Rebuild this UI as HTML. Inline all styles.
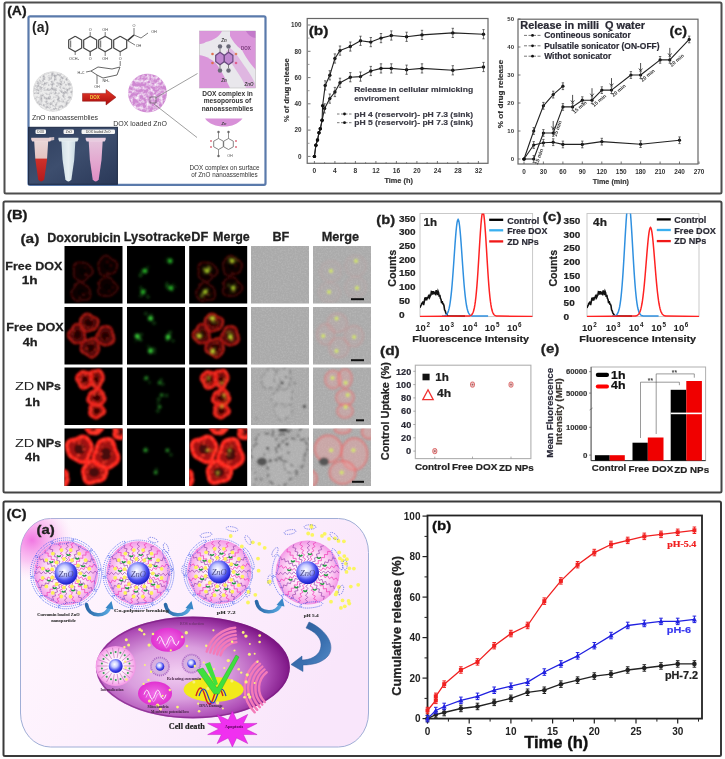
<!DOCTYPE html>
<html><head><meta charset="utf-8"><style>
html,body{margin:0;padding:0;background:#fff;}
svg{display:block;filter:blur(0.45px);}
</style></head><body>
<svg width="725" height="759" viewBox="0 0 725 759">
<rect width="725" height="759" fill="#fff"/>
<rect x="4.5" y="2.5" width="717.0" height="191.0" fill="none" stroke="#4d4d4d" stroke-width="2" rx="1.5" />
<rect x="3.5" y="201.5" width="718.0" height="291.0" fill="none" stroke="#444" stroke-width="2" rx="1.5" />
<rect x="3.5" y="501.5" width="717.5" height="254.5" fill="none" stroke="#3a3a3a" stroke-width="2" rx="1.5" />
<text x="7.16" y="14.90" font-size="13.5" font-weight="bold" fill="#1a1a1a" stroke="#1a1a1a" stroke-width="0.30" font-family="'Liberation Sans',Arial,sans-serif" textLength="19.38" lengthAdjust="spacingAndGlyphs">(A)</text>
<text x="6.96" y="218.80" font-size="13.5" font-weight="bold" fill="#1a1a1a" stroke="#1a1a1a" stroke-width="0.30" font-family="'Liberation Sans',Arial,sans-serif" textLength="20.58" lengthAdjust="spacingAndGlyphs">(B)</text>
<text x="6.46" y="517.60" font-size="13.5" font-weight="bold" fill="#1a1a1a" stroke="#1a1a1a" stroke-width="0.30" font-family="'Liberation Sans',Arial,sans-serif" textLength="20.08" lengthAdjust="spacingAndGlyphs">(C)</text>
<defs>
<filter id="fGrey" x="0" y="0" width="1" height="1"><feTurbulence type="fractalNoise" baseFrequency="0.35" numOctaves="2" seed="3"/>
<feColorMatrix type="matrix" values="0 0 0 0 0.42  0 0 0 0 0.42  0 0 0 0 0.45  -2.6 0 0 0 1.55"/></filter>
<filter id="fPink" x="0" y="0" width="1" height="1"><feTurbulence type="fractalNoise" baseFrequency="0.3" numOctaves="2" seed="5"/>
<feColorMatrix type="matrix" values="0 0 0 0 0.98  0 0 0 0 0.96  0 0 0 0 0.99  -2.2 0 0 0 1.35"/></filter>
<clipPath id="cGrey"><circle cx="53" cy="91.5" r="20"/></clipPath>
<clipPath id="cPink"><circle cx="147.5" cy="93.2" r="19.4"/></clipPath>
<clipPath id="cSq"><rect x="199.5" y="31" width="56" height="57"/></clipPath>
<linearGradient id="gTubeR" x1="0" y1="0" x2="0" y2="1"><stop offset="0" stop-color="#f0dcdc"/><stop offset="0.42" stop-color="#ecc8c4"/><stop offset="0.45" stop-color="#d43028"/><stop offset="1" stop-color="#b81818"/></linearGradient>
<linearGradient id="gTubeW" x1="0" y1="0" x2="1" y2="0"><stop offset="0" stop-color="#d8e6ec"/><stop offset="0.5" stop-color="#eef6f8"/><stop offset="1" stop-color="#d0e0e8"/></linearGradient>
<linearGradient id="gTubeP" x1="0" y1="0" x2="0" y2="1"><stop offset="0" stop-color="#ecc8e0"/><stop offset="1" stop-color="#e890c8"/></linearGradient>
<linearGradient id="gPhoto" x1="0" y1="0" x2="1" y2="1"><stop offset="0" stop-color="#2d3d5c"/><stop offset="0.5" stop-color="#3d4e6e"/><stop offset="1" stop-color="#2a3858"/></linearGradient>
</defs>
<rect x="28.5" y="16.3" width="237.0" height="168.5" fill="none" stroke="#5a7aab" stroke-width="2.2" rx="1.5" />
<text x="32.0" y="32.0" font-size="14" font-weight="bold" text-anchor="start" fill="#222" font-family="'Liberation Sans',Arial,sans-serif" >(a)</text>
<polyline points="75.2,36.3 68.7,40.1 68.7,47.9 75.2,51.7 81.7,47.9 81.7,40.1 75.2,36.3" fill="none" stroke="#444" stroke-width="1.2" stroke-linejoin="round" />
<polyline points="90.2,36.3 83.7,40.1 83.7,47.9 90.2,51.7 96.7,47.9 96.7,40.1 90.2,36.3" fill="none" stroke="#444" stroke-width="1.2" stroke-linejoin="round" />
<polyline points="105.2,36.3 98.7,40.1 98.7,47.9 105.2,51.7 111.7,47.9 111.7,40.1 105.2,36.3" fill="none" stroke="#444" stroke-width="1.2" stroke-linejoin="round" />
<polyline points="120.2,36.3 113.7,40.1 113.7,47.9 120.2,51.7 126.7,47.9 126.7,40.1 120.2,36.3" fill="none" stroke="#444" stroke-width="1.2" stroke-linejoin="round" />
<line x1="70.7" y1="40.5" x2="70.7" y2="47.5" stroke="#555" stroke-width="0.9" />
<line x1="100.7" y1="40.5" x2="100.7" y2="47.5" stroke="#555" stroke-width="0.9" />
<line x1="90.2" y1="37.2" x2="90.2" y2="32.0" stroke="#555" stroke-width="0.8" />
<text x="90.2" y="31.0" font-size="3.8" font-weight="normal" text-anchor="middle" fill="#444" font-family="'Liberation Sans',Arial,sans-serif" >O</text>
<line x1="90.2" y1="50.8" x2="90.2" y2="56.0" stroke="#555" stroke-width="1.2" />
<text x="90.2" y="60.0" font-size="3.8" font-weight="normal" text-anchor="middle" fill="#444" font-family="'Liberation Sans',Arial,sans-serif" >O</text>
<line x1="105.2" y1="37.2" x2="105.2" y2="32.0" stroke="#555" stroke-width="0.8" />
<text x="105.2" y="31.0" font-size="3.8" font-weight="normal" text-anchor="middle" fill="#444" font-family="'Liberation Sans',Arial,sans-serif" >OH</text>
<line x1="105.2" y1="50.8" x2="105.2" y2="56.0" stroke="#555" stroke-width="0.8" />
<text x="105.2" y="60.0" font-size="3.8" font-weight="normal" text-anchor="middle" fill="#444" font-family="'Liberation Sans',Arial,sans-serif" >OH</text>
<line x1="75.2" y1="50.8" x2="75.2" y2="55.0" stroke="#555" stroke-width="0.8" />
<text x="74.0" y="59.5" font-size="3.8" font-weight="normal" text-anchor="middle" fill="#444" font-family="'Liberation Sans',Arial,sans-serif" >OCH₃</text>
<line x1="127.5" y1="40.6" x2="134.0" y2="35.0" stroke="#333" stroke-width="1.6" />
<line x1="134.0" y1="35.0" x2="134.0" y2="28.0" stroke="#555" stroke-width="0.8" />
<text x="134.0" y="27.0" font-size="3.8" font-weight="normal" text-anchor="middle" fill="#444" font-family="'Liberation Sans',Arial,sans-serif" >O</text>
<line x1="134.0" y1="35.0" x2="141.0" y2="38.0" stroke="#555" stroke-width="0.8" />
<line x1="141.0" y1="38.0" x2="148.0" y2="33.0" stroke="#555" stroke-width="0.8" />
<text x="154.0" y="33.0" font-size="3.8" font-weight="normal" text-anchor="middle" fill="#444" font-family="'Liberation Sans',Arial,sans-serif" >OH</text>
<line x1="127.5" y1="40.6" x2="135.0" y2="45.0" stroke="#555" stroke-width="0.8" />
<text x="138.5" y="46.5" font-size="3.8" font-weight="normal" text-anchor="middle" fill="#444" font-family="'Liberation Sans',Arial,sans-serif" >OH</text>
<line x1="120.2" y1="50.8" x2="120.2" y2="56.0" stroke="#555" stroke-width="0.8" />
<text x="120.2" y="59.5" font-size="3.8" font-weight="normal" text-anchor="middle" fill="#444" font-family="'Liberation Sans',Arial,sans-serif" >O</text>
<line x1="120.2" y1="61.0" x2="120.2" y2="66.0" stroke="#555" stroke-width="0.8" />
<polyline points="91.0,71.0 98.0,67.0 112.0,69.0 120.0,67.0 117.0,75.0 103.0,78.0 97.0,75.0 91.0,71.0" fill="none" stroke="#555" stroke-width="0.9" stroke-linejoin="round" />
<line x1="97.0" y1="75.0" x2="97.0" y2="84.0" stroke="#555" stroke-width="0.8" />
<text x="97.0" y="87.5" font-size="3.8" font-weight="normal" text-anchor="middle" fill="#444" font-family="'Liberation Sans',Arial,sans-serif" >OH</text>
<line x1="91.0" y1="71.0" x2="86.0" y2="72.0" stroke="#555" stroke-width="0.8" />
<text x="81.0" y="74.0" font-size="3.8" font-weight="normal" text-anchor="middle" fill="#444" font-family="'Liberation Sans',Arial,sans-serif" >H₃C</text>
<text x="106.0" y="82.0" font-size="3.8" font-weight="normal" text-anchor="middle" fill="#444" font-family="'Liberation Sans',Arial,sans-serif" >NH₂</text>
<circle cx="53" cy="91.5" r="20" fill="#ececec"/>
<g clip-path="url(#cGrey)"><rect x="33" y="71.5" width="40" height="40" filter="url(#fGrey)"/></g>
<circle cx="53" cy="91.5" r="19.6" fill="none" stroke="#e0e0e0" stroke-width="0.8"/>
<text x="65.0" y="119.5" font-size="7" font-weight="normal" text-anchor="middle" fill="#333" font-family="'Liberation Sans',Arial,sans-serif" >ZnO nanoassemblies</text>
<defs><linearGradient id="gArr" x1="0" y1="0" x2="0" y2="1"><stop offset="0" stop-color="#e83a2a"/><stop offset="1" stop-color="#a80c0c"/></linearGradient></defs>
<path d="M82.5,93.4 L106,93.4 L106,89.5 L116,97.3 L106,105 L106,101.2 L82.5,101.2 Z" fill="url(#gArr)" stroke="#901010" stroke-width="0.5"/>
<text x="95.0" y="99.3" font-size="4.5" font-weight="bold" text-anchor="middle" fill="#f6d040" font-family="'Liberation Sans',Arial,sans-serif" >DOX</text>
<circle cx="147.5" cy="93.2" r="19.4" fill="#cf88d2"/>
<g clip-path="url(#cPink)"><rect x="128" y="73.8" width="39" height="39" filter="url(#fPink)"/></g>
<rect x="150" y="97" width="6" height="6" fill="none" stroke="#555" stroke-width="0.6"/>
<text x="140.0" y="125.5" font-size="7" font-weight="normal" text-anchor="middle" fill="#333" font-family="'Liberation Sans',Arial,sans-serif" >DOX loaded ZnO</text>
<line x1="155.5" y1="98.0" x2="197.5" y2="73.5" stroke="#777" stroke-width="0.7" />
<line x1="154.0" y1="104.0" x2="197.0" y2="137.5" stroke="#777" stroke-width="0.7" />
<rect x="199.5" y="31" width="56" height="57" fill="#e9e7ec" stroke="#bbb" stroke-width="0.6"/>
<g clip-path="url(#cSq)" fill="#d890d8" opacity="0.92">
<path d="M199,31 L222,31 C220,36 214,40 206,42 C203,44 200,44 199,44 Z"/>
<path d="M230,31 L256,31 L256,70 C252,66 246,58 242,50 C236,46 232,40 230,36 Z"/>
<path d="M199,55 C206,56 214,60 218,66 C222,72 226,80 230,88 L199,88 Z"/>
<path d="M230,48 C236,52 240,60 246,68 C250,74 254,80 256,86 L256,88 L246,88 C244,82 240,76 236,70 C232,64 228,58 226,52 Z" opacity="0.6"/>
<path d="M246,31 L256,31 L256,38 C252,38 248,35 246,31 Z" fill="#c070c8"/>
</g>
<circle cx="220" cy="46.5" r="2.2" fill="#6a6a78"/>
<circle cx="228.5" cy="46.5" r="2.2" fill="#6a6a78"/>
<circle cx="220" cy="70.5" r="2.2" fill="#6a6a78"/>
<circle cx="228.5" cy="70.5" r="2.2" fill="#6a6a78"/>
<polygon points="220.0,52.3 215.7,55.4 215.7,61.6 220.0,64.7 224.3,61.6 224.3,55.4 220.0,52.3" fill="#c088d0" stroke="#6a4a80" stroke-width="1.2"/>
<polygon points="228.6,52.3 224.3,55.4 224.3,61.6 228.6,64.7 232.9,61.6 232.9,55.4 228.6,52.3" fill="#c088d0" stroke="#6a4a80" stroke-width="1.2"/>
<line x1="220.0" y1="49.0" x2="220.0" y2="52.3" stroke="#666" stroke-width="0.8" />
<line x1="228.5" y1="49.0" x2="228.5" y2="52.3" stroke="#666" stroke-width="0.8" />
<line x1="220.0" y1="64.7" x2="220.0" y2="68.0" stroke="#666" stroke-width="0.8" />
<line x1="228.5" y1="64.7" x2="228.5" y2="68.0" stroke="#666" stroke-width="0.8" />
<circle cx="212.5" cy="54" r="1.3" fill="#e07050"/>
<circle cx="212.5" cy="63" r="1.3" fill="#e07050"/>
<circle cx="236" cy="54" r="1.3" fill="#e08060"/>
<circle cx="236" cy="63" r="1.3" fill="#e06090"/>
<text x="224.0" y="42.0" font-size="4.5" font-weight="bold" text-anchor="middle" fill="#444" font-family="'Liberation Sans',Arial,sans-serif"  style="font-style:italic">Zn</text>
<text x="224.0" y="81.5" font-size="4.5" font-weight="bold" text-anchor="middle" fill="#444" font-family="'Liberation Sans',Arial,sans-serif"  style="font-style:italic">Zn</text>
<text x="246.0" y="49.5" font-size="4.5" font-weight="bold" text-anchor="middle" fill="#7a3a7a" font-family="'Liberation Sans',Arial,sans-serif" >DOX</text>
<text x="249.0" y="86.0" font-size="4.5" font-weight="bold" text-anchor="middle" fill="#444" font-family="'Liberation Sans',Arial,sans-serif"  style="font-style:italic">ZnO</text>
<text x="227.5" y="96.0" font-size="6.6" font-weight="bold" text-anchor="middle" fill="#333" font-family="'Liberation Sans',Arial,sans-serif" >DOX complex in</text>
<text x="227.5" y="103.0" font-size="6.6" font-weight="bold" text-anchor="middle" fill="#333" font-family="'Liberation Sans',Arial,sans-serif" >mesoporous of</text>
<text x="227.5" y="110.5" font-size="6.6" font-weight="bold" text-anchor="middle" fill="#333" font-family="'Liberation Sans',Arial,sans-serif" >nanoassemblies</text>
<path d="M205,118.5 L242.5,118.5 C238,124 232,126.5 224,126.5 C216,126.5 209,124 205,118.5 Z" fill="#d890d8"/>
<text x="224.0" y="125.0" font-size="4" font-weight="bold" text-anchor="middle" fill="#444" font-family="'Liberation Sans',Arial,sans-serif"  style="font-style:italic">Zn</text>
<polyline points="218.5,138.5 213.7,141.2 213.7,146.8 218.5,149.5 223.3,146.8 223.3,141.2 218.5,138.5" fill="none" stroke="#666" stroke-width="0.8" stroke-linejoin="round" />
<polyline points="228.5,138.5 223.7,141.2 223.7,146.8 228.5,149.5 233.3,146.8 233.3,141.2 228.5,138.5" fill="none" stroke="#666" stroke-width="0.8" stroke-linejoin="round" />
<line x1="218.5" y1="138.5" x2="218.5" y2="133.0" stroke="#666" stroke-width="0.7" />
<circle cx="218.5" cy="132" r="1.2" fill="#666"/>
<line x1="228.5" y1="138.5" x2="228.5" y2="133.0" stroke="#666" stroke-width="0.7" />
<circle cx="228.5" cy="132" r="1.2" fill="#666"/>
<line x1="218.5" y1="149.5" x2="218.5" y2="155.0" stroke="#666" stroke-width="0.7" />
<circle cx="218.5" cy="156" r="1.2" fill="#666"/>
<text x="230.0" y="157.0" font-size="3.8" font-weight="normal" text-anchor="middle" fill="#555" font-family="'Liberation Sans',Arial,sans-serif" >OH</text>
<circle cx="211" cy="141" r="1" fill="#e07080"/>
<circle cx="211" cy="147" r="1" fill="#e07080"/>
<circle cx="236" cy="141" r="1" fill="#e07080"/>
<circle cx="236" cy="147" r="1" fill="#e07080"/>
<text x="224.5" y="169.5" font-size="6.3" font-weight="normal" text-anchor="middle" fill="#333" font-family="'Liberation Sans',Arial,sans-serif" >DOX complex on surface</text>
<text x="224.5" y="176.5" font-size="6.3" font-weight="normal" text-anchor="middle" fill="#333" font-family="'Liberation Sans',Arial,sans-serif" >of ZnO nanoassemblies</text>
<rect x="28.6" y="127.3" width="88.8" height="57.0" fill="url(#gPhoto)" stroke="none" stroke-width="1" rx="0" />
<rect x="28.6" y="127.3" width="88.8" height="57.0" fill="none" stroke="#1c2844" stroke-width="1" rx="0" />
<rect x="35.5" y="129.5" width="10.5" height="4.5" fill="#f4f4f4" stroke="none" stroke-width="1" rx="1.2" />
<text x="40.8" y="133.1" font-size="3.2" font-weight="normal" text-anchor="middle" fill="#333" font-family="'Liberation Sans',Arial,sans-serif" >DOX</text>
<rect x="63.5" y="129.5" width="10.5" height="4.5" fill="#f4f4f4" stroke="none" stroke-width="1" rx="1.2" />
<text x="68.8" y="133.1" font-size="3.2" font-weight="normal" text-anchor="middle" fill="#333" font-family="'Liberation Sans',Arial,sans-serif" >ZnO</text>
<rect x="81.5" y="129.5" width="33.5" height="4.5" fill="#f4f4f4" stroke="none" stroke-width="1" rx="1.2" />
<text x="98.2" y="133.1" font-size="3.2" font-weight="normal" text-anchor="middle" fill="#333" font-family="'Liberation Sans',Arial,sans-serif" >DOX loaded ZnO</text>
<path d="M34.2,141 L48.2,141 L47.0,160 L44.2,179.5 Q41.2,183.5 38.2,179.5 L35.400000000000006,160 Z" fill="url(#gTubeR)" opacity="0.96"/>
<path d="M31.200000000000003,137.8 L51.2,137.8 Q51.7,139.5 50.2,141.4 L32.2,141.4 Q30.700000000000003,139.5 31.200000000000003,137.8 Z" fill="#f0d8d8" opacity="0.95"/>
<path d="M49.2,137.5 L54.2,137 L54.2,140 L49.2,141 Z" fill="#f0d8d8" opacity="0.8"/>
<path d="M61.400000000000006,141 L75.4,141 L74.2,160 L71.4,179.5 Q68.4,183.5 65.4,179.5 L62.60000000000001,160 Z" fill="url(#gTubeW)" opacity="0.96"/>
<path d="M58.400000000000006,137.8 L78.4,137.8 Q78.9,139.5 77.4,141.4 L59.400000000000006,141.4 Q57.900000000000006,139.5 58.400000000000006,137.8 Z" fill="#e8f0f2" opacity="0.95"/>
<path d="M88.7,141 L102.7,141 L101.5,160 L98.7,179.5 Q95.7,183.5 92.7,179.5 L89.9,160 Z" fill="url(#gTubeP)" opacity="0.96"/>
<path d="M85.7,137.8 L105.7,137.8 Q106.2,139.5 104.7,141.4 L86.7,141.4 Q85.2,139.5 85.7,137.8 Z" fill="#f0d4e6" opacity="0.95"/>
<rect x="307.2" y="18.5" width="180.8" height="144.8" fill="none" stroke="#666" stroke-width="1.2" rx="0" />
<line x1="314.4" y1="163.5" x2="314.4" y2="161.0" stroke="#555" stroke-width="0.8" />
<text x="314.4" y="172.6" font-size="6.6" font-weight="bold" text-anchor="middle" fill="#333" font-family="'Liberation Sans',Arial,sans-serif" >0</text>
<line x1="334.9" y1="163.5" x2="334.9" y2="161.0" stroke="#555" stroke-width="0.8" />
<text x="334.9" y="172.6" font-size="6.6" font-weight="bold" text-anchor="middle" fill="#333" font-family="'Liberation Sans',Arial,sans-serif" >4</text>
<line x1="355.4" y1="163.5" x2="355.4" y2="161.0" stroke="#555" stroke-width="0.8" />
<text x="355.4" y="172.6" font-size="6.6" font-weight="bold" text-anchor="middle" fill="#333" font-family="'Liberation Sans',Arial,sans-serif" >8</text>
<line x1="375.9" y1="163.5" x2="375.9" y2="161.0" stroke="#555" stroke-width="0.8" />
<text x="375.9" y="172.6" font-size="6.6" font-weight="bold" text-anchor="middle" fill="#333" font-family="'Liberation Sans',Arial,sans-serif" >12</text>
<line x1="396.4" y1="163.5" x2="396.4" y2="161.0" stroke="#555" stroke-width="0.8" />
<text x="396.4" y="172.6" font-size="6.6" font-weight="bold" text-anchor="middle" fill="#333" font-family="'Liberation Sans',Arial,sans-serif" >16</text>
<line x1="416.9" y1="163.5" x2="416.9" y2="161.0" stroke="#555" stroke-width="0.8" />
<text x="416.9" y="172.6" font-size="6.6" font-weight="bold" text-anchor="middle" fill="#333" font-family="'Liberation Sans',Arial,sans-serif" >20</text>
<line x1="437.4" y1="163.5" x2="437.4" y2="161.0" stroke="#555" stroke-width="0.8" />
<text x="437.4" y="172.6" font-size="6.6" font-weight="bold" text-anchor="middle" fill="#333" font-family="'Liberation Sans',Arial,sans-serif" >24</text>
<line x1="457.9" y1="163.5" x2="457.9" y2="161.0" stroke="#555" stroke-width="0.8" />
<text x="457.9" y="172.6" font-size="6.6" font-weight="bold" text-anchor="middle" fill="#333" font-family="'Liberation Sans',Arial,sans-serif" >28</text>
<line x1="478.4" y1="163.5" x2="478.4" y2="161.0" stroke="#555" stroke-width="0.8" />
<text x="478.4" y="172.6" font-size="6.6" font-weight="bold" text-anchor="middle" fill="#333" font-family="'Liberation Sans',Arial,sans-serif" >32</text>
<line x1="324.6" y1="163.5" x2="324.6" y2="162.0" stroke="#555" stroke-width="0.6" />
<line x1="345.1" y1="163.5" x2="345.1" y2="162.0" stroke="#555" stroke-width="0.6" />
<line x1="365.6" y1="163.5" x2="365.6" y2="162.0" stroke="#555" stroke-width="0.6" />
<line x1="386.1" y1="163.5" x2="386.1" y2="162.0" stroke="#555" stroke-width="0.6" />
<line x1="406.6" y1="163.5" x2="406.6" y2="162.0" stroke="#555" stroke-width="0.6" />
<line x1="427.1" y1="163.5" x2="427.1" y2="162.0" stroke="#555" stroke-width="0.6" />
<line x1="447.6" y1="163.5" x2="447.6" y2="162.0" stroke="#555" stroke-width="0.6" />
<line x1="468.1" y1="163.5" x2="468.1" y2="162.0" stroke="#555" stroke-width="0.6" />
<line x1="308.0" y1="156.4" x2="310.5" y2="156.4" stroke="#555" stroke-width="0.8" />
<text x="301.5" y="158.6" font-size="6.3" font-weight="bold" text-anchor="end" fill="#333" font-family="'Liberation Sans',Arial,sans-serif" >0</text>
<line x1="308.0" y1="130.1" x2="310.5" y2="130.1" stroke="#555" stroke-width="0.8" />
<text x="301.5" y="132.3" font-size="6.3" font-weight="bold" text-anchor="end" fill="#333" font-family="'Liberation Sans',Arial,sans-serif" >20</text>
<line x1="308.0" y1="103.8" x2="310.5" y2="103.8" stroke="#555" stroke-width="0.8" />
<text x="301.5" y="106.0" font-size="6.3" font-weight="bold" text-anchor="end" fill="#333" font-family="'Liberation Sans',Arial,sans-serif" >40</text>
<line x1="308.0" y1="77.6" x2="310.5" y2="77.6" stroke="#555" stroke-width="0.8" />
<text x="301.5" y="79.8" font-size="6.3" font-weight="bold" text-anchor="end" fill="#333" font-family="'Liberation Sans',Arial,sans-serif" >60</text>
<line x1="308.0" y1="51.3" x2="310.5" y2="51.3" stroke="#555" stroke-width="0.8" />
<text x="301.5" y="53.5" font-size="6.3" font-weight="bold" text-anchor="end" fill="#333" font-family="'Liberation Sans',Arial,sans-serif" >80</text>
<line x1="308.0" y1="25.0" x2="310.5" y2="25.0" stroke="#555" stroke-width="0.8" />
<text x="301.5" y="27.2" font-size="6.3" font-weight="bold" text-anchor="end" fill="#333" font-family="'Liberation Sans',Arial,sans-serif" >100</text>
<line x1="308.0" y1="143.3" x2="309.5" y2="143.3" stroke="#555" stroke-width="0.6" />
<line x1="308.0" y1="117.0" x2="309.5" y2="117.0" stroke="#555" stroke-width="0.6" />
<line x1="308.0" y1="90.7" x2="309.5" y2="90.7" stroke="#555" stroke-width="0.6" />
<line x1="308.0" y1="64.4" x2="309.5" y2="64.4" stroke="#555" stroke-width="0.6" />
<line x1="308.0" y1="38.1" x2="309.5" y2="38.1" stroke="#555" stroke-width="0.6" />
<text x="384.41" y="183.30" font-size="7.2" font-weight="bold" fill="#333" stroke="#333" stroke-width="0.16" font-family="'Liberation Sans',Arial,sans-serif" textLength="28.48" lengthAdjust="spacingAndGlyphs">Time (h)</text>
<text x="0" y="0" transform="translate(288.60,122.06) rotate(-90)" font-size="6.6" font-weight="bold" fill="#333" stroke="#333" stroke-width="0.15" font-family="'Liberation Sans',Arial,sans-serif" textLength="63.83" lengthAdjust="spacingAndGlyphs">% of drug release</text>
<text x="308.68" y="34.50" font-size="13" font-weight="bold" fill="#1a1a1a" stroke="#1a1a1a" stroke-width="0.29" font-family="'Liberation Sans',Arial,sans-serif" textLength="19.84" lengthAdjust="spacingAndGlyphs">(b)</text>
<polyline points="314.4,156.4 315.9,145.2 317.5,140.0 319.0,132.7 320.3,128.8 322.1,120.3 322.6,105.8 325.2,85.4 329.8,75.3 334.9,58.5 340.0,50.6 350.3,46.5 360.5,40.8 370.8,42.1 381.0,38.1 391.3,35.5 406.6,36.8 422.0,34.9 452.8,32.9 483.5,34.2" fill="none" stroke="#222" stroke-width="1.1" stroke-linejoin="round" />
<circle cx="314.4" cy="156.4" r="1.7" fill="#111"/>
<circle cx="315.9" cy="145.2" r="1.7" fill="#111"/>
<circle cx="317.5" cy="140.0" r="1.7" fill="#111"/>
<circle cx="319.0" cy="132.7" r="1.7" fill="#111"/>
<circle cx="320.3" cy="128.8" r="1.7" fill="#111"/>
<circle cx="322.1" cy="120.3" r="1.7" fill="#111"/>
<circle cx="322.6" cy="105.8" r="1.7" fill="#111"/>
<circle cx="325.2" cy="85.4" r="1.7" fill="#111"/>
<line x1="325.2" y1="80.8" x2="325.2" y2="90.0" stroke="#333" stroke-width="0.7" />
<line x1="324.0" y1="80.8" x2="326.4" y2="80.8" stroke="#333" stroke-width="0.7" />
<line x1="324.0" y1="90.0" x2="326.4" y2="90.0" stroke="#333" stroke-width="0.7" />
<circle cx="329.8" cy="75.3" r="1.7" fill="#111"/>
<line x1="329.8" y1="70.7" x2="329.8" y2="79.9" stroke="#333" stroke-width="0.7" />
<line x1="328.6" y1="70.7" x2="331.0" y2="70.7" stroke="#333" stroke-width="0.7" />
<line x1="328.6" y1="79.9" x2="331.0" y2="79.9" stroke="#333" stroke-width="0.7" />
<circle cx="334.9" cy="58.5" r="1.7" fill="#111"/>
<line x1="334.9" y1="53.9" x2="334.9" y2="63.1" stroke="#333" stroke-width="0.7" />
<line x1="333.7" y1="53.9" x2="336.1" y2="53.9" stroke="#333" stroke-width="0.7" />
<line x1="333.7" y1="63.1" x2="336.1" y2="63.1" stroke="#333" stroke-width="0.7" />
<circle cx="340.0" cy="50.6" r="1.7" fill="#111"/>
<line x1="340.0" y1="46.0" x2="340.0" y2="55.2" stroke="#333" stroke-width="0.7" />
<line x1="338.8" y1="46.0" x2="341.2" y2="46.0" stroke="#333" stroke-width="0.7" />
<line x1="338.8" y1="55.2" x2="341.2" y2="55.2" stroke="#333" stroke-width="0.7" />
<circle cx="350.3" cy="46.5" r="1.7" fill="#111"/>
<line x1="350.3" y1="42.0" x2="350.3" y2="51.1" stroke="#333" stroke-width="0.7" />
<line x1="349.1" y1="42.0" x2="351.5" y2="42.0" stroke="#333" stroke-width="0.7" />
<line x1="349.1" y1="51.1" x2="351.5" y2="51.1" stroke="#333" stroke-width="0.7" />
<circle cx="360.5" cy="40.8" r="1.7" fill="#111"/>
<line x1="360.5" y1="36.2" x2="360.5" y2="45.4" stroke="#333" stroke-width="0.7" />
<line x1="359.3" y1="36.2" x2="361.7" y2="36.2" stroke="#333" stroke-width="0.7" />
<line x1="359.3" y1="45.4" x2="361.7" y2="45.4" stroke="#333" stroke-width="0.7" />
<circle cx="370.8" cy="42.1" r="1.7" fill="#111"/>
<line x1="370.8" y1="37.5" x2="370.8" y2="46.7" stroke="#333" stroke-width="0.7" />
<line x1="369.6" y1="37.5" x2="372.0" y2="37.5" stroke="#333" stroke-width="0.7" />
<line x1="369.6" y1="46.7" x2="372.0" y2="46.7" stroke="#333" stroke-width="0.7" />
<circle cx="381.0" cy="38.1" r="1.7" fill="#111"/>
<line x1="381.0" y1="33.5" x2="381.0" y2="42.7" stroke="#333" stroke-width="0.7" />
<line x1="379.8" y1="33.5" x2="382.2" y2="33.5" stroke="#333" stroke-width="0.7" />
<line x1="379.8" y1="42.7" x2="382.2" y2="42.7" stroke="#333" stroke-width="0.7" />
<circle cx="391.3" cy="35.5" r="1.7" fill="#111"/>
<line x1="391.3" y1="30.9" x2="391.3" y2="40.1" stroke="#333" stroke-width="0.7" />
<line x1="390.1" y1="30.9" x2="392.5" y2="30.9" stroke="#333" stroke-width="0.7" />
<line x1="390.1" y1="40.1" x2="392.5" y2="40.1" stroke="#333" stroke-width="0.7" />
<circle cx="406.6" cy="36.8" r="1.7" fill="#111"/>
<line x1="406.6" y1="32.2" x2="406.6" y2="41.4" stroke="#333" stroke-width="0.7" />
<line x1="405.4" y1="32.2" x2="407.8" y2="32.2" stroke="#333" stroke-width="0.7" />
<line x1="405.4" y1="41.4" x2="407.8" y2="41.4" stroke="#333" stroke-width="0.7" />
<circle cx="422.0" cy="34.9" r="1.7" fill="#111"/>
<line x1="422.0" y1="30.3" x2="422.0" y2="39.5" stroke="#333" stroke-width="0.7" />
<line x1="420.8" y1="30.3" x2="423.2" y2="30.3" stroke="#333" stroke-width="0.7" />
<line x1="420.8" y1="39.5" x2="423.2" y2="39.5" stroke="#333" stroke-width="0.7" />
<circle cx="452.8" cy="32.9" r="1.7" fill="#111"/>
<line x1="452.8" y1="28.3" x2="452.8" y2="37.5" stroke="#333" stroke-width="0.7" />
<line x1="451.6" y1="28.3" x2="454.0" y2="28.3" stroke="#333" stroke-width="0.7" />
<line x1="451.6" y1="37.5" x2="454.0" y2="37.5" stroke="#333" stroke-width="0.7" />
<circle cx="483.5" cy="34.2" r="1.7" fill="#111"/>
<line x1="483.5" y1="29.6" x2="483.5" y2="38.8" stroke="#333" stroke-width="0.7" />
<line x1="482.3" y1="29.6" x2="484.7" y2="29.6" stroke="#333" stroke-width="0.7" />
<line x1="482.3" y1="38.8" x2="484.7" y2="38.8" stroke="#333" stroke-width="0.7" />
<polyline points="314.4,156.4 315.9,145.2 317.5,140.0 319.0,132.7 320.3,128.8 322.1,120.3 324.6,108.4 329.8,98.6 334.9,92.0 340.0,82.8 350.3,77.2 360.5,76.6 370.8,71.0 381.0,68.4 391.3,68.4 406.6,69.7 422.0,68.4 452.8,70.3 483.5,67.0" fill="none" stroke="#222" stroke-width="1.1" stroke-linejoin="round" />
<circle cx="314.4" cy="156.4" r="1.7" fill="#111"/>
<circle cx="315.9" cy="145.2" r="1.7" fill="#111"/>
<circle cx="317.5" cy="140.0" r="1.7" fill="#111"/>
<circle cx="319.0" cy="132.7" r="1.7" fill="#111"/>
<circle cx="320.3" cy="128.8" r="1.7" fill="#111"/>
<circle cx="322.1" cy="120.3" r="1.7" fill="#111"/>
<circle cx="324.6" cy="108.4" r="1.7" fill="#111"/>
<line x1="324.6" y1="103.8" x2="324.6" y2="113.0" stroke="#333" stroke-width="0.7" />
<line x1="323.4" y1="103.8" x2="325.8" y2="103.8" stroke="#333" stroke-width="0.7" />
<line x1="323.4" y1="113.0" x2="325.8" y2="113.0" stroke="#333" stroke-width="0.7" />
<circle cx="329.8" cy="98.6" r="1.7" fill="#111"/>
<line x1="329.8" y1="94.0" x2="329.8" y2="103.2" stroke="#333" stroke-width="0.7" />
<line x1="328.6" y1="94.0" x2="331.0" y2="94.0" stroke="#333" stroke-width="0.7" />
<line x1="328.6" y1="103.2" x2="331.0" y2="103.2" stroke="#333" stroke-width="0.7" />
<circle cx="334.9" cy="92.0" r="1.7" fill="#111"/>
<line x1="334.9" y1="87.4" x2="334.9" y2="96.6" stroke="#333" stroke-width="0.7" />
<line x1="333.7" y1="87.4" x2="336.1" y2="87.4" stroke="#333" stroke-width="0.7" />
<line x1="333.7" y1="96.6" x2="336.1" y2="96.6" stroke="#333" stroke-width="0.7" />
<circle cx="340.0" cy="82.8" r="1.7" fill="#111"/>
<line x1="340.0" y1="78.2" x2="340.0" y2="87.4" stroke="#333" stroke-width="0.7" />
<line x1="338.8" y1="78.2" x2="341.2" y2="78.2" stroke="#333" stroke-width="0.7" />
<line x1="338.8" y1="87.4" x2="341.2" y2="87.4" stroke="#333" stroke-width="0.7" />
<circle cx="350.3" cy="77.2" r="1.7" fill="#111"/>
<line x1="350.3" y1="72.6" x2="350.3" y2="81.8" stroke="#333" stroke-width="0.7" />
<line x1="349.1" y1="72.6" x2="351.5" y2="72.6" stroke="#333" stroke-width="0.7" />
<line x1="349.1" y1="81.8" x2="351.5" y2="81.8" stroke="#333" stroke-width="0.7" />
<circle cx="360.5" cy="76.6" r="1.7" fill="#111"/>
<line x1="360.5" y1="72.0" x2="360.5" y2="81.2" stroke="#333" stroke-width="0.7" />
<line x1="359.3" y1="72.0" x2="361.7" y2="72.0" stroke="#333" stroke-width="0.7" />
<line x1="359.3" y1="81.2" x2="361.7" y2="81.2" stroke="#333" stroke-width="0.7" />
<circle cx="370.8" cy="71.0" r="1.7" fill="#111"/>
<line x1="370.8" y1="66.4" x2="370.8" y2="75.6" stroke="#333" stroke-width="0.7" />
<line x1="369.6" y1="66.4" x2="372.0" y2="66.4" stroke="#333" stroke-width="0.7" />
<line x1="369.6" y1="75.6" x2="372.0" y2="75.6" stroke="#333" stroke-width="0.7" />
<circle cx="381.0" cy="68.4" r="1.7" fill="#111"/>
<line x1="381.0" y1="63.8" x2="381.0" y2="73.0" stroke="#333" stroke-width="0.7" />
<line x1="379.8" y1="63.8" x2="382.2" y2="63.8" stroke="#333" stroke-width="0.7" />
<line x1="379.8" y1="73.0" x2="382.2" y2="73.0" stroke="#333" stroke-width="0.7" />
<circle cx="391.3" cy="68.4" r="1.7" fill="#111"/>
<line x1="391.3" y1="63.8" x2="391.3" y2="73.0" stroke="#333" stroke-width="0.7" />
<line x1="390.1" y1="63.8" x2="392.5" y2="63.8" stroke="#333" stroke-width="0.7" />
<line x1="390.1" y1="73.0" x2="392.5" y2="73.0" stroke="#333" stroke-width="0.7" />
<circle cx="406.6" cy="69.7" r="1.7" fill="#111"/>
<line x1="406.6" y1="65.1" x2="406.6" y2="74.3" stroke="#333" stroke-width="0.7" />
<line x1="405.4" y1="65.1" x2="407.8" y2="65.1" stroke="#333" stroke-width="0.7" />
<line x1="405.4" y1="74.3" x2="407.8" y2="74.3" stroke="#333" stroke-width="0.7" />
<circle cx="422.0" cy="68.4" r="1.7" fill="#111"/>
<line x1="422.0" y1="63.8" x2="422.0" y2="73.0" stroke="#333" stroke-width="0.7" />
<line x1="420.8" y1="63.8" x2="423.2" y2="63.8" stroke="#333" stroke-width="0.7" />
<line x1="420.8" y1="73.0" x2="423.2" y2="73.0" stroke="#333" stroke-width="0.7" />
<circle cx="452.8" cy="70.3" r="1.7" fill="#111"/>
<line x1="452.8" y1="65.7" x2="452.8" y2="74.9" stroke="#333" stroke-width="0.7" />
<line x1="451.6" y1="65.7" x2="454.0" y2="65.7" stroke="#333" stroke-width="0.7" />
<line x1="451.6" y1="74.9" x2="454.0" y2="74.9" stroke="#333" stroke-width="0.7" />
<circle cx="483.5" cy="67.0" r="1.7" fill="#111"/>
<line x1="483.5" y1="62.4" x2="483.5" y2="71.6" stroke="#333" stroke-width="0.7" />
<line x1="482.3" y1="62.4" x2="484.7" y2="62.4" stroke="#333" stroke-width="0.7" />
<line x1="482.3" y1="71.6" x2="484.7" y2="71.6" stroke="#333" stroke-width="0.7" />
<text x="354.18" y="92.00" font-size="8.0" font-weight="bold" fill="#3a3a44" stroke="#3a3a44" stroke-width="0.18" font-family="'Liberation Sans',Arial,sans-serif" textLength="118.94" lengthAdjust="spacingAndGlyphs">Release in cellular mimicking</text>
<text x="354.18" y="100.80" font-size="8.0" font-weight="bold" fill="#3a3a44" stroke="#3a3a44" stroke-width="0.18" font-family="'Liberation Sans',Arial,sans-serif" textLength="45.04" lengthAdjust="spacingAndGlyphs">enviroment</text>
<line x1="337.0" y1="114.0" x2="352.0" y2="114.0" stroke="#555" stroke-width="0.8" stroke-dasharray="2.5,1.5"/>
<circle cx="344.5" cy="114.0" r="1.4" fill="#111"/>
<text x="354.18" y="116.70" font-size="8.0" font-weight="bold" fill="#3a3a44" stroke="#3a3a44" stroke-width="0.18" font-family="'Liberation Sans',Arial,sans-serif" textLength="118.94" lengthAdjust="spacingAndGlyphs">pH 4 (reservoir)- pH 7.3 (sink)</text>
<line x1="337.0" y1="122.7" x2="352.0" y2="122.7" stroke="#555" stroke-width="0.8" stroke-dasharray="2.5,1.5"/>
<circle cx="344.5" cy="122.7" r="1.4" fill="#111"/>
<text x="354.18" y="125.40" font-size="8.0" font-weight="bold" fill="#3a3a44" stroke="#3a3a44" stroke-width="0.18" font-family="'Liberation Sans',Arial,sans-serif" textLength="118.94" lengthAdjust="spacingAndGlyphs">pH 5 (reservoir)- pH 7.3 (sink)</text>
<rect x="518.0" y="19.2" width="180.0" height="144.8" fill="none" stroke="#666" stroke-width="1.2" rx="0" />
<line x1="524.0" y1="164.0" x2="524.0" y2="161.5" stroke="#555" stroke-width="0.8" />
<text x="524.0" y="174.0" font-size="6.4" font-weight="bold" text-anchor="middle" fill="#333" font-family="'Liberation Sans',Arial,sans-serif" >0</text>
<line x1="543.4" y1="164.0" x2="543.4" y2="161.5" stroke="#555" stroke-width="0.8" />
<text x="543.4" y="174.0" font-size="6.4" font-weight="bold" text-anchor="middle" fill="#333" font-family="'Liberation Sans',Arial,sans-serif" >30</text>
<line x1="562.9" y1="164.0" x2="562.9" y2="161.5" stroke="#555" stroke-width="0.8" />
<text x="562.9" y="174.0" font-size="6.4" font-weight="bold" text-anchor="middle" fill="#333" font-family="'Liberation Sans',Arial,sans-serif" >60</text>
<line x1="582.3" y1="164.0" x2="582.3" y2="161.5" stroke="#555" stroke-width="0.8" />
<text x="582.3" y="174.0" font-size="6.4" font-weight="bold" text-anchor="middle" fill="#333" font-family="'Liberation Sans',Arial,sans-serif" >90</text>
<line x1="601.8" y1="164.0" x2="601.8" y2="161.5" stroke="#555" stroke-width="0.8" />
<text x="601.8" y="174.0" font-size="6.4" font-weight="bold" text-anchor="middle" fill="#333" font-family="'Liberation Sans',Arial,sans-serif" >120</text>
<line x1="621.2" y1="164.0" x2="621.2" y2="161.5" stroke="#555" stroke-width="0.8" />
<text x="621.2" y="174.0" font-size="6.4" font-weight="bold" text-anchor="middle" fill="#333" font-family="'Liberation Sans',Arial,sans-serif" >150</text>
<line x1="640.6" y1="164.0" x2="640.6" y2="161.5" stroke="#555" stroke-width="0.8" />
<text x="640.6" y="174.0" font-size="6.4" font-weight="bold" text-anchor="middle" fill="#333" font-family="'Liberation Sans',Arial,sans-serif" >180</text>
<line x1="660.1" y1="164.0" x2="660.1" y2="161.5" stroke="#555" stroke-width="0.8" />
<text x="660.1" y="174.0" font-size="6.4" font-weight="bold" text-anchor="middle" fill="#333" font-family="'Liberation Sans',Arial,sans-serif" >210</text>
<line x1="679.5" y1="164.0" x2="679.5" y2="161.5" stroke="#555" stroke-width="0.8" />
<text x="679.5" y="174.0" font-size="6.4" font-weight="bold" text-anchor="middle" fill="#333" font-family="'Liberation Sans',Arial,sans-serif" >240</text>
<line x1="699.0" y1="164.0" x2="699.0" y2="161.5" stroke="#555" stroke-width="0.8" />
<text x="699.0" y="174.0" font-size="6.4" font-weight="bold" text-anchor="middle" fill="#333" font-family="'Liberation Sans',Arial,sans-serif" >270</text>
<line x1="518.0" y1="159.0" x2="520.5" y2="159.0" stroke="#555" stroke-width="0.8" />
<text x="514.0" y="161.2" font-size="6" font-weight="bold" text-anchor="end" fill="#333" font-family="'Liberation Sans',Arial,sans-serif" >0</text>
<line x1="518.0" y1="131.0" x2="520.5" y2="131.0" stroke="#555" stroke-width="0.8" />
<text x="514.0" y="133.2" font-size="6" font-weight="bold" text-anchor="end" fill="#333" font-family="'Liberation Sans',Arial,sans-serif" >10</text>
<line x1="518.0" y1="103.0" x2="520.5" y2="103.0" stroke="#555" stroke-width="0.8" />
<text x="514.0" y="105.2" font-size="6" font-weight="bold" text-anchor="end" fill="#333" font-family="'Liberation Sans',Arial,sans-serif" >20</text>
<line x1="518.0" y1="75.0" x2="520.5" y2="75.0" stroke="#555" stroke-width="0.8" />
<text x="514.0" y="77.2" font-size="6" font-weight="bold" text-anchor="end" fill="#333" font-family="'Liberation Sans',Arial,sans-serif" >30</text>
<line x1="518.0" y1="47.0" x2="520.5" y2="47.0" stroke="#555" stroke-width="0.8" />
<text x="514.0" y="49.2" font-size="6" font-weight="bold" text-anchor="end" fill="#333" font-family="'Liberation Sans',Arial,sans-serif" >40</text>
<line x1="518.0" y1="19.0" x2="520.5" y2="19.0" stroke="#555" stroke-width="0.8" />
<text x="514.0" y="21.2" font-size="6" font-weight="bold" text-anchor="end" fill="#333" font-family="'Liberation Sans',Arial,sans-serif" >50</text>
<text x="592.71" y="184.30" font-size="7.2" font-weight="bold" fill="#333" stroke="#333" stroke-width="0.16" font-family="'Liberation Sans',Arial,sans-serif" textLength="36.28" lengthAdjust="spacingAndGlyphs">Time (min)</text>
<text x="0" y="0" transform="translate(503.00,128.26) rotate(-90)" font-size="6.6" font-weight="bold" fill="#333" stroke="#333" stroke-width="0.15" font-family="'Liberation Sans',Arial,sans-serif" textLength="68.53" lengthAdjust="spacingAndGlyphs">% of drug release</text>
<text x="520.36" y="28.50" font-size="11" font-weight="bold" fill="#2a2a35" stroke="#2a2a35" stroke-width="0.24" font-family="'Liberation Sans',Arial,sans-serif" textLength="124.68" lengthAdjust="spacingAndGlyphs">Release in milli&#160; Q water</text>
<text x="669.48" y="35.20" font-size="13" font-weight="bold" fill="#1a1a1a" stroke="#1a1a1a" stroke-width="0.29" font-family="'Liberation Sans',Arial,sans-serif" textLength="17.54" lengthAdjust="spacingAndGlyphs">(c)</text>
<line x1="524.0" y1="35.4" x2="541.5" y2="35.4" stroke="#555" stroke-width="0.8" stroke-dasharray="3,1.5"/>
<circle cx="532.5" cy="35.400000000000006" r="1.4" fill="#111"/>
<text x="544.17" y="38.20" font-size="8.2" font-weight="bold" fill="#2a2a35" stroke="#2a2a35" stroke-width="0.18" font-family="'Liberation Sans',Arial,sans-serif" textLength="86.56" lengthAdjust="spacingAndGlyphs">Contineous sonicator</text>
<line x1="524.0" y1="45.8" x2="541.5" y2="45.8" stroke="#555" stroke-width="0.8" stroke-dasharray="3,1.5"/>
<circle cx="532.5" cy="45.800000000000004" r="1.4" fill="#111"/>
<text x="544.17" y="48.60" font-size="8.2" font-weight="bold" fill="#2a2a35" stroke="#2a2a35" stroke-width="0.18" font-family="'Liberation Sans',Arial,sans-serif" textLength="115.36" lengthAdjust="spacingAndGlyphs">Pulsatile sonicator (ON-OFF)</text>
<line x1="524.0" y1="56.2" x2="541.5" y2="56.2" stroke="#555" stroke-width="0.8" stroke-dasharray="3,1.5"/>
<circle cx="532.5" cy="56.2" r="1.4" fill="#111"/>
<text x="544.17" y="59.00" font-size="8.2" font-weight="bold" fill="#2a2a35" stroke="#2a2a35" stroke-width="0.18" font-family="'Liberation Sans',Arial,sans-serif" textLength="67.06" lengthAdjust="spacingAndGlyphs">Withot sonicator</text>
<polyline points="524.0,159.0 533.7,131.0 543.4,105.8 553.2,94.6 562.9,86.2" fill="none" stroke="#222" stroke-width="1.1" stroke-linejoin="round" />
<circle cx="524.0" cy="159.0" r="1.6" fill="#111"/>
<circle cx="533.7" cy="131.0" r="1.6" fill="#111"/>
<line x1="533.7" y1="127.6" x2="533.7" y2="134.4" stroke="#333" stroke-width="0.7" />
<line x1="532.5" y1="127.6" x2="534.9" y2="127.6" stroke="#333" stroke-width="0.7" />
<line x1="532.5" y1="134.4" x2="534.9" y2="134.4" stroke="#333" stroke-width="0.7" />
<circle cx="543.4" cy="105.8" r="1.6" fill="#111"/>
<line x1="543.4" y1="102.4" x2="543.4" y2="109.2" stroke="#333" stroke-width="0.7" />
<line x1="542.2" y1="102.4" x2="544.6" y2="102.4" stroke="#333" stroke-width="0.7" />
<line x1="542.2" y1="109.2" x2="544.6" y2="109.2" stroke="#333" stroke-width="0.7" />
<circle cx="553.2" cy="94.6" r="1.6" fill="#111"/>
<line x1="553.2" y1="91.2" x2="553.2" y2="98.0" stroke="#333" stroke-width="0.7" />
<line x1="552.0" y1="91.2" x2="554.4" y2="91.2" stroke="#333" stroke-width="0.7" />
<line x1="552.0" y1="98.0" x2="554.4" y2="98.0" stroke="#333" stroke-width="0.7" />
<circle cx="562.9" cy="86.2" r="1.6" fill="#111"/>
<line x1="562.9" y1="82.8" x2="562.9" y2="89.6" stroke="#333" stroke-width="0.7" />
<line x1="561.7" y1="82.8" x2="564.1" y2="82.8" stroke="#333" stroke-width="0.7" />
<line x1="561.7" y1="89.6" x2="564.1" y2="89.6" stroke="#333" stroke-width="0.7" />
<polyline points="524.0,159.0 533.7,159.0 543.4,133.0 553.2,133.0 562.9,106.9 572.6,106.9 582.3,100.2 592.0,100.2 601.8,90.1 611.5,90.1 630.9,75.0 640.6,75.0 660.1,59.9 669.8,59.9 689.2,39.4" fill="none" stroke="#222" stroke-width="1.1" stroke-linejoin="round" />
<circle cx="524.0" cy="159.0" r="1.6" fill="#111"/>
<circle cx="533.7" cy="159.0" r="1.6" fill="#111"/>
<line x1="533.7" y1="155.6" x2="533.7" y2="162.4" stroke="#333" stroke-width="0.7" />
<line x1="532.5" y1="155.6" x2="534.9" y2="155.6" stroke="#333" stroke-width="0.7" />
<line x1="532.5" y1="162.4" x2="534.9" y2="162.4" stroke="#333" stroke-width="0.7" />
<circle cx="543.4" cy="133.0" r="1.6" fill="#111"/>
<line x1="543.4" y1="129.6" x2="543.4" y2="136.3" stroke="#333" stroke-width="0.7" />
<line x1="542.2" y1="129.6" x2="544.6" y2="129.6" stroke="#333" stroke-width="0.7" />
<line x1="542.2" y1="136.3" x2="544.6" y2="136.3" stroke="#333" stroke-width="0.7" />
<circle cx="553.2" cy="133.0" r="1.6" fill="#111"/>
<line x1="553.2" y1="129.6" x2="553.2" y2="136.3" stroke="#333" stroke-width="0.7" />
<line x1="552.0" y1="129.6" x2="554.4" y2="129.6" stroke="#333" stroke-width="0.7" />
<line x1="552.0" y1="136.3" x2="554.4" y2="136.3" stroke="#333" stroke-width="0.7" />
<circle cx="562.9" cy="106.9" r="1.6" fill="#111"/>
<line x1="562.9" y1="103.6" x2="562.9" y2="110.3" stroke="#333" stroke-width="0.7" />
<line x1="561.7" y1="103.6" x2="564.1" y2="103.6" stroke="#333" stroke-width="0.7" />
<line x1="561.7" y1="110.3" x2="564.1" y2="110.3" stroke="#333" stroke-width="0.7" />
<circle cx="572.6" cy="106.9" r="1.6" fill="#111"/>
<line x1="572.6" y1="103.6" x2="572.6" y2="110.3" stroke="#333" stroke-width="0.7" />
<line x1="571.4" y1="103.6" x2="573.8" y2="103.6" stroke="#333" stroke-width="0.7" />
<line x1="571.4" y1="110.3" x2="573.8" y2="110.3" stroke="#333" stroke-width="0.7" />
<circle cx="582.3" cy="100.2" r="1.6" fill="#111"/>
<line x1="582.3" y1="96.8" x2="582.3" y2="103.6" stroke="#333" stroke-width="0.7" />
<line x1="581.1" y1="96.8" x2="583.5" y2="96.8" stroke="#333" stroke-width="0.7" />
<line x1="581.1" y1="103.6" x2="583.5" y2="103.6" stroke="#333" stroke-width="0.7" />
<circle cx="592.0" cy="100.2" r="1.6" fill="#111"/>
<line x1="592.0" y1="96.8" x2="592.0" y2="103.6" stroke="#333" stroke-width="0.7" />
<line x1="590.8" y1="96.8" x2="593.2" y2="96.8" stroke="#333" stroke-width="0.7" />
<line x1="590.8" y1="103.6" x2="593.2" y2="103.6" stroke="#333" stroke-width="0.7" />
<circle cx="601.8" cy="90.1" r="1.6" fill="#111"/>
<line x1="601.8" y1="86.8" x2="601.8" y2="93.5" stroke="#333" stroke-width="0.7" />
<line x1="600.6" y1="86.8" x2="603.0" y2="86.8" stroke="#333" stroke-width="0.7" />
<line x1="600.6" y1="93.5" x2="603.0" y2="93.5" stroke="#333" stroke-width="0.7" />
<circle cx="611.5" cy="90.1" r="1.6" fill="#111"/>
<line x1="611.5" y1="86.8" x2="611.5" y2="93.5" stroke="#333" stroke-width="0.7" />
<line x1="610.3" y1="86.8" x2="612.7" y2="86.8" stroke="#333" stroke-width="0.7" />
<line x1="610.3" y1="93.5" x2="612.7" y2="93.5" stroke="#333" stroke-width="0.7" />
<circle cx="630.9" cy="75.0" r="1.6" fill="#111"/>
<line x1="630.9" y1="71.6" x2="630.9" y2="78.4" stroke="#333" stroke-width="0.7" />
<line x1="629.7" y1="71.6" x2="632.1" y2="71.6" stroke="#333" stroke-width="0.7" />
<line x1="629.7" y1="78.4" x2="632.1" y2="78.4" stroke="#333" stroke-width="0.7" />
<circle cx="640.6" cy="75.0" r="1.6" fill="#111"/>
<line x1="640.6" y1="71.6" x2="640.6" y2="78.4" stroke="#333" stroke-width="0.7" />
<line x1="639.4" y1="71.6" x2="641.8" y2="71.6" stroke="#333" stroke-width="0.7" />
<line x1="639.4" y1="78.4" x2="641.8" y2="78.4" stroke="#333" stroke-width="0.7" />
<circle cx="660.1" cy="59.9" r="1.6" fill="#111"/>
<line x1="660.1" y1="56.5" x2="660.1" y2="63.2" stroke="#333" stroke-width="0.7" />
<line x1="658.9" y1="56.5" x2="661.3" y2="56.5" stroke="#333" stroke-width="0.7" />
<line x1="658.9" y1="63.2" x2="661.3" y2="63.2" stroke="#333" stroke-width="0.7" />
<circle cx="669.8" cy="59.9" r="1.6" fill="#111"/>
<line x1="669.8" y1="56.5" x2="669.8" y2="63.2" stroke="#333" stroke-width="0.7" />
<line x1="668.6" y1="56.5" x2="671.0" y2="56.5" stroke="#333" stroke-width="0.7" />
<line x1="668.6" y1="63.2" x2="671.0" y2="63.2" stroke="#333" stroke-width="0.7" />
<circle cx="689.2" cy="39.4" r="1.6" fill="#111"/>
<line x1="689.2" y1="36.1" x2="689.2" y2="42.8" stroke="#333" stroke-width="0.7" />
<line x1="688.0" y1="36.1" x2="690.4" y2="36.1" stroke="#333" stroke-width="0.7" />
<line x1="688.0" y1="42.8" x2="690.4" y2="42.8" stroke="#333" stroke-width="0.7" />
<polyline points="524.0,159.0 533.7,145.0 543.4,142.8 553.2,142.2 562.9,144.4 582.3,144.4 601.8,141.6 640.6,144.2 679.5,140.2" fill="none" stroke="#222" stroke-width="1.1" stroke-linejoin="round" />
<circle cx="524.0" cy="159.0" r="1.6" fill="#111"/>
<circle cx="533.7" cy="145.0" r="1.6" fill="#111"/>
<line x1="533.7" y1="141.6" x2="533.7" y2="148.4" stroke="#333" stroke-width="0.7" />
<line x1="532.5" y1="141.6" x2="534.9" y2="141.6" stroke="#333" stroke-width="0.7" />
<line x1="532.5" y1="148.4" x2="534.9" y2="148.4" stroke="#333" stroke-width="0.7" />
<circle cx="543.4" cy="142.8" r="1.6" fill="#111"/>
<line x1="543.4" y1="139.4" x2="543.4" y2="146.1" stroke="#333" stroke-width="0.7" />
<line x1="542.2" y1="139.4" x2="544.6" y2="139.4" stroke="#333" stroke-width="0.7" />
<line x1="542.2" y1="146.1" x2="544.6" y2="146.1" stroke="#333" stroke-width="0.7" />
<circle cx="553.2" cy="142.2" r="1.6" fill="#111"/>
<line x1="553.2" y1="138.8" x2="553.2" y2="145.6" stroke="#333" stroke-width="0.7" />
<line x1="552.0" y1="138.8" x2="554.4" y2="138.8" stroke="#333" stroke-width="0.7" />
<line x1="552.0" y1="145.6" x2="554.4" y2="145.6" stroke="#333" stroke-width="0.7" />
<circle cx="562.9" cy="144.4" r="1.6" fill="#111"/>
<line x1="562.9" y1="141.1" x2="562.9" y2="147.8" stroke="#333" stroke-width="0.7" />
<line x1="561.7" y1="141.1" x2="564.1" y2="141.1" stroke="#333" stroke-width="0.7" />
<line x1="561.7" y1="147.8" x2="564.1" y2="147.8" stroke="#333" stroke-width="0.7" />
<circle cx="582.3" cy="144.4" r="1.6" fill="#111"/>
<line x1="582.3" y1="141.1" x2="582.3" y2="147.8" stroke="#333" stroke-width="0.7" />
<line x1="581.1" y1="141.1" x2="583.5" y2="141.1" stroke="#333" stroke-width="0.7" />
<line x1="581.1" y1="147.8" x2="583.5" y2="147.8" stroke="#333" stroke-width="0.7" />
<circle cx="601.8" cy="141.6" r="1.6" fill="#111"/>
<line x1="601.8" y1="138.3" x2="601.8" y2="145.0" stroke="#333" stroke-width="0.7" />
<line x1="600.6" y1="138.3" x2="603.0" y2="138.3" stroke="#333" stroke-width="0.7" />
<line x1="600.6" y1="145.0" x2="603.0" y2="145.0" stroke="#333" stroke-width="0.7" />
<circle cx="640.6" cy="144.2" r="1.6" fill="#111"/>
<line x1="640.6" y1="140.8" x2="640.6" y2="147.5" stroke="#333" stroke-width="0.7" />
<line x1="639.4" y1="140.8" x2="641.8" y2="140.8" stroke="#333" stroke-width="0.7" />
<line x1="639.4" y1="147.5" x2="641.8" y2="147.5" stroke="#333" stroke-width="0.7" />
<circle cx="679.5" cy="140.2" r="1.6" fill="#111"/>
<line x1="679.5" y1="136.9" x2="679.5" y2="143.6" stroke="#333" stroke-width="0.7" />
<line x1="678.3" y1="136.9" x2="680.7" y2="136.9" stroke="#333" stroke-width="0.7" />
<line x1="678.3" y1="143.6" x2="680.7" y2="143.6" stroke="#333" stroke-width="0.7" />
<line x1="553.2" y1="121.0" x2="553.2" y2="129.0" stroke="#222" stroke-width="0.8" />
<path d="M551.4,126.5 L553.2,129.0 L555.0,126.5" fill="none" stroke="#222" stroke-width="0.8"/>
<line x1="572.6" y1="94.9" x2="572.6" y2="102.9" stroke="#222" stroke-width="0.8" />
<path d="M570.8,100.4 L572.6,102.9 L574.4,100.4" fill="none" stroke="#222" stroke-width="0.8"/>
<line x1="592.0" y1="88.2" x2="592.0" y2="96.2" stroke="#222" stroke-width="0.8" />
<path d="M590.2,93.7 L592.0,96.2 L593.8,93.7" fill="none" stroke="#222" stroke-width="0.8"/>
<line x1="611.5" y1="78.1" x2="611.5" y2="86.1" stroke="#222" stroke-width="0.8" />
<path d="M609.7,83.6 L611.5,86.1 L613.3,83.6" fill="none" stroke="#222" stroke-width="0.8"/>
<line x1="640.6" y1="63.0" x2="640.6" y2="71.0" stroke="#222" stroke-width="0.8" />
<path d="M638.8,68.5 L640.6,71.0 L642.4,68.5" fill="none" stroke="#222" stroke-width="0.8"/>
<line x1="669.8" y1="47.9" x2="669.8" y2="55.9" stroke="#222" stroke-width="0.8" />
<path d="M668.0,53.4 L669.8,55.9 L671.6,53.4" fill="none" stroke="#222" stroke-width="0.8"/>
<text x="0.0" y="0.0" font-size="5.2" font-weight="bold" text-anchor="start" fill="#333" font-family="'Liberation Sans',Arial,sans-serif" transform="translate(537.7,165.0) rotate(-70)">15 min</text>
<text x="0.0" y="0.0" font-size="5.2" font-weight="bold" text-anchor="start" fill="#333" font-family="'Liberation Sans',Arial,sans-serif" transform="translate(556.2,137.0) rotate(-70)">15 min</text>
<text x="0.0" y="0.0" font-size="5.2" font-weight="bold" text-anchor="start" fill="#333" font-family="'Liberation Sans',Arial,sans-serif" transform="translate(574.6,113.9) rotate(-40)">15 min</text>
<text x="0.0" y="0.0" font-size="5.2" font-weight="bold" text-anchor="start" fill="#333" font-family="'Liberation Sans',Arial,sans-serif" transform="translate(594.0,107.2) rotate(-40)">15 min</text>
<text x="0.0" y="0.0" font-size="5.2" font-weight="bold" text-anchor="start" fill="#333" font-family="'Liberation Sans',Arial,sans-serif" transform="translate(613.5,97.1) rotate(-40)">20 min</text>
<text x="0.0" y="0.0" font-size="5.2" font-weight="bold" text-anchor="start" fill="#333" font-family="'Liberation Sans',Arial,sans-serif" transform="translate(642.6,82.0) rotate(-40)">20 min</text>
<text x="0.0" y="0.0" font-size="5.2" font-weight="bold" text-anchor="start" fill="#333" font-family="'Liberation Sans',Arial,sans-serif" transform="translate(671.8,66.9) rotate(-40)">20 min</text>
<defs>
<filter id="bl1" x="-20%" y="-20%" width="140%" height="140%"><feGaussianBlur stdDeviation="0.9"/></filter>
<filter id="bl1b" x="-20%" y="-20%" width="140%" height="140%"><feGaussianBlur stdDeviation="1.15"/></filter>
<filter id="bl2" x="-50%" y="-50%" width="200%" height="200%"><feGaussianBlur stdDeviation="1.4"/></filter>
<filter id="bfN" x="0" y="0" width="1" height="1"><feTurbulence type="fractalNoise" baseFrequency="0.6" numOctaves="2" seed="9"/>
<feColorMatrix type="matrix" values="0 0 0 0 0.86  0 0 0 0 0.86  0 0 0 0 0.86  0 0 0.9 0 -0.35"/></filter>
<clipPath id="cp00"><rect x="64.5" y="246.0" width="58" height="57.5"/></clipPath>
<clipPath id="cp01"><rect x="127.0" y="246.0" width="58" height="57.5"/></clipPath>
<clipPath id="cp02"><rect x="189.2" y="246.0" width="58" height="57.5"/></clipPath>
<clipPath id="cp03"><rect x="251.0" y="246.0" width="58" height="57.5"/></clipPath>
<clipPath id="cp04"><rect x="313.0" y="246.0" width="58" height="57.5"/></clipPath>
<clipPath id="cp10"><rect x="64.5" y="307.0" width="58" height="57.5"/></clipPath>
<clipPath id="cp11"><rect x="127.0" y="307.0" width="58" height="57.5"/></clipPath>
<clipPath id="cp12"><rect x="189.2" y="307.0" width="58" height="57.5"/></clipPath>
<clipPath id="cp13"><rect x="251.0" y="307.0" width="58" height="57.5"/></clipPath>
<clipPath id="cp14"><rect x="313.0" y="307.0" width="58" height="57.5"/></clipPath>
<clipPath id="cp20"><rect x="64.5" y="367.5" width="58" height="57.5"/></clipPath>
<clipPath id="cp21"><rect x="127.0" y="367.5" width="58" height="57.5"/></clipPath>
<clipPath id="cp22"><rect x="189.2" y="367.5" width="58" height="57.5"/></clipPath>
<clipPath id="cp23"><rect x="251.0" y="367.5" width="58" height="57.5"/></clipPath>
<clipPath id="cp24"><rect x="313.0" y="367.5" width="58" height="57.5"/></clipPath>
<clipPath id="cp30"><rect x="64.5" y="428.5" width="58" height="57.5"/></clipPath>
<clipPath id="cp31"><rect x="127.0" y="428.5" width="58" height="57.5"/></clipPath>
<clipPath id="cp32"><rect x="189.2" y="428.5" width="58" height="57.5"/></clipPath>
<clipPath id="cp33"><rect x="251.0" y="428.5" width="58" height="57.5"/></clipPath>
<clipPath id="cp34"><rect x="313.0" y="428.5" width="58" height="57.5"/></clipPath>
</defs>
<rect x="64.5" y="246.0" width="58.0" height="57.5" fill="#000" stroke="none" stroke-width="1" rx="0" />
<g clip-path="url(#cp00)">
<g filter="url(#bl1b)" opacity="0.5">
<path d="M92.9,271.4 L92.6,273.2 L91.4,274.7 L90.0,275.8 L88.6,276.7 L87.6,277.7 L86.6,278.9 L85.5,280.2 L84.0,281.2 L82.3,281.5 L80.6,281.3 L78.9,280.6 L77.4,279.8 L76.0,278.9 L74.8,277.7 L74.0,276.2 L73.7,274.5 L73.9,272.9 L74.0,271.4 L73.9,269.9 L73.7,268.3 L73.6,266.4 L74.1,264.6 L75.4,263.2 L77.2,262.5 L79.0,262.4 L80.7,262.5 L82.3,262.6 L83.8,262.7 L85.4,262.9 L86.9,263.5 L88.2,264.4 L89.3,265.5 L90.4,266.7 L91.5,268.1 L92.5,269.6 Z" fill="rgb(125,10,10)" fill-opacity="0.18" stroke="rgb(125,10,10)" stroke-width="1.7"/>
<path d="M92.9,271.4 L92.6,273.2 L91.4,274.7 L90.0,275.8 L88.6,276.7 L87.6,277.7 L86.6,278.9 L85.5,280.2 L84.0,281.2 L82.3,281.5 L80.6,281.3 L78.9,280.6 L77.4,279.8 L76.0,278.9 L74.8,277.7 L74.0,276.2 L73.7,274.5 L73.9,272.9 L74.0,271.4 L73.9,269.9 L73.7,268.3 L73.6,266.4 L74.1,264.6 L75.4,263.2 L77.2,262.5 L79.0,262.4 L80.7,262.5 L82.3,262.6 L83.8,262.7 L85.4,262.9 L86.9,263.5 L88.2,264.4 L89.3,265.5 L90.4,266.7 L91.5,268.1 L92.5,269.6 Z" fill="none" stroke="rgb(170,25,20)" stroke-width="1.2" stroke-dasharray="3.0,1.2,2.6,2.1,1.2,2.5,1.1,2.3,1.2,1.3,2.3,3.5,1.4,1.7"/>
<ellipse cx="82.3" cy="271.4" rx="4.4" ry="4.4" fill="#000" opacity="0.55"/>
<circle cx="75.6" cy="264.5" r="1.1" fill="rgb(170,25,20)"/>
<circle cx="74.5" cy="277.3" r="0.6" fill="rgb(170,25,20)"/>
<circle cx="85.5" cy="267.4" r="0.7" fill="rgb(170,25,20)"/>
<circle cx="86.2" cy="274.9" r="1.3" fill="rgb(170,25,20)"/>
<path d="M117.2,266.0 L116.8,267.7 L116.4,269.3 L115.7,270.9 L114.7,272.3 L113.3,273.3 L111.7,273.7 L110.1,273.9 L108.6,274.2 L107.2,274.6 L105.6,275.3 L103.7,275.6 L101.8,275.3 L100.4,274.1 L99.5,272.5 L99.1,270.7 L98.8,269.0 L98.6,267.5 L98.3,266.0 L98.2,264.4 L98.6,262.9 L99.3,261.5 L100.2,260.1 L101.1,258.8 L102.2,257.4 L103.6,256.2 L105.4,255.5 L107.2,255.7 L108.8,256.7 L110.2,257.9 L111.3,258.9 L112.5,259.7 L114.0,260.3 L115.5,261.2 L116.6,262.6 L117.2,264.2 Z" fill="rgb(125,10,10)" fill-opacity="0.18" stroke="rgb(125,10,10)" stroke-width="1.7"/>
<path d="M117.2,266.0 L116.8,267.7 L116.4,269.3 L115.7,270.9 L114.7,272.3 L113.3,273.3 L111.7,273.7 L110.1,273.9 L108.6,274.2 L107.2,274.6 L105.6,275.3 L103.7,275.6 L101.8,275.3 L100.4,274.1 L99.5,272.5 L99.1,270.7 L98.8,269.0 L98.6,267.5 L98.3,266.0 L98.2,264.4 L98.6,262.9 L99.3,261.5 L100.2,260.1 L101.1,258.8 L102.2,257.4 L103.6,256.2 L105.4,255.5 L107.2,255.7 L108.8,256.7 L110.2,257.9 L111.3,258.9 L112.5,259.7 L114.0,260.3 L115.5,261.2 L116.6,262.6 L117.2,264.2 Z" fill="none" stroke="rgb(170,25,20)" stroke-width="1.2" stroke-dasharray="2.9,2.1,2.6,1.2,1.2,1.6,3.0,2.3,1.9,2.8,2.4,1.9,3.4,3.1"/>
<ellipse cx="107.2" cy="266.0" rx="4.4" ry="4.4" fill="#000" opacity="0.55"/>
<circle cx="107.5" cy="273.1" r="1.0" fill="rgb(170,25,20)"/>
<circle cx="113.0" cy="260.3" r="0.8" fill="rgb(170,25,20)"/>
<circle cx="111.1" cy="265.5" r="0.9" fill="rgb(170,25,20)"/>
<circle cx="107.4" cy="261.8" r="1.0" fill="rgb(170,25,20)"/>
<path d="M90.2,292.4 L90.4,294.0 L90.5,295.7 L90.1,297.4 L89.1,298.9 L87.5,299.7 L85.6,300.0 L83.9,300.0 L82.4,300.0 L81.0,300.4 L79.4,300.9 L77.7,301.1 L76.0,300.7 L74.5,299.8 L73.4,298.5 L72.5,297.0 L71.9,295.6 L71.4,294.0 L71.3,292.4 L71.8,290.9 L72.7,289.5 L73.8,288.4 L74.6,287.3 L75.3,286.0 L76.2,284.4 L77.4,283.1 L79.1,282.3 L81.0,282.4 L82.7,283.1 L84.1,284.2 L85.4,285.1 L86.6,286.0 L87.9,286.9 L88.9,288.0 L89.6,289.4 L90.0,290.9 Z" fill="rgb(125,10,10)" fill-opacity="0.18" stroke="rgb(125,10,10)" stroke-width="1.7"/>
<path d="M90.2,292.4 L90.4,294.0 L90.5,295.7 L90.1,297.4 L89.1,298.9 L87.5,299.7 L85.6,300.0 L83.9,300.0 L82.4,300.0 L81.0,300.4 L79.4,300.9 L77.7,301.1 L76.0,300.7 L74.5,299.8 L73.4,298.5 L72.5,297.0 L71.9,295.6 L71.4,294.0 L71.3,292.4 L71.8,290.9 L72.7,289.5 L73.8,288.4 L74.6,287.3 L75.3,286.0 L76.2,284.4 L77.4,283.1 L79.1,282.3 L81.0,282.4 L82.7,283.1 L84.1,284.2 L85.4,285.1 L86.6,286.0 L87.9,286.9 L88.9,288.0 L89.6,289.4 L90.0,290.9 Z" fill="none" stroke="rgb(170,25,20)" stroke-width="1.2" stroke-dasharray="3.3,2.7,3.6,1.9,3.1,2.8,2.7,2.4,3.5,3.8,2.4,3.0,1.2,3.1"/>
<ellipse cx="81.0" cy="292.4" rx="4.4" ry="4.2" fill="#000" opacity="0.55"/>
<circle cx="75.0" cy="284.9" r="1.3" fill="rgb(170,25,20)"/>
<circle cx="79.8" cy="297.8" r="1.1" fill="rgb(170,25,20)"/>
<circle cx="87.2" cy="293.2" r="0.7" fill="rgb(170,25,20)"/>
<circle cx="83.6" cy="294.7" r="1.2" fill="rgb(170,25,20)"/>
<path d="M117.8,287.2 L117.7,289.0 L116.8,290.7 L115.5,292.0 L114.2,293.1 L113.0,294.1 L111.7,295.1 L110.3,295.8 L108.8,296.1 L107.2,296.1 L105.7,295.9 L104.1,295.8 L102.3,295.7 L100.5,295.2 L99.0,294.1 L98.1,292.4 L98.0,290.5 L98.4,288.7 L98.9,287.2 L99.0,285.8 L99.0,284.2 L99.1,282.5 L99.7,280.9 L100.9,279.6 L102.3,278.7 L103.9,278.0 L105.5,277.5 L107.2,277.2 L108.9,277.3 L110.5,278.1 L111.7,279.3 L112.6,280.7 L113.4,282.0 L114.5,283.0 L115.8,284.1 L117.1,285.5 Z" fill="rgb(125,10,10)" fill-opacity="0.18" stroke="rgb(125,10,10)" stroke-width="1.7"/>
<path d="M117.8,287.2 L117.7,289.0 L116.8,290.7 L115.5,292.0 L114.2,293.1 L113.0,294.1 L111.7,295.1 L110.3,295.8 L108.8,296.1 L107.2,296.1 L105.7,295.9 L104.1,295.8 L102.3,295.7 L100.5,295.2 L99.0,294.1 L98.1,292.4 L98.0,290.5 L98.4,288.7 L98.9,287.2 L99.0,285.8 L99.0,284.2 L99.1,282.5 L99.7,280.9 L100.9,279.6 L102.3,278.7 L103.9,278.0 L105.5,277.5 L107.2,277.2 L108.9,277.3 L110.5,278.1 L111.7,279.3 L112.6,280.7 L113.4,282.0 L114.5,283.0 L115.8,284.1 L117.1,285.5 Z" fill="none" stroke="rgb(170,25,20)" stroke-width="1.2" stroke-dasharray="2.2,3.6,1.2,2.3,2.6,3.7,3.5,3.6,1.8,2.2,2.1,3.7,3.9,1.5"/>
<ellipse cx="107.2" cy="287.2" rx="4.4" ry="4.4" fill="#000" opacity="0.55"/>
<circle cx="109.3" cy="291.4" r="0.8" fill="rgb(170,25,20)"/>
<circle cx="100.1" cy="287.9" r="0.8" fill="rgb(170,25,20)"/>
<circle cx="113.2" cy="287.4" r="0.9" fill="rgb(170,25,20)"/>
<circle cx="98.4" cy="283.3" r="1.2" fill="rgb(170,25,20)"/>
</g>
</g>
<rect x="127.0" y="246.0" width="58.0" height="57.5" fill="#000" stroke="none" stroke-width="1" rx="0" />
<g clip-path="url(#cp01)">
<g filter="url(#bl2)">
<circle cx="145.0" cy="271.0" r="2.4" fill="#2cc02c"/>
<circle cx="144.5" cy="271.6" r="1.2" fill="#2cc02c" opacity="0.6"/>
<circle cx="144.7" cy="271.1" r="1.0" fill="#2cc02c" opacity="0.6"/>
<circle cx="141.8" cy="271.1" r="1.0" fill="#2cc02c" opacity="0.6"/>
<circle cx="147.9" cy="266.9" r="0.8" fill="#2cc02c" opacity="0.6"/>
<circle cx="140.9" cy="274.1" r="1.1" fill="#2cc02c" opacity="0.6"/>
<circle cx="140.4" cy="275.8" r="1.3" fill="#2cc02c" opacity="0.6"/>
<circle cx="170.0" cy="261.0" r="2.4" fill="#2cc02c"/>
<circle cx="171.5" cy="262.2" r="0.7" fill="#2cc02c" opacity="0.6"/>
<circle cx="165.2" cy="261.3" r="0.6" fill="#2cc02c" opacity="0.6"/>
<circle cx="166.9" cy="258.4" r="0.6" fill="#2cc02c" opacity="0.6"/>
<circle cx="169.6" cy="260.4" r="1.2" fill="#2cc02c" opacity="0.6"/>
<circle cx="170.2" cy="262.4" r="0.9" fill="#2cc02c" opacity="0.6"/>
<circle cx="171.6" cy="260.6" r="0.8" fill="#2cc02c" opacity="0.6"/>
<circle cx="143.0" cy="292.0" r="2.4" fill="#2cc02c"/>
<circle cx="148.0" cy="297.0" r="1.2" fill="#2cc02c" opacity="0.6"/>
<circle cx="145.1" cy="290.2" r="0.8" fill="#2cc02c" opacity="0.6"/>
<circle cx="140.9" cy="287.7" r="1.1" fill="#2cc02c" opacity="0.6"/>
<circle cx="142.0" cy="295.5" r="0.9" fill="#2cc02c" opacity="0.6"/>
<circle cx="147.6" cy="295.5" r="0.6" fill="#2cc02c" opacity="0.6"/>
<circle cx="140.1" cy="296.1" r="0.9" fill="#2cc02c" opacity="0.6"/>
<circle cx="171.0" cy="288.0" r="2.4" fill="#2cc02c"/>
<circle cx="175.8" cy="287.0" r="0.7" fill="#2cc02c" opacity="0.6"/>
<circle cx="172.3" cy="290.8" r="0.8" fill="#2cc02c" opacity="0.6"/>
<circle cx="166.9" cy="286.3" r="1.3" fill="#2cc02c" opacity="0.6"/>
<circle cx="173.6" cy="284.2" r="0.8" fill="#2cc02c" opacity="0.6"/>
<circle cx="167.0" cy="283.6" r="1.2" fill="#2cc02c" opacity="0.6"/>
<circle cx="167.8" cy="288.6" r="0.9" fill="#2cc02c" opacity="0.6"/>
</g>
</g>
<rect x="189.2" y="246.0" width="58.0" height="57.5" fill="#000" stroke="none" stroke-width="1" rx="0" />
<g clip-path="url(#cp02)">
<g filter="url(#bl1b)" opacity="0.5">
<path d="M217.6,271.4 L217.3,273.2 L216.1,274.7 L214.7,275.8 L213.3,276.7 L212.3,277.7 L211.3,278.9 L210.2,280.2 L208.7,281.2 L207.0,281.5 L205.3,281.3 L203.6,280.6 L202.1,279.8 L200.7,278.9 L199.5,277.7 L198.7,276.2 L198.4,274.5 L198.6,272.9 L198.7,271.4 L198.6,269.9 L198.4,268.3 L198.3,266.4 L198.8,264.6 L200.1,263.2 L201.9,262.5 L203.7,262.4 L205.4,262.5 L207.0,262.6 L208.5,262.7 L210.1,262.9 L211.6,263.5 L212.9,264.4 L214.0,265.5 L215.1,266.7 L216.2,268.1 L217.2,269.6 Z" fill="rgb(125,10,10)" fill-opacity="0.18" stroke="rgb(125,10,10)" stroke-width="1.7"/>
<path d="M217.6,271.4 L217.3,273.2 L216.1,274.7 L214.7,275.8 L213.3,276.7 L212.3,277.7 L211.3,278.9 L210.2,280.2 L208.7,281.2 L207.0,281.5 L205.3,281.3 L203.6,280.6 L202.1,279.8 L200.7,278.9 L199.5,277.7 L198.7,276.2 L198.4,274.5 L198.6,272.9 L198.7,271.4 L198.6,269.9 L198.4,268.3 L198.3,266.4 L198.8,264.6 L200.1,263.2 L201.9,262.5 L203.7,262.4 L205.4,262.5 L207.0,262.6 L208.5,262.7 L210.1,262.9 L211.6,263.5 L212.9,264.4 L214.0,265.5 L215.1,266.7 L216.2,268.1 L217.2,269.6 Z" fill="none" stroke="rgb(170,25,20)" stroke-width="1.2" stroke-dasharray="3.0,1.2,2.6,2.1,1.2,2.5,1.1,2.3,1.2,1.3,2.3,3.5,1.4,1.7"/>
<ellipse cx="207.0" cy="271.4" rx="4.4" ry="4.4" fill="#000" opacity="0.55"/>
<circle cx="200.3" cy="264.5" r="1.1" fill="rgb(170,25,20)"/>
<circle cx="199.2" cy="277.3" r="0.6" fill="rgb(170,25,20)"/>
<circle cx="210.2" cy="267.4" r="0.7" fill="rgb(170,25,20)"/>
<circle cx="210.9" cy="274.9" r="1.3" fill="rgb(170,25,20)"/>
<path d="M241.9,266.0 L241.5,267.7 L241.1,269.3 L240.4,270.9 L239.4,272.3 L238.0,273.3 L236.4,273.7 L234.8,273.9 L233.3,274.2 L231.9,274.6 L230.3,275.3 L228.4,275.6 L226.5,275.3 L225.1,274.1 L224.2,272.5 L223.8,270.7 L223.5,269.0 L223.3,267.5 L223.0,266.0 L222.9,264.4 L223.3,262.9 L224.0,261.5 L224.9,260.1 L225.8,258.8 L226.9,257.4 L228.3,256.2 L230.1,255.5 L231.9,255.7 L233.5,256.7 L234.9,257.9 L236.0,258.9 L237.2,259.7 L238.7,260.3 L240.2,261.2 L241.3,262.6 L241.9,264.2 Z" fill="rgb(125,10,10)" fill-opacity="0.18" stroke="rgb(125,10,10)" stroke-width="1.7"/>
<path d="M241.9,266.0 L241.5,267.7 L241.1,269.3 L240.4,270.9 L239.4,272.3 L238.0,273.3 L236.4,273.7 L234.8,273.9 L233.3,274.2 L231.9,274.6 L230.3,275.3 L228.4,275.6 L226.5,275.3 L225.1,274.1 L224.2,272.5 L223.8,270.7 L223.5,269.0 L223.3,267.5 L223.0,266.0 L222.9,264.4 L223.3,262.9 L224.0,261.5 L224.9,260.1 L225.8,258.8 L226.9,257.4 L228.3,256.2 L230.1,255.5 L231.9,255.7 L233.5,256.7 L234.9,257.9 L236.0,258.9 L237.2,259.7 L238.7,260.3 L240.2,261.2 L241.3,262.6 L241.9,264.2 Z" fill="none" stroke="rgb(170,25,20)" stroke-width="1.2" stroke-dasharray="2.9,2.1,2.6,1.2,1.2,1.6,3.0,2.3,1.9,2.8,2.4,1.9,3.4,3.1"/>
<ellipse cx="231.89999999999998" cy="266.0" rx="4.4" ry="4.4" fill="#000" opacity="0.55"/>
<circle cx="232.2" cy="273.1" r="1.0" fill="rgb(170,25,20)"/>
<circle cx="237.7" cy="260.3" r="0.8" fill="rgb(170,25,20)"/>
<circle cx="235.8" cy="265.5" r="0.9" fill="rgb(170,25,20)"/>
<circle cx="232.1" cy="261.8" r="1.0" fill="rgb(170,25,20)"/>
<path d="M214.9,292.4 L215.1,294.0 L215.2,295.7 L214.8,297.4 L213.8,298.9 L212.2,299.7 L210.3,300.0 L208.6,300.0 L207.1,300.0 L205.7,300.4 L204.1,300.9 L202.4,301.1 L200.7,300.7 L199.2,299.8 L198.1,298.5 L197.2,297.0 L196.6,295.6 L196.1,294.0 L196.0,292.4 L196.5,290.9 L197.4,289.5 L198.5,288.4 L199.3,287.3 L200.0,286.0 L200.9,284.4 L202.1,283.1 L203.8,282.3 L205.7,282.4 L207.4,283.1 L208.8,284.2 L210.1,285.1 L211.3,286.0 L212.6,286.9 L213.6,288.0 L214.3,289.4 L214.7,290.9 Z" fill="rgb(125,10,10)" fill-opacity="0.18" stroke="rgb(125,10,10)" stroke-width="1.7"/>
<path d="M214.9,292.4 L215.1,294.0 L215.2,295.7 L214.8,297.4 L213.8,298.9 L212.2,299.7 L210.3,300.0 L208.6,300.0 L207.1,300.0 L205.7,300.4 L204.1,300.9 L202.4,301.1 L200.7,300.7 L199.2,299.8 L198.1,298.5 L197.2,297.0 L196.6,295.6 L196.1,294.0 L196.0,292.4 L196.5,290.9 L197.4,289.5 L198.5,288.4 L199.3,287.3 L200.0,286.0 L200.9,284.4 L202.1,283.1 L203.8,282.3 L205.7,282.4 L207.4,283.1 L208.8,284.2 L210.1,285.1 L211.3,286.0 L212.6,286.9 L213.6,288.0 L214.3,289.4 L214.7,290.9 Z" fill="none" stroke="rgb(170,25,20)" stroke-width="1.2" stroke-dasharray="3.3,2.7,3.6,1.9,3.1,2.8,2.7,2.4,3.5,3.8,2.4,3.0,1.2,3.1"/>
<ellipse cx="205.7" cy="292.4" rx="4.4" ry="4.2" fill="#000" opacity="0.55"/>
<circle cx="199.7" cy="284.9" r="1.3" fill="rgb(170,25,20)"/>
<circle cx="204.5" cy="297.8" r="1.1" fill="rgb(170,25,20)"/>
<circle cx="211.9" cy="293.2" r="0.7" fill="rgb(170,25,20)"/>
<circle cx="208.3" cy="294.7" r="1.2" fill="rgb(170,25,20)"/>
<path d="M242.5,287.2 L242.4,289.0 L241.5,290.7 L240.2,292.0 L238.9,293.1 L237.7,294.1 L236.4,295.1 L235.0,295.8 L233.5,296.1 L231.9,296.1 L230.4,295.9 L228.8,295.8 L227.0,295.7 L225.2,295.2 L223.7,294.1 L222.8,292.4 L222.7,290.5 L223.1,288.7 L223.6,287.2 L223.7,285.8 L223.7,284.2 L223.8,282.5 L224.4,280.9 L225.6,279.6 L227.0,278.7 L228.6,278.0 L230.2,277.5 L231.9,277.2 L233.6,277.3 L235.2,278.1 L236.4,279.3 L237.3,280.7 L238.1,282.0 L239.2,283.0 L240.5,284.1 L241.8,285.5 Z" fill="rgb(125,10,10)" fill-opacity="0.18" stroke="rgb(125,10,10)" stroke-width="1.7"/>
<path d="M242.5,287.2 L242.4,289.0 L241.5,290.7 L240.2,292.0 L238.9,293.1 L237.7,294.1 L236.4,295.1 L235.0,295.8 L233.5,296.1 L231.9,296.1 L230.4,295.9 L228.8,295.8 L227.0,295.7 L225.2,295.2 L223.7,294.1 L222.8,292.4 L222.7,290.5 L223.1,288.7 L223.6,287.2 L223.7,285.8 L223.7,284.2 L223.8,282.5 L224.4,280.9 L225.6,279.6 L227.0,278.7 L228.6,278.0 L230.2,277.5 L231.9,277.2 L233.6,277.3 L235.2,278.1 L236.4,279.3 L237.3,280.7 L238.1,282.0 L239.2,283.0 L240.5,284.1 L241.8,285.5 Z" fill="none" stroke="rgb(170,25,20)" stroke-width="1.2" stroke-dasharray="2.2,3.6,1.2,2.3,2.6,3.7,3.5,3.6,1.8,2.2,2.1,3.7,3.9,1.5"/>
<ellipse cx="231.89999999999998" cy="287.2" rx="4.4" ry="4.4" fill="#000" opacity="0.55"/>
<circle cx="234.0" cy="291.4" r="0.8" fill="rgb(170,25,20)"/>
<circle cx="224.8" cy="287.9" r="0.8" fill="rgb(170,25,20)"/>
<circle cx="237.9" cy="287.4" r="0.9" fill="rgb(170,25,20)"/>
<circle cx="223.1" cy="283.3" r="1.2" fill="rgb(170,25,20)"/>
</g>
<g filter="url(#bl2)">
<circle cx="207.2" cy="271.0" r="2.4" fill="#b0d028"/>
<circle cx="204.1" cy="273.3" r="0.7" fill="#b0d028" opacity="0.6"/>
<circle cx="208.6" cy="267.2" r="0.9" fill="#b0d028" opacity="0.6"/>
<circle cx="204.3" cy="268.7" r="1.3" fill="#b0d028" opacity="0.6"/>
<circle cx="210.2" cy="269.0" r="1.2" fill="#b0d028" opacity="0.6"/>
<circle cx="204.3" cy="269.9" r="1.2" fill="#b0d028" opacity="0.6"/>
<circle cx="208.6" cy="267.0" r="1.3" fill="#b0d028" opacity="0.6"/>
<circle cx="232.2" cy="261.0" r="2.4" fill="#b0d028"/>
<circle cx="229.3" cy="258.6" r="1.1" fill="#b0d028" opacity="0.6"/>
<circle cx="230.5" cy="259.0" r="0.7" fill="#b0d028" opacity="0.6"/>
<circle cx="228.1" cy="261.8" r="0.8" fill="#b0d028" opacity="0.6"/>
<circle cx="233.2" cy="259.7" r="0.9" fill="#b0d028" opacity="0.6"/>
<circle cx="236.8" cy="260.8" r="1.0" fill="#b0d028" opacity="0.6"/>
<circle cx="235.9" cy="257.8" r="0.7" fill="#b0d028" opacity="0.6"/>
<circle cx="205.2" cy="292.0" r="2.4" fill="#b0d028"/>
<circle cx="209.3" cy="295.2" r="0.8" fill="#b0d028" opacity="0.6"/>
<circle cx="202.1" cy="294.4" r="1.3" fill="#b0d028" opacity="0.6"/>
<circle cx="202.2" cy="296.5" r="1.2" fill="#b0d028" opacity="0.6"/>
<circle cx="206.2" cy="291.2" r="0.7" fill="#b0d028" opacity="0.6"/>
<circle cx="200.6" cy="296.6" r="0.8" fill="#b0d028" opacity="0.6"/>
<circle cx="207.2" cy="289.6" r="1.2" fill="#b0d028" opacity="0.6"/>
<circle cx="233.2" cy="288.0" r="2.4" fill="#b0d028"/>
<circle cx="234.2" cy="285.9" r="0.7" fill="#b0d028" opacity="0.6"/>
<circle cx="235.4" cy="283.7" r="0.8" fill="#b0d028" opacity="0.6"/>
<circle cx="233.8" cy="291.5" r="1.0" fill="#b0d028" opacity="0.6"/>
<circle cx="231.0" cy="292.2" r="0.7" fill="#b0d028" opacity="0.6"/>
<circle cx="228.4" cy="285.7" r="0.9" fill="#b0d028" opacity="0.6"/>
<circle cx="228.8" cy="284.8" r="0.9" fill="#b0d028" opacity="0.6"/>
</g>
</g>
<rect x="251.0" y="246.0" width="58.0" height="57.5" fill="#aaaaaa" stroke="none" stroke-width="1" rx="0" />
<g clip-path="url(#cp03)">
<rect x="251.0" y="246.0" width="58" height="57.5" filter="url(#bfN)" opacity="0.4"/>
</g>
<rect x="313.0" y="246.0" width="58.0" height="57.5" fill="#ababab" stroke="none" stroke-width="1" rx="0" />
<g clip-path="url(#cp04)">
<rect x="313.0" y="246.0" width="58" height="57.5" filter="url(#bfN)" opacity="0.4"/>
<g filter="url(#bl1)">
<ellipse cx="330.8" cy="271.4" rx="10.5" ry="10.5" fill="#f4a0a0" fill-opacity="0.04" stroke="#f06060" stroke-opacity="0.05" stroke-width="2.2" transform="rotate(0 330.8 271.4)"/>
<ellipse cx="355.7" cy="266.0" rx="10.5" ry="10.5" fill="#f4a0a0" fill-opacity="0.04" stroke="#f06060" stroke-opacity="0.05" stroke-width="2.2" transform="rotate(0 355.7 266.0)"/>
<ellipse cx="329.5" cy="292.4" rx="10.5" ry="10" fill="#f4a0a0" fill-opacity="0.04" stroke="#f06060" stroke-opacity="0.05" stroke-width="2.2" transform="rotate(0 329.5 292.4)"/>
<ellipse cx="355.7" cy="287.2" rx="10.5" ry="10.5" fill="#f4a0a0" fill-opacity="0.04" stroke="#f06060" stroke-opacity="0.05" stroke-width="2.2" transform="rotate(0 355.7 287.2)"/>
<circle cx="331.0" cy="271.0" r="2" fill="#d8f060" opacity="0.85"/>
<circle cx="356.0" cy="261.0" r="2" fill="#d8f060" opacity="0.85"/>
<circle cx="329.0" cy="292.0" r="2" fill="#d8f060" opacity="0.85"/>
<circle cx="357.0" cy="288.0" r="2" fill="#d8f060" opacity="0.85"/>
</g>
</g>
<rect x="351.0" y="298.2" width="13.0" height="2.0" fill="#111" stroke="none" stroke-width="1" rx="0" />
<rect x="64.5" y="307.0" width="58.0" height="57.5" fill="#000" stroke="none" stroke-width="1" rx="0" />
<g clip-path="url(#cp10)">
<g filter="url(#bl1b)" opacity="0.85">
<path d="M98.3,322.9 L97.8,324.4 L97.2,325.8 L96.5,327.2 L95.6,328.4 L94.3,329.3 L92.9,329.8 L91.5,330.2 L90.1,330.5 L88.7,331.0 L87.1,331.6 L85.3,331.8 L83.6,331.4 L82.3,330.2 L81.5,328.6 L81.3,327.0 L81.0,325.5 L80.7,324.2 L80.3,322.9 L80.1,321.5 L80.3,320.0 L80.9,318.6 L81.8,317.4 L82.8,316.2 L83.9,315.0 L85.3,314.1 L87.0,313.7 L88.7,313.9 L90.2,314.8 L91.4,315.8 L92.6,316.6 L93.8,317.1 L95.3,317.6 L96.8,318.4 L98.0,319.7 L98.4,321.3 Z" fill="rgb(179,19,16)" fill-opacity="0.50" stroke="rgb(179,19,16)" stroke-width="2.6"/>
<path d="M98.3,322.9 L97.8,324.4 L97.2,325.8 L96.5,327.2 L95.6,328.4 L94.3,329.3 L92.9,329.8 L91.5,330.2 L90.1,330.5 L88.7,331.0 L87.1,331.6 L85.3,331.8 L83.6,331.4 L82.3,330.2 L81.5,328.6 L81.3,327.0 L81.0,325.5 L80.7,324.2 L80.3,322.9 L80.1,321.5 L80.3,320.0 L80.9,318.6 L81.8,317.4 L82.8,316.2 L83.9,315.0 L85.3,314.1 L87.0,313.7 L88.7,313.9 L90.2,314.8 L91.4,315.8 L92.6,316.6 L93.8,317.1 L95.3,317.6 L96.8,318.4 L98.0,319.7 L98.4,321.3 Z" fill="none" stroke="rgb(205,39,30)" stroke-width="1.9" stroke-dasharray="3.9,3.0,2.4,1.9,1.4,4.0,3.3,1.8,2.8,3.1,3.7,1.8,1.9,1.6"/>
<ellipse cx="88.7" cy="322.9" rx="4.2" ry="4.0" fill="#000" opacity="0.55"/>
<circle cx="81.1" cy="318.3" r="1.2" fill="rgb(205,39,30)"/>
<circle cx="92.2" cy="326.9" r="0.7" fill="rgb(205,39,30)"/>
<circle cx="92.0" cy="327.9" r="0.7" fill="rgb(205,39,30)"/>
<circle cx="88.1" cy="327.2" r="0.9" fill="rgb(205,39,30)"/>
<circle cx="91.5" cy="319.5" r="1.1" fill="rgb(205,39,30)"/>
<circle cx="84.7" cy="325.6" r="0.8" fill="rgb(205,39,30)"/>
<circle cx="90.2" cy="315.0" r="1.2" fill="rgb(205,39,30)"/>
<path d="M84.4,334.3 L84.7,335.8 L85.1,337.6 L85.0,339.6 L84.3,341.2 L83.0,342.3 L81.4,342.8 L79.9,342.9 L78.5,342.9 L77.2,343.0 L75.9,343.1 L74.5,342.9 L73.3,342.3 L72.1,341.3 L71.1,340.3 L70.1,339.1 L69.0,337.8 L68.3,336.1 L68.2,334.3 L68.8,332.6 L69.8,331.2 L71.0,330.1 L71.9,329.1 L72.6,327.9 L73.3,326.4 L74.3,325.1 L75.7,324.3 L77.2,324.1 L78.7,324.5 L80.1,325.1 L81.4,325.9 L82.5,326.9 L83.5,328.1 L84.1,329.7 L84.3,331.3 L84.3,332.8 Z" fill="rgb(179,19,16)" fill-opacity="0.50" stroke="rgb(179,19,16)" stroke-width="2.6"/>
<path d="M84.4,334.3 L84.7,335.8 L85.1,337.6 L85.0,339.6 L84.3,341.2 L83.0,342.3 L81.4,342.8 L79.9,342.9 L78.5,342.9 L77.2,343.0 L75.9,343.1 L74.5,342.9 L73.3,342.3 L72.1,341.3 L71.1,340.3 L70.1,339.1 L69.0,337.8 L68.3,336.1 L68.2,334.3 L68.8,332.6 L69.8,331.2 L71.0,330.1 L71.9,329.1 L72.6,327.9 L73.3,326.4 L74.3,325.1 L75.7,324.3 L77.2,324.1 L78.7,324.5 L80.1,325.1 L81.4,325.9 L82.5,326.9 L83.5,328.1 L84.1,329.7 L84.3,331.3 L84.3,332.8 Z" fill="none" stroke="rgb(205,39,30)" stroke-width="1.9" stroke-dasharray="1.9,1.7,2.7,2.8,3.4,3.7,3.4,3.9,3.0,3.0,3.4,2.5,3.4,3.6"/>
<ellipse cx="77.2" cy="334.3" rx="3.8" ry="4.4" fill="#000" opacity="0.55"/>
<circle cx="72.5" cy="333.9" r="0.9" fill="rgb(205,39,30)"/>
<circle cx="72.6" cy="329.7" r="1.0" fill="rgb(205,39,30)"/>
<circle cx="71.8" cy="339.5" r="1.1" fill="rgb(205,39,30)"/>
<circle cx="84.9" cy="330.5" r="0.6" fill="rgb(205,39,30)"/>
<circle cx="71.5" cy="339.1" r="1.0" fill="rgb(205,39,30)"/>
<circle cx="74.1" cy="331.0" r="0.9" fill="rgb(205,39,30)"/>
<circle cx="81.4" cy="328.4" r="1.3" fill="rgb(205,39,30)"/>
<path d="M113.3,336.1 L114.0,337.8 L114.2,339.6 L113.7,341.4 L112.6,342.8 L111.1,343.6 L109.6,344.2 L108.2,344.7 L106.8,345.1 L105.4,345.3 L104.0,345.0 L102.7,344.4 L101.4,343.7 L100.2,343.0 L98.8,342.2 L97.4,341.2 L96.3,339.8 L95.9,338.0 L96.2,336.1 L97.1,334.5 L98.1,333.2 L98.9,332.0 L99.5,330.6 L100.1,329.2 L101.1,327.8 L102.4,326.9 L103.9,326.5 L105.4,326.4 L106.9,326.4 L108.5,326.7 L110.0,327.3 L111.2,328.5 L111.9,330.1 L112.2,331.8 L112.4,333.3 L112.7,334.7 Z" fill="rgb(179,19,16)" fill-opacity="0.50" stroke="rgb(179,19,16)" stroke-width="2.6"/>
<path d="M113.3,336.1 L114.0,337.8 L114.2,339.6 L113.7,341.4 L112.6,342.8 L111.1,343.6 L109.6,344.2 L108.2,344.7 L106.8,345.1 L105.4,345.3 L104.0,345.0 L102.7,344.4 L101.4,343.7 L100.2,343.0 L98.8,342.2 L97.4,341.2 L96.3,339.8 L95.9,338.0 L96.2,336.1 L97.1,334.5 L98.1,333.2 L98.9,332.0 L99.5,330.6 L100.1,329.2 L101.1,327.8 L102.4,326.9 L103.9,326.5 L105.4,326.4 L106.9,326.4 L108.5,326.7 L110.0,327.3 L111.2,328.5 L111.9,330.1 L112.2,331.8 L112.4,333.3 L112.7,334.7 Z" fill="none" stroke="rgb(205,39,30)" stroke-width="1.9" stroke-dasharray="3.6,3.7,3.7,3.8,2.2,2.2,2.3,3.3,3.9,3.0,2.3,1.2,1.4,1.2"/>
<ellipse cx="105.4" cy="336.1" rx="4.0" ry="4.4" fill="#000" opacity="0.55"/>
<circle cx="107.1" cy="338.6" r="0.9" fill="rgb(205,39,30)"/>
<circle cx="102.5" cy="345.2" r="0.7" fill="rgb(205,39,30)"/>
<circle cx="112.4" cy="341.2" r="1.3" fill="rgb(205,39,30)"/>
<circle cx="99.2" cy="335.6" r="0.9" fill="rgb(205,39,30)"/>
<circle cx="101.7" cy="339.2" r="0.7" fill="rgb(205,39,30)"/>
<circle cx="113.5" cy="334.8" r="1.3" fill="rgb(205,39,30)"/>
<circle cx="109.5" cy="342.1" r="0.6" fill="rgb(205,39,30)"/>
<path d="M98.8,347.6 L99.0,349.1 L98.7,350.6 L98.1,352.0 L97.2,353.3 L96.3,354.6 L95.2,355.8 L93.8,356.9 L92.1,357.4 L90.4,357.2 L88.9,356.3 L87.6,355.2 L86.5,354.3 L85.3,353.6 L83.9,353.1 L82.4,352.2 L81.3,350.9 L80.7,349.3 L80.8,347.6 L81.2,346.0 L81.8,344.5 L82.5,343.0 L83.4,341.7 L84.7,340.8 L86.2,340.2 L87.6,340.0 L89.0,339.7 L90.4,339.2 L92.0,338.6 L93.8,338.3 L95.5,338.7 L96.9,339.9 L97.7,341.5 L98.0,343.2 L98.2,344.8 L98.5,346.2 Z" fill="rgb(179,19,16)" fill-opacity="0.50" stroke="rgb(179,19,16)" stroke-width="2.6"/>
<path d="M98.8,347.6 L99.0,349.1 L98.7,350.6 L98.1,352.0 L97.2,353.3 L96.3,354.6 L95.2,355.8 L93.8,356.9 L92.1,357.4 L90.4,357.2 L88.9,356.3 L87.6,355.2 L86.5,354.3 L85.3,353.6 L83.9,353.1 L82.4,352.2 L81.3,350.9 L80.7,349.3 L80.8,347.6 L81.2,346.0 L81.8,344.5 L82.5,343.0 L83.4,341.7 L84.7,340.8 L86.2,340.2 L87.6,340.0 L89.0,339.7 L90.4,339.2 L92.0,338.6 L93.8,338.3 L95.5,338.7 L96.9,339.9 L97.7,341.5 L98.0,343.2 L98.2,344.8 L98.5,346.2 Z" fill="none" stroke="rgb(205,39,30)" stroke-width="1.9" stroke-dasharray="2.8,1.5,3.9,3.7,2.3,3.8,3.3,1.5,3.6,3.6,1.8,3.0,1.9,1.1"/>
<ellipse cx="90.4" cy="347.6" rx="4.2" ry="4.2" fill="#000" opacity="0.55"/>
<circle cx="86.6" cy="348.6" r="1.3" fill="rgb(205,39,30)"/>
<circle cx="89.0" cy="343.3" r="0.9" fill="rgb(205,39,30)"/>
<circle cx="95.3" cy="349.7" r="1.1" fill="rgb(205,39,30)"/>
<circle cx="94.9" cy="339.5" r="1.1" fill="rgb(205,39,30)"/>
<circle cx="82.2" cy="350.6" r="1.1" fill="rgb(205,39,30)"/>
<circle cx="92.4" cy="342.7" r="1.3" fill="rgb(205,39,30)"/>
<circle cx="92.3" cy="352.8" r="0.8" fill="rgb(205,39,30)"/>
</g>
</g>
<rect x="127.0" y="307.0" width="58.0" height="57.5" fill="#000" stroke="none" stroke-width="1" rx="0" />
<g clip-path="url(#cp11)">
<g filter="url(#bl2)">
<circle cx="150.5" cy="318.4" r="2.4" fill="#3ce03c"/>
<circle cx="151.2" cy="314.7" r="0.9" fill="#3ce03c" opacity="0.6"/>
<circle cx="154.4" cy="323.2" r="1.1" fill="#3ce03c" opacity="0.6"/>
<circle cx="152.4" cy="319.2" r="0.7" fill="#3ce03c" opacity="0.6"/>
<circle cx="145.9" cy="313.6" r="1.2" fill="#3ce03c" opacity="0.6"/>
<circle cx="152.5" cy="323.0" r="0.6" fill="#3ce03c" opacity="0.6"/>
<circle cx="151.9" cy="318.2" r="1.1" fill="#3ce03c" opacity="0.6"/>
<circle cx="137.2" cy="336.1" r="2.4" fill="#3ce03c"/>
<circle cx="135.4" cy="341.1" r="0.7" fill="#3ce03c" opacity="0.6"/>
<circle cx="137.7" cy="338.5" r="1.2" fill="#3ce03c" opacity="0.6"/>
<circle cx="139.6" cy="338.1" r="1.2" fill="#3ce03c" opacity="0.6"/>
<circle cx="141.4" cy="334.6" r="1.1" fill="#3ce03c" opacity="0.6"/>
<circle cx="141.2" cy="339.8" r="0.9" fill="#3ce03c" opacity="0.6"/>
<circle cx="140.1" cy="339.7" r="1.0" fill="#3ce03c" opacity="0.6"/>
<circle cx="168.1" cy="337.0" r="2.4" fill="#3ce03c"/>
<circle cx="169.3" cy="335.8" r="1.0" fill="#3ce03c" opacity="0.6"/>
<circle cx="169.2" cy="332.8" r="1.0" fill="#3ce03c" opacity="0.6"/>
<circle cx="173.0" cy="340.8" r="1.1" fill="#3ce03c" opacity="0.6"/>
<circle cx="167.0" cy="339.4" r="1.0" fill="#3ce03c" opacity="0.6"/>
<circle cx="167.5" cy="340.4" r="0.7" fill="#3ce03c" opacity="0.6"/>
<circle cx="170.6" cy="332.3" r="1.0" fill="#3ce03c" opacity="0.6"/>
<circle cx="150.5" cy="351.1" r="2.4" fill="#3ce03c"/>
<circle cx="150.3" cy="348.4" r="1.1" fill="#3ce03c" opacity="0.6"/>
<circle cx="150.5" cy="352.2" r="1.2" fill="#3ce03c" opacity="0.6"/>
<circle cx="148.1" cy="346.2" r="0.8" fill="#3ce03c" opacity="0.6"/>
<circle cx="152.3" cy="348.1" r="0.7" fill="#3ce03c" opacity="0.6"/>
<circle cx="154.6" cy="352.7" r="0.9" fill="#3ce03c" opacity="0.6"/>
<circle cx="154.4" cy="349.4" r="1.1" fill="#3ce03c" opacity="0.6"/>
</g>
</g>
<rect x="189.2" y="307.0" width="58.0" height="57.5" fill="#000" stroke="none" stroke-width="1" rx="0" />
<g clip-path="url(#cp12)">
<g filter="url(#bl1b)" opacity="0.85">
<path d="M223.0,322.9 L222.5,324.4 L221.9,325.8 L221.2,327.2 L220.3,328.4 L219.0,329.3 L217.6,329.8 L216.2,330.2 L214.8,330.5 L213.4,331.0 L211.8,331.6 L210.0,331.8 L208.3,331.4 L207.0,330.2 L206.2,328.6 L206.0,327.0 L205.7,325.5 L205.4,324.2 L205.0,322.9 L204.8,321.5 L205.0,320.0 L205.6,318.6 L206.5,317.4 L207.5,316.2 L208.6,315.0 L210.0,314.1 L211.7,313.7 L213.4,313.9 L214.9,314.8 L216.1,315.8 L217.3,316.6 L218.5,317.1 L220.0,317.6 L221.5,318.4 L222.7,319.7 L223.1,321.3 Z" fill="rgb(179,19,16)" fill-opacity="0.50" stroke="rgb(179,19,16)" stroke-width="2.6"/>
<path d="M223.0,322.9 L222.5,324.4 L221.9,325.8 L221.2,327.2 L220.3,328.4 L219.0,329.3 L217.6,329.8 L216.2,330.2 L214.8,330.5 L213.4,331.0 L211.8,331.6 L210.0,331.8 L208.3,331.4 L207.0,330.2 L206.2,328.6 L206.0,327.0 L205.7,325.5 L205.4,324.2 L205.0,322.9 L204.8,321.5 L205.0,320.0 L205.6,318.6 L206.5,317.4 L207.5,316.2 L208.6,315.0 L210.0,314.1 L211.7,313.7 L213.4,313.9 L214.9,314.8 L216.1,315.8 L217.3,316.6 L218.5,317.1 L220.0,317.6 L221.5,318.4 L222.7,319.7 L223.1,321.3 Z" fill="none" stroke="rgb(205,39,30)" stroke-width="1.9" stroke-dasharray="3.9,3.0,2.4,1.9,1.4,4.0,3.3,1.8,2.8,3.1,3.7,1.8,1.9,1.6"/>
<ellipse cx="213.39999999999998" cy="322.9" rx="4.2" ry="4.0" fill="#000" opacity="0.55"/>
<circle cx="205.8" cy="318.3" r="1.2" fill="rgb(205,39,30)"/>
<circle cx="216.9" cy="326.9" r="0.7" fill="rgb(205,39,30)"/>
<circle cx="216.7" cy="327.9" r="0.7" fill="rgb(205,39,30)"/>
<circle cx="212.8" cy="327.2" r="0.9" fill="rgb(205,39,30)"/>
<circle cx="216.2" cy="319.5" r="1.1" fill="rgb(205,39,30)"/>
<circle cx="209.4" cy="325.6" r="0.8" fill="rgb(205,39,30)"/>
<circle cx="214.9" cy="315.0" r="1.2" fill="rgb(205,39,30)"/>
<path d="M209.1,334.3 L209.4,335.8 L209.8,337.6 L209.7,339.6 L209.0,341.2 L207.7,342.3 L206.1,342.8 L204.6,342.9 L203.2,342.9 L201.9,343.0 L200.6,343.1 L199.2,342.9 L198.0,342.3 L196.8,341.3 L195.8,340.3 L194.8,339.1 L193.7,337.8 L193.0,336.1 L192.9,334.3 L193.5,332.6 L194.5,331.2 L195.7,330.1 L196.6,329.1 L197.3,327.9 L198.0,326.4 L199.0,325.1 L200.4,324.3 L201.9,324.1 L203.4,324.5 L204.8,325.1 L206.1,325.9 L207.2,326.9 L208.2,328.1 L208.8,329.7 L209.0,331.3 L209.0,332.8 Z" fill="rgb(179,19,16)" fill-opacity="0.50" stroke="rgb(179,19,16)" stroke-width="2.6"/>
<path d="M209.1,334.3 L209.4,335.8 L209.8,337.6 L209.7,339.6 L209.0,341.2 L207.7,342.3 L206.1,342.8 L204.6,342.9 L203.2,342.9 L201.9,343.0 L200.6,343.1 L199.2,342.9 L198.0,342.3 L196.8,341.3 L195.8,340.3 L194.8,339.1 L193.7,337.8 L193.0,336.1 L192.9,334.3 L193.5,332.6 L194.5,331.2 L195.7,330.1 L196.6,329.1 L197.3,327.9 L198.0,326.4 L199.0,325.1 L200.4,324.3 L201.9,324.1 L203.4,324.5 L204.8,325.1 L206.1,325.9 L207.2,326.9 L208.2,328.1 L208.8,329.7 L209.0,331.3 L209.0,332.8 Z" fill="none" stroke="rgb(205,39,30)" stroke-width="1.9" stroke-dasharray="1.9,1.7,2.7,2.8,3.4,3.7,3.4,3.9,3.0,3.0,3.4,2.5,3.4,3.6"/>
<ellipse cx="201.89999999999998" cy="334.3" rx="3.8" ry="4.4" fill="#000" opacity="0.55"/>
<circle cx="197.2" cy="333.9" r="0.9" fill="rgb(205,39,30)"/>
<circle cx="197.3" cy="329.7" r="1.0" fill="rgb(205,39,30)"/>
<circle cx="196.5" cy="339.5" r="1.1" fill="rgb(205,39,30)"/>
<circle cx="209.6" cy="330.5" r="0.6" fill="rgb(205,39,30)"/>
<circle cx="196.2" cy="339.1" r="1.0" fill="rgb(205,39,30)"/>
<circle cx="198.8" cy="331.0" r="0.9" fill="rgb(205,39,30)"/>
<circle cx="206.1" cy="328.4" r="1.3" fill="rgb(205,39,30)"/>
<path d="M238.0,336.1 L238.7,337.8 L238.9,339.6 L238.4,341.4 L237.3,342.8 L235.8,343.6 L234.3,344.2 L232.9,344.7 L231.5,345.1 L230.1,345.3 L228.7,345.0 L227.4,344.4 L226.1,343.7 L224.9,343.0 L223.5,342.2 L222.1,341.2 L221.0,339.8 L220.6,338.0 L220.9,336.1 L221.8,334.5 L222.8,333.2 L223.6,332.0 L224.2,330.6 L224.8,329.2 L225.8,327.8 L227.1,326.9 L228.6,326.5 L230.1,326.4 L231.6,326.4 L233.2,326.7 L234.7,327.3 L235.9,328.5 L236.6,330.1 L236.9,331.8 L237.1,333.3 L237.4,334.7 Z" fill="rgb(179,19,16)" fill-opacity="0.50" stroke="rgb(179,19,16)" stroke-width="2.6"/>
<path d="M238.0,336.1 L238.7,337.8 L238.9,339.6 L238.4,341.4 L237.3,342.8 L235.8,343.6 L234.3,344.2 L232.9,344.7 L231.5,345.1 L230.1,345.3 L228.7,345.0 L227.4,344.4 L226.1,343.7 L224.9,343.0 L223.5,342.2 L222.1,341.2 L221.0,339.8 L220.6,338.0 L220.9,336.1 L221.8,334.5 L222.8,333.2 L223.6,332.0 L224.2,330.6 L224.8,329.2 L225.8,327.8 L227.1,326.9 L228.6,326.5 L230.1,326.4 L231.6,326.4 L233.2,326.7 L234.7,327.3 L235.9,328.5 L236.6,330.1 L236.9,331.8 L237.1,333.3 L237.4,334.7 Z" fill="none" stroke="rgb(205,39,30)" stroke-width="1.9" stroke-dasharray="3.6,3.7,3.7,3.8,2.2,2.2,2.3,3.3,3.9,3.0,2.3,1.2,1.4,1.2"/>
<ellipse cx="230.1" cy="336.1" rx="4.0" ry="4.4" fill="#000" opacity="0.55"/>
<circle cx="231.8" cy="338.6" r="0.9" fill="rgb(205,39,30)"/>
<circle cx="227.2" cy="345.2" r="0.7" fill="rgb(205,39,30)"/>
<circle cx="237.1" cy="341.2" r="1.3" fill="rgb(205,39,30)"/>
<circle cx="223.9" cy="335.6" r="0.9" fill="rgb(205,39,30)"/>
<circle cx="226.4" cy="339.2" r="0.7" fill="rgb(205,39,30)"/>
<circle cx="238.2" cy="334.8" r="1.3" fill="rgb(205,39,30)"/>
<circle cx="234.2" cy="342.1" r="0.6" fill="rgb(205,39,30)"/>
<path d="M223.5,347.6 L223.7,349.1 L223.4,350.6 L222.8,352.0 L221.9,353.3 L221.0,354.6 L219.9,355.8 L218.5,356.9 L216.8,357.4 L215.1,357.2 L213.6,356.3 L212.3,355.2 L211.2,354.3 L210.0,353.6 L208.6,353.1 L207.1,352.2 L206.0,350.9 L205.4,349.3 L205.5,347.6 L205.9,346.0 L206.5,344.5 L207.2,343.0 L208.1,341.7 L209.4,340.8 L210.9,340.2 L212.3,340.0 L213.7,339.7 L215.1,339.2 L216.7,338.6 L218.5,338.3 L220.2,338.7 L221.6,339.9 L222.4,341.5 L222.7,343.2 L222.9,344.8 L223.2,346.2 Z" fill="rgb(179,19,16)" fill-opacity="0.50" stroke="rgb(179,19,16)" stroke-width="2.6"/>
<path d="M223.5,347.6 L223.7,349.1 L223.4,350.6 L222.8,352.0 L221.9,353.3 L221.0,354.6 L219.9,355.8 L218.5,356.9 L216.8,357.4 L215.1,357.2 L213.6,356.3 L212.3,355.2 L211.2,354.3 L210.0,353.6 L208.6,353.1 L207.1,352.2 L206.0,350.9 L205.4,349.3 L205.5,347.6 L205.9,346.0 L206.5,344.5 L207.2,343.0 L208.1,341.7 L209.4,340.8 L210.9,340.2 L212.3,340.0 L213.7,339.7 L215.1,339.2 L216.7,338.6 L218.5,338.3 L220.2,338.7 L221.6,339.9 L222.4,341.5 L222.7,343.2 L222.9,344.8 L223.2,346.2 Z" fill="none" stroke="rgb(205,39,30)" stroke-width="1.9" stroke-dasharray="2.8,1.5,3.9,3.7,2.3,3.8,3.3,1.5,3.6,3.6,1.8,3.0,1.9,1.1"/>
<ellipse cx="215.1" cy="347.6" rx="4.2" ry="4.2" fill="#000" opacity="0.55"/>
<circle cx="211.3" cy="348.6" r="1.3" fill="rgb(205,39,30)"/>
<circle cx="213.7" cy="343.3" r="0.9" fill="rgb(205,39,30)"/>
<circle cx="220.0" cy="349.7" r="1.1" fill="rgb(205,39,30)"/>
<circle cx="219.6" cy="339.5" r="1.1" fill="rgb(205,39,30)"/>
<circle cx="206.9" cy="350.6" r="1.1" fill="rgb(205,39,30)"/>
<circle cx="217.1" cy="342.7" r="1.3" fill="rgb(205,39,30)"/>
<circle cx="217.0" cy="352.8" r="0.8" fill="rgb(205,39,30)"/>
</g>
<g filter="url(#bl2)">
<circle cx="212.7" cy="318.4" r="2.4" fill="#c8e830"/>
<circle cx="209.7" cy="317.7" r="1.2" fill="#c8e830" opacity="0.6"/>
<circle cx="216.8" cy="322.2" r="0.9" fill="#c8e830" opacity="0.6"/>
<circle cx="213.5" cy="316.6" r="0.7" fill="#c8e830" opacity="0.6"/>
<circle cx="212.7" cy="321.8" r="1.2" fill="#c8e830" opacity="0.6"/>
<circle cx="214.8" cy="322.9" r="0.8" fill="#c8e830" opacity="0.6"/>
<circle cx="209.4" cy="317.9" r="0.8" fill="#c8e830" opacity="0.6"/>
<circle cx="199.39999999999998" cy="336.1" r="2.4" fill="#c8e830"/>
<circle cx="196.5" cy="335.2" r="1.0" fill="#c8e830" opacity="0.6"/>
<circle cx="199.3" cy="334.3" r="1.2" fill="#c8e830" opacity="0.6"/>
<circle cx="204.2" cy="335.6" r="0.7" fill="#c8e830" opacity="0.6"/>
<circle cx="194.7" cy="339.8" r="0.6" fill="#c8e830" opacity="0.6"/>
<circle cx="201.5" cy="336.8" r="0.8" fill="#c8e830" opacity="0.6"/>
<circle cx="202.3" cy="331.3" r="0.7" fill="#c8e830" opacity="0.6"/>
<circle cx="230.29999999999998" cy="337.0" r="2.4" fill="#c8e830"/>
<circle cx="229.8" cy="332.2" r="1.2" fill="#c8e830" opacity="0.6"/>
<circle cx="227.7" cy="333.4" r="0.6" fill="#c8e830" opacity="0.6"/>
<circle cx="231.6" cy="336.5" r="1.0" fill="#c8e830" opacity="0.6"/>
<circle cx="231.9" cy="340.1" r="1.3" fill="#c8e830" opacity="0.6"/>
<circle cx="232.1" cy="334.0" r="0.9" fill="#c8e830" opacity="0.6"/>
<circle cx="227.1" cy="332.1" r="0.9" fill="#c8e830" opacity="0.6"/>
<circle cx="212.7" cy="351.1" r="2.4" fill="#c8e830"/>
<circle cx="214.8" cy="347.9" r="0.8" fill="#c8e830" opacity="0.6"/>
<circle cx="211.2" cy="353.1" r="1.0" fill="#c8e830" opacity="0.6"/>
<circle cx="213.8" cy="353.7" r="0.9" fill="#c8e830" opacity="0.6"/>
<circle cx="215.6" cy="355.2" r="0.7" fill="#c8e830" opacity="0.6"/>
<circle cx="217.0" cy="353.3" r="0.7" fill="#c8e830" opacity="0.6"/>
<circle cx="212.2" cy="352.4" r="1.2" fill="#c8e830" opacity="0.6"/>
</g>
</g>
<rect x="251.0" y="307.0" width="58.0" height="57.5" fill="#aaaaaa" stroke="none" stroke-width="1" rx="0" />
<g clip-path="url(#cp13)">
<rect x="251.0" y="307.0" width="58" height="57.5" filter="url(#bfN)" opacity="0.4"/>
</g>
<rect x="313.0" y="307.0" width="58.0" height="57.5" fill="#ababab" stroke="none" stroke-width="1" rx="0" />
<g clip-path="url(#cp14)">
<rect x="313.0" y="307.0" width="58" height="57.5" filter="url(#bfN)" opacity="0.4"/>
<g filter="url(#bl1)">
<ellipse cx="337.2" cy="322.9" rx="10" ry="9.5" fill="#f4a0a0" fill-opacity="0.10" stroke="#f06060" stroke-opacity="0.12" stroke-width="2.2" transform="rotate(0 337.2 322.9)"/>
<ellipse cx="325.7" cy="334.3" rx="9" ry="10.5" fill="#f4a0a0" fill-opacity="0.10" stroke="#f06060" stroke-opacity="0.12" stroke-width="2.2" transform="rotate(0 325.7 334.3)"/>
<ellipse cx="353.9" cy="336.1" rx="9.5" ry="10.5" fill="#f4a0a0" fill-opacity="0.10" stroke="#f06060" stroke-opacity="0.12" stroke-width="2.2" transform="rotate(0 353.9 336.1)"/>
<ellipse cx="338.9" cy="347.6" rx="10" ry="10" fill="#f4a0a0" fill-opacity="0.10" stroke="#f06060" stroke-opacity="0.12" stroke-width="2.2" transform="rotate(0 338.9 347.6)"/>
<circle cx="336.5" cy="318.4" r="2" fill="#d8f060" opacity="0.85"/>
<circle cx="323.2" cy="336.1" r="2" fill="#d8f060" opacity="0.85"/>
<circle cx="354.1" cy="337.0" r="2" fill="#d8f060" opacity="0.85"/>
<circle cx="336.5" cy="351.1" r="2" fill="#d8f060" opacity="0.85"/>
</g>
</g>
<rect x="351.0" y="359.2" width="13.0" height="2.0" fill="#111" stroke="none" stroke-width="1" rx="0" />
<rect x="64.5" y="367.5" width="58.0" height="57.5" fill="#000" stroke="none" stroke-width="1" rx="0" />
<g clip-path="url(#cp20)">
<g filter="url(#bl1b)" opacity="1">
<path d="M91.3,379.5 L90.9,380.8 L90.6,382.0 L90.3,383.3 L89.9,384.6 L89.1,385.7 L88.1,386.5 L87.0,387.2 L85.8,387.7 L84.5,388.1 L83.1,388.2 L81.8,387.8 L80.7,386.8 L80.1,385.5 L79.6,384.1 L79.2,383.0 L78.5,382.0 L77.6,380.9 L76.9,379.5 L76.7,378.0 L77.1,376.5 L77.9,375.2 L78.9,374.2 L79.9,373.3 L80.9,372.5 L82.1,371.9 L83.3,371.7 L84.5,371.9 L85.6,372.3 L86.7,372.6 L87.9,372.8 L89.3,373.1 L90.6,373.7 L91.6,374.9 L92.0,376.4 L91.8,378.0 Z" fill="rgb(229,27,22)" fill-opacity="0.55" stroke="rgb(229,27,22)" stroke-width="3.5"/>
<path d="M91.3,379.5 L90.9,380.8 L90.6,382.0 L90.3,383.3 L89.9,384.6 L89.1,385.7 L88.1,386.5 L87.0,387.2 L85.8,387.7 L84.5,388.1 L83.1,388.2 L81.8,387.8 L80.7,386.8 L80.1,385.5 L79.6,384.1 L79.2,383.0 L78.5,382.0 L77.6,380.9 L76.9,379.5 L76.7,378.0 L77.1,376.5 L77.9,375.2 L78.9,374.2 L79.9,373.3 L80.9,372.5 L82.1,371.9 L83.3,371.7 L84.5,371.9 L85.6,372.3 L86.7,372.6 L87.9,372.8 L89.3,373.1 L90.6,373.7 L91.6,374.9 L92.0,376.4 L91.8,378.0 Z" fill="none" stroke="rgb(238,53,40)" stroke-width="2.4" stroke-dasharray="3.6,1.7,1.5,3.0,2.0,3.1,3.5,1.2,2.1,1.5,2.0,3.8,1.6,2.2"/>
<ellipse cx="84.5" cy="379.5" rx="3.4" ry="3.8" fill="#000" opacity="0.55"/>
<circle cx="85.7" cy="382.8" r="0.7" fill="rgb(238,53,40)"/>
<circle cx="90.8" cy="381.4" r="1.2" fill="rgb(238,53,40)"/>
<circle cx="81.0" cy="385.5" r="1.3" fill="rgb(238,53,40)"/>
<circle cx="84.3" cy="386.0" r="0.7" fill="rgb(238,53,40)"/>
<circle cx="83.4" cy="384.2" r="1.0" fill="rgb(238,53,40)"/>
<circle cx="81.5" cy="376.0" r="0.9" fill="rgb(238,53,40)"/>
<circle cx="85.4" cy="374.8" r="1.2" fill="rgb(238,53,40)"/>
<circle cx="84.3" cy="371.5" r="0.8" fill="rgb(238,53,40)"/>
<circle cx="84.6" cy="386.6" r="0.8" fill="rgb(238,53,40)"/>
<circle cx="80.5" cy="379.4" r="1.3" fill="rgb(238,53,40)"/>
<path d="M103.1,378.5 L102.7,380.0 L102.0,381.2 L101.3,382.2 L100.7,383.3 L100.2,384.5 L99.7,386.0 L98.9,387.3 L97.7,388.0 L96.5,388.0 L95.4,387.3 L94.4,386.5 L93.5,385.6 L92.6,384.8 L91.8,383.8 L91.2,382.6 L90.9,381.3 L90.7,379.9 L90.5,378.5 L90.3,377.0 L90.2,375.4 L90.4,373.7 L91.0,372.3 L92.1,371.4 L93.4,371.2 L94.5,371.2 L95.5,371.2 L96.5,370.9 L97.5,370.5 L98.7,370.4 L99.8,370.8 L100.7,371.7 L101.5,372.8 L102.2,374.1 L102.7,375.4 L103.1,376.9 Z" fill="rgb(229,27,22)" fill-opacity="0.55" stroke="rgb(229,27,22)" stroke-width="3.5"/>
<path d="M103.1,378.5 L102.7,380.0 L102.0,381.2 L101.3,382.2 L100.7,383.3 L100.2,384.5 L99.7,386.0 L98.9,387.3 L97.7,388.0 L96.5,388.0 L95.4,387.3 L94.4,386.5 L93.5,385.6 L92.6,384.8 L91.8,383.8 L91.2,382.6 L90.9,381.3 L90.7,379.9 L90.5,378.5 L90.3,377.0 L90.2,375.4 L90.4,373.7 L91.0,372.3 L92.1,371.4 L93.4,371.2 L94.5,371.2 L95.5,371.2 L96.5,370.9 L97.5,370.5 L98.7,370.4 L99.8,370.8 L100.7,371.7 L101.5,372.8 L102.2,374.1 L102.7,375.4 L103.1,376.9 Z" fill="none" stroke="rgb(238,53,40)" stroke-width="2.4" stroke-dasharray="3.7,1.1,1.8,3.0,2.1,3.4,3.9,2.6,2.5,3.8,2.9,3.1,2.7,3.4"/>
<ellipse cx="96.5" cy="378.5" rx="2.9" ry="4.0" fill="#000" opacity="0.55"/>
<circle cx="98.1" cy="376.1" r="0.7" fill="rgb(238,53,40)"/>
<circle cx="99.6" cy="379.1" r="0.8" fill="rgb(238,53,40)"/>
<circle cx="93.6" cy="382.0" r="1.0" fill="rgb(238,53,40)"/>
<circle cx="95.2" cy="376.2" r="0.7" fill="rgb(238,53,40)"/>
<circle cx="99.8" cy="370.7" r="0.7" fill="rgb(238,53,40)"/>
<circle cx="95.1" cy="384.6" r="1.0" fill="rgb(238,53,40)"/>
<circle cx="100.0" cy="385.2" r="1.1" fill="rgb(238,53,40)"/>
<circle cx="93.8" cy="381.5" r="0.7" fill="rgb(238,53,40)"/>
<circle cx="97.7" cy="387.2" r="1.4" fill="rgb(238,53,40)"/>
<circle cx="94.3" cy="384.0" r="0.6" fill="rgb(238,53,40)"/>
<path d="M104.6,397.5 L104.8,398.8 L104.5,400.1 L103.8,401.3 L102.9,402.3 L101.9,403.3 L100.8,404.1 L99.4,404.6 L97.9,404.7 L96.5,404.3 L95.3,403.8 L94.1,403.4 L92.8,403.1 L91.4,403.0 L89.8,402.5 L88.6,401.6 L88.0,400.3 L88.0,398.8 L88.4,397.5 L88.9,396.3 L89.3,395.2 L89.8,394.1 L90.5,393.0 L91.5,392.2 L92.7,391.6 L93.9,391.1 L95.1,390.5 L96.5,389.9 L98.1,389.6 L99.6,389.8 L100.9,390.7 L101.8,391.9 L102.2,393.2 L102.6,394.4 L103.2,395.3 L103.9,396.3 Z" fill="rgb(229,27,22)" fill-opacity="0.55" stroke="rgb(229,27,22)" stroke-width="3.5"/>
<path d="M104.6,397.5 L104.8,398.8 L104.5,400.1 L103.8,401.3 L102.9,402.3 L101.9,403.3 L100.8,404.1 L99.4,404.6 L97.9,404.7 L96.5,404.3 L95.3,403.8 L94.1,403.4 L92.8,403.1 L91.4,403.0 L89.8,402.5 L88.6,401.6 L88.0,400.3 L88.0,398.8 L88.4,397.5 L88.9,396.3 L89.3,395.2 L89.8,394.1 L90.5,393.0 L91.5,392.2 L92.7,391.6 L93.9,391.1 L95.1,390.5 L96.5,389.9 L98.1,389.6 L99.6,389.8 L100.9,390.7 L101.8,391.9 L102.2,393.2 L102.6,394.4 L103.2,395.3 L103.9,396.3 Z" fill="none" stroke="rgb(238,53,40)" stroke-width="2.4" stroke-dasharray="3.1,3.6,2.5,3.8,1.6,1.2,1.0,1.2,1.6,2.2,1.3,1.1,1.3,3.6"/>
<ellipse cx="96.5" cy="397.5" rx="3.8" ry="3.4" fill="#000" opacity="0.55"/>
<circle cx="103.7" cy="393.4" r="1.3" fill="rgb(238,53,40)"/>
<circle cx="99.4" cy="394.1" r="1.2" fill="rgb(238,53,40)"/>
<circle cx="94.1" cy="394.5" r="1.4" fill="rgb(238,53,40)"/>
<circle cx="95.4" cy="392.6" r="0.7" fill="rgb(238,53,40)"/>
<circle cx="94.1" cy="391.2" r="1.1" fill="rgb(238,53,40)"/>
<circle cx="88.6" cy="400.3" r="1.0" fill="rgb(238,53,40)"/>
<circle cx="101.0" cy="394.3" r="0.6" fill="rgb(238,53,40)"/>
<circle cx="94.7" cy="404.6" r="0.8" fill="rgb(238,53,40)"/>
<circle cx="102.5" cy="398.0" r="0.9" fill="rgb(238,53,40)"/>
<circle cx="93.9" cy="400.2" r="0.6" fill="rgb(238,53,40)"/>
<path d="M104.5,411.0 L104.4,412.2 L103.7,413.3 L102.6,414.1 L101.4,414.6 L100.5,415.1 L99.7,415.8 L98.8,416.6 L97.8,417.4 L96.5,417.8 L95.2,417.7 L93.9,417.2 L92.8,416.6 L91.8,415.9 L90.8,415.2 L90.1,414.2 L89.8,413.1 L89.9,412.0 L90.1,411.0 L90.2,410.0 L90.2,409.0 L90.1,407.8 L90.4,406.5 L91.2,405.5 L92.5,404.9 L93.9,404.8 L95.3,405.0 L96.5,405.2 L97.7,405.3 L98.8,405.4 L100.0,405.7 L101.0,406.3 L101.9,407.1 L102.6,407.9 L103.3,408.8 L104.1,409.8 Z" fill="rgb(229,27,22)" fill-opacity="0.55" stroke="rgb(229,27,22)" stroke-width="3.5"/>
<path d="M104.5,411.0 L104.4,412.2 L103.7,413.3 L102.6,414.1 L101.4,414.6 L100.5,415.1 L99.7,415.8 L98.8,416.6 L97.8,417.4 L96.5,417.8 L95.2,417.7 L93.9,417.2 L92.8,416.6 L91.8,415.9 L90.8,415.2 L90.1,414.2 L89.8,413.1 L89.9,412.0 L90.1,411.0 L90.2,410.0 L90.2,409.0 L90.1,407.8 L90.4,406.5 L91.2,405.5 L92.5,404.9 L93.9,404.8 L95.3,405.0 L96.5,405.2 L97.7,405.3 L98.8,405.4 L100.0,405.7 L101.0,406.3 L101.9,407.1 L102.6,407.9 L103.3,408.8 L104.1,409.8 Z" fill="none" stroke="rgb(238,53,40)" stroke-width="2.4" stroke-dasharray="1.3,1.0,1.5,1.2,3.1,2.7,1.0,2.8,2.9,3.5,1.3,1.4,1.8,3.1"/>
<ellipse cx="96.5" cy="411.0" rx="3.4" ry="2.9" fill="#000" opacity="0.55"/>
<circle cx="91.2" cy="407.3" r="0.8" fill="rgb(238,53,40)"/>
<circle cx="102.4" cy="411.6" r="0.9" fill="rgb(238,53,40)"/>
<circle cx="94.7" cy="405.4" r="0.9" fill="rgb(238,53,40)"/>
<circle cx="98.5" cy="404.9" r="1.1" fill="rgb(238,53,40)"/>
<circle cx="90.6" cy="413.1" r="1.2" fill="rgb(238,53,40)"/>
<circle cx="98.4" cy="406.1" r="0.8" fill="rgb(238,53,40)"/>
<circle cx="91.9" cy="409.7" r="1.3" fill="rgb(238,53,40)"/>
<circle cx="93.0" cy="412.8" r="0.8" fill="rgb(238,53,40)"/>
<circle cx="100.4" cy="415.6" r="1.2" fill="rgb(238,53,40)"/>
<circle cx="92.0" cy="407.7" r="0.6" fill="rgb(238,53,40)"/>
</g>
</g>
<rect x="127.0" y="367.5" width="58.0" height="57.5" fill="#000" stroke="none" stroke-width="1" rx="0" />
<g clip-path="url(#cp21)">
<g filter="url(#bl2)">
<circle cx="146.5" cy="378.0" r="1.4" fill="#3ce03c"/>
<circle cx="145.3" cy="378.7" r="1.2" fill="#3ce03c" opacity="0.6"/>
<circle cx="149.5" cy="382.4" r="0.9" fill="#3ce03c" opacity="0.6"/>
<circle cx="159.6" cy="382.8" r="1.4" fill="#3ce03c"/>
<circle cx="161.1" cy="379.8" r="1.1" fill="#3ce03c" opacity="0.6"/>
<circle cx="162.8" cy="384.2" r="1.1" fill="#3ce03c" opacity="0.6"/>
<circle cx="161.7" cy="395.1" r="1.4" fill="#3ce03c"/>
<circle cx="158.8" cy="399.1" r="1.3" fill="#3ce03c" opacity="0.6"/>
<circle cx="166.5" cy="395.5" r="1.2" fill="#3ce03c" opacity="0.6"/>
<circle cx="159.6" cy="406.9" r="1.4" fill="#3ce03c"/>
<circle cx="157.8" cy="411.0" r="1.2" fill="#3ce03c" opacity="0.6"/>
<circle cx="158.1" cy="402.7" r="0.9" fill="#3ce03c" opacity="0.6"/>
</g>
</g>
<rect x="189.2" y="367.5" width="58.0" height="57.5" fill="#000" stroke="none" stroke-width="1" rx="0" />
<g clip-path="url(#cp22)">
<g filter="url(#bl1b)" opacity="1">
<path d="M216.0,379.5 L215.6,380.8 L215.3,382.0 L215.0,383.3 L214.6,384.6 L213.8,385.7 L212.8,386.5 L211.7,387.2 L210.5,387.7 L209.2,388.1 L207.8,388.2 L206.5,387.8 L205.4,386.8 L204.8,385.5 L204.3,384.1 L203.9,383.0 L203.2,382.0 L202.3,380.9 L201.6,379.5 L201.4,378.0 L201.8,376.5 L202.6,375.2 L203.6,374.2 L204.6,373.3 L205.6,372.5 L206.8,371.9 L208.0,371.7 L209.2,371.9 L210.3,372.3 L211.4,372.6 L212.6,372.8 L214.0,373.1 L215.3,373.7 L216.3,374.9 L216.7,376.4 L216.5,378.0 Z" fill="rgb(229,27,22)" fill-opacity="0.55" stroke="rgb(229,27,22)" stroke-width="3.5"/>
<path d="M216.0,379.5 L215.6,380.8 L215.3,382.0 L215.0,383.3 L214.6,384.6 L213.8,385.7 L212.8,386.5 L211.7,387.2 L210.5,387.7 L209.2,388.1 L207.8,388.2 L206.5,387.8 L205.4,386.8 L204.8,385.5 L204.3,384.1 L203.9,383.0 L203.2,382.0 L202.3,380.9 L201.6,379.5 L201.4,378.0 L201.8,376.5 L202.6,375.2 L203.6,374.2 L204.6,373.3 L205.6,372.5 L206.8,371.9 L208.0,371.7 L209.2,371.9 L210.3,372.3 L211.4,372.6 L212.6,372.8 L214.0,373.1 L215.3,373.7 L216.3,374.9 L216.7,376.4 L216.5,378.0 Z" fill="none" stroke="rgb(238,53,40)" stroke-width="2.4" stroke-dasharray="3.6,1.7,1.5,3.0,2.0,3.1,3.5,1.2,2.1,1.5,2.0,3.8,1.6,2.2"/>
<ellipse cx="209.2" cy="379.5" rx="3.4" ry="3.8" fill="#000" opacity="0.55"/>
<circle cx="210.4" cy="382.8" r="0.7" fill="rgb(238,53,40)"/>
<circle cx="215.5" cy="381.4" r="1.2" fill="rgb(238,53,40)"/>
<circle cx="205.7" cy="385.5" r="1.3" fill="rgb(238,53,40)"/>
<circle cx="209.0" cy="386.0" r="0.7" fill="rgb(238,53,40)"/>
<circle cx="208.1" cy="384.2" r="1.0" fill="rgb(238,53,40)"/>
<circle cx="206.2" cy="376.0" r="0.9" fill="rgb(238,53,40)"/>
<circle cx="210.1" cy="374.8" r="1.2" fill="rgb(238,53,40)"/>
<circle cx="209.0" cy="371.5" r="0.8" fill="rgb(238,53,40)"/>
<circle cx="209.3" cy="386.6" r="0.8" fill="rgb(238,53,40)"/>
<circle cx="205.2" cy="379.4" r="1.3" fill="rgb(238,53,40)"/>
<path d="M227.8,378.5 L227.4,380.0 L226.7,381.2 L226.0,382.2 L225.4,383.3 L224.9,384.5 L224.4,386.0 L223.6,387.3 L222.4,388.0 L221.2,388.0 L220.1,387.3 L219.1,386.5 L218.2,385.6 L217.3,384.8 L216.5,383.8 L215.9,382.6 L215.6,381.3 L215.4,379.9 L215.2,378.5 L215.0,377.0 L214.9,375.4 L215.1,373.7 L215.7,372.3 L216.8,371.4 L218.1,371.2 L219.2,371.2 L220.2,371.2 L221.2,370.9 L222.2,370.5 L223.4,370.4 L224.5,370.8 L225.4,371.7 L226.2,372.8 L226.9,374.1 L227.4,375.4 L227.8,376.9 Z" fill="rgb(229,27,22)" fill-opacity="0.55" stroke="rgb(229,27,22)" stroke-width="3.5"/>
<path d="M227.8,378.5 L227.4,380.0 L226.7,381.2 L226.0,382.2 L225.4,383.3 L224.9,384.5 L224.4,386.0 L223.6,387.3 L222.4,388.0 L221.2,388.0 L220.1,387.3 L219.1,386.5 L218.2,385.6 L217.3,384.8 L216.5,383.8 L215.9,382.6 L215.6,381.3 L215.4,379.9 L215.2,378.5 L215.0,377.0 L214.9,375.4 L215.1,373.7 L215.7,372.3 L216.8,371.4 L218.1,371.2 L219.2,371.2 L220.2,371.2 L221.2,370.9 L222.2,370.5 L223.4,370.4 L224.5,370.8 L225.4,371.7 L226.2,372.8 L226.9,374.1 L227.4,375.4 L227.8,376.9 Z" fill="none" stroke="rgb(238,53,40)" stroke-width="2.4" stroke-dasharray="3.7,1.1,1.8,3.0,2.1,3.4,3.9,2.6,2.5,3.8,2.9,3.1,2.7,3.4"/>
<ellipse cx="221.2" cy="378.5" rx="2.9" ry="4.0" fill="#000" opacity="0.55"/>
<circle cx="222.8" cy="376.1" r="0.7" fill="rgb(238,53,40)"/>
<circle cx="224.3" cy="379.1" r="0.8" fill="rgb(238,53,40)"/>
<circle cx="218.3" cy="382.0" r="1.0" fill="rgb(238,53,40)"/>
<circle cx="219.9" cy="376.2" r="0.7" fill="rgb(238,53,40)"/>
<circle cx="224.5" cy="370.7" r="0.7" fill="rgb(238,53,40)"/>
<circle cx="219.8" cy="384.6" r="1.0" fill="rgb(238,53,40)"/>
<circle cx="224.7" cy="385.2" r="1.1" fill="rgb(238,53,40)"/>
<circle cx="218.5" cy="381.5" r="0.7" fill="rgb(238,53,40)"/>
<circle cx="222.4" cy="387.2" r="1.4" fill="rgb(238,53,40)"/>
<circle cx="219.0" cy="384.0" r="0.6" fill="rgb(238,53,40)"/>
<path d="M229.3,397.5 L229.5,398.8 L229.2,400.1 L228.5,401.3 L227.6,402.3 L226.6,403.3 L225.5,404.1 L224.1,404.6 L222.6,404.7 L221.2,404.3 L220.0,403.8 L218.8,403.4 L217.5,403.1 L216.1,403.0 L214.5,402.5 L213.3,401.6 L212.7,400.3 L212.7,398.8 L213.1,397.5 L213.6,396.3 L214.0,395.2 L214.5,394.1 L215.2,393.0 L216.2,392.2 L217.4,391.6 L218.6,391.1 L219.8,390.5 L221.2,389.9 L222.8,389.6 L224.3,389.8 L225.6,390.7 L226.5,391.9 L226.9,393.2 L227.3,394.4 L227.9,395.3 L228.6,396.3 Z" fill="rgb(229,27,22)" fill-opacity="0.55" stroke="rgb(229,27,22)" stroke-width="3.5"/>
<path d="M229.3,397.5 L229.5,398.8 L229.2,400.1 L228.5,401.3 L227.6,402.3 L226.6,403.3 L225.5,404.1 L224.1,404.6 L222.6,404.7 L221.2,404.3 L220.0,403.8 L218.8,403.4 L217.5,403.1 L216.1,403.0 L214.5,402.5 L213.3,401.6 L212.7,400.3 L212.7,398.8 L213.1,397.5 L213.6,396.3 L214.0,395.2 L214.5,394.1 L215.2,393.0 L216.2,392.2 L217.4,391.6 L218.6,391.1 L219.8,390.5 L221.2,389.9 L222.8,389.6 L224.3,389.8 L225.6,390.7 L226.5,391.9 L226.9,393.2 L227.3,394.4 L227.9,395.3 L228.6,396.3 Z" fill="none" stroke="rgb(238,53,40)" stroke-width="2.4" stroke-dasharray="3.1,3.6,2.5,3.8,1.6,1.2,1.0,1.2,1.6,2.2,1.3,1.1,1.3,3.6"/>
<ellipse cx="221.2" cy="397.5" rx="3.8" ry="3.4" fill="#000" opacity="0.55"/>
<circle cx="228.4" cy="393.4" r="1.3" fill="rgb(238,53,40)"/>
<circle cx="224.1" cy="394.1" r="1.2" fill="rgb(238,53,40)"/>
<circle cx="218.8" cy="394.5" r="1.4" fill="rgb(238,53,40)"/>
<circle cx="220.1" cy="392.6" r="0.7" fill="rgb(238,53,40)"/>
<circle cx="218.8" cy="391.2" r="1.1" fill="rgb(238,53,40)"/>
<circle cx="213.3" cy="400.3" r="1.0" fill="rgb(238,53,40)"/>
<circle cx="225.7" cy="394.3" r="0.6" fill="rgb(238,53,40)"/>
<circle cx="219.4" cy="404.6" r="0.8" fill="rgb(238,53,40)"/>
<circle cx="227.2" cy="398.0" r="0.9" fill="rgb(238,53,40)"/>
<circle cx="218.6" cy="400.2" r="0.6" fill="rgb(238,53,40)"/>
<path d="M229.2,411.0 L229.1,412.2 L228.4,413.3 L227.3,414.1 L226.1,414.6 L225.2,415.1 L224.4,415.8 L223.5,416.6 L222.5,417.4 L221.2,417.8 L219.9,417.7 L218.6,417.2 L217.5,416.6 L216.5,415.9 L215.5,415.2 L214.8,414.2 L214.5,413.1 L214.6,412.0 L214.8,411.0 L214.9,410.0 L214.9,409.0 L214.8,407.8 L215.1,406.5 L215.9,405.5 L217.2,404.9 L218.6,404.8 L220.0,405.0 L221.2,405.2 L222.4,405.3 L223.5,405.4 L224.7,405.7 L225.7,406.3 L226.6,407.1 L227.3,407.9 L228.0,408.8 L228.8,409.8 Z" fill="rgb(229,27,22)" fill-opacity="0.55" stroke="rgb(229,27,22)" stroke-width="3.5"/>
<path d="M229.2,411.0 L229.1,412.2 L228.4,413.3 L227.3,414.1 L226.1,414.6 L225.2,415.1 L224.4,415.8 L223.5,416.6 L222.5,417.4 L221.2,417.8 L219.9,417.7 L218.6,417.2 L217.5,416.6 L216.5,415.9 L215.5,415.2 L214.8,414.2 L214.5,413.1 L214.6,412.0 L214.8,411.0 L214.9,410.0 L214.9,409.0 L214.8,407.8 L215.1,406.5 L215.9,405.5 L217.2,404.9 L218.6,404.8 L220.0,405.0 L221.2,405.2 L222.4,405.3 L223.5,405.4 L224.7,405.7 L225.7,406.3 L226.6,407.1 L227.3,407.9 L228.0,408.8 L228.8,409.8 Z" fill="none" stroke="rgb(238,53,40)" stroke-width="2.4" stroke-dasharray="1.3,1.0,1.5,1.2,3.1,2.7,1.0,2.8,2.9,3.5,1.3,1.4,1.8,3.1"/>
<ellipse cx="221.2" cy="411.0" rx="3.4" ry="2.9" fill="#000" opacity="0.55"/>
<circle cx="215.9" cy="407.3" r="0.8" fill="rgb(238,53,40)"/>
<circle cx="227.1" cy="411.6" r="0.9" fill="rgb(238,53,40)"/>
<circle cx="219.4" cy="405.4" r="0.9" fill="rgb(238,53,40)"/>
<circle cx="223.2" cy="404.9" r="1.1" fill="rgb(238,53,40)"/>
<circle cx="215.3" cy="413.1" r="1.2" fill="rgb(238,53,40)"/>
<circle cx="223.1" cy="406.1" r="0.8" fill="rgb(238,53,40)"/>
<circle cx="216.6" cy="409.7" r="1.3" fill="rgb(238,53,40)"/>
<circle cx="217.7" cy="412.8" r="0.8" fill="rgb(238,53,40)"/>
<circle cx="225.1" cy="415.6" r="1.2" fill="rgb(238,53,40)"/>
<circle cx="216.7" cy="407.7" r="0.6" fill="rgb(238,53,40)"/>
</g>
<g filter="url(#bl2)">
<circle cx="208.7" cy="378.0" r="1.4" fill="#c8e830"/>
<circle cx="209.2" cy="380.7" r="0.9" fill="#c8e830" opacity="0.6"/>
<circle cx="204.0" cy="381.1" r="0.6" fill="#c8e830" opacity="0.6"/>
<circle cx="221.79999999999998" cy="382.8" r="1.4" fill="#c8e830"/>
<circle cx="224.8" cy="379.5" r="0.8" fill="#c8e830" opacity="0.6"/>
<circle cx="224.7" cy="379.2" r="0.7" fill="#c8e830" opacity="0.6"/>
<circle cx="223.89999999999998" cy="395.1" r="1.4" fill="#c8e830"/>
<circle cx="224.1" cy="397.3" r="1.2" fill="#c8e830" opacity="0.6"/>
<circle cx="225.8" cy="399.6" r="0.9" fill="#c8e830" opacity="0.6"/>
<circle cx="221.79999999999998" cy="406.9" r="1.4" fill="#c8e830"/>
<circle cx="226.3" cy="402.8" r="0.8" fill="#c8e830" opacity="0.6"/>
<circle cx="222.1" cy="404.8" r="1.1" fill="#c8e830" opacity="0.6"/>
</g>
</g>
<rect x="251.0" y="367.5" width="58.0" height="57.5" fill="#aaaaaa" stroke="none" stroke-width="1" rx="0" />
<g clip-path="url(#cp23)">
<rect x="251.0" y="367.5" width="58" height="57.5" filter="url(#bfN)" opacity="0.4"/>
<g filter="url(#bl1)" opacity="0.85">
<path d="M279.6,379.5 L279.6,381.2 L279.6,383.0 L279.6,385.0 L279.0,386.9 L277.7,388.3 L275.9,388.8 L274.0,388.5 L272.3,387.9 L271.0,387.6 L269.7,387.9 L268.1,388.4 L266.3,388.5 L264.7,387.9 L263.4,386.5 L262.7,384.8 L262.2,383.1 L261.8,381.3 L261.6,379.5 L261.9,377.7 L262.7,376.2 L264.0,375.0 L265.2,374.1 L266.1,373.0 L266.9,371.5 L267.8,369.7 L269.2,368.2 L271.0,367.6 L272.8,368.2 L274.2,369.6 L275.3,371.2 L276.2,372.6 L277.2,373.7 L278.3,374.8 L279.1,376.2 L279.5,377.8 Z" fill="#c4c4c4" fill-opacity="0.35" stroke="#505050" stroke-width="1.0" stroke-dasharray="3.2,2.9,1.8,1.2,2.6,3.0,4.1,2.4,4.9,1.5"/>
<path d="M290.3,378.5 L290.4,380.2 L290.2,381.9 L289.6,383.5 L288.9,385.0 L288.1,386.4 L287.2,388.0 L286.1,389.6 L284.6,390.5 L283.0,390.4 L281.6,389.3 L280.5,387.6 L279.7,386.1 L278.8,385.1 L277.6,384.4 L276.2,383.6 L275.0,382.3 L274.3,380.5 L274.3,378.5 L274.7,376.6 L275.2,374.8 L275.8,373.0 L276.6,371.5 L277.8,370.3 L279.2,369.8 L280.6,369.8 L281.8,369.8 L283.0,369.4 L284.3,368.6 L286.0,367.9 L287.7,367.9 L289.1,369.0 L289.9,370.9 L290.1,373.1 L290.0,375.1 L290.1,376.9 Z" fill="#c4c4c4" fill-opacity="0.35" stroke="#505050" stroke-width="1.0" stroke-dasharray="1.9,1.5,4.9,3.7,3.2,4.4,4.8,2.5,4.4,2.2"/>
<path d="M291.2,397.5 L291.6,398.9 L292.0,400.4 L292.0,402.2 L291.2,403.7 L289.9,404.9 L288.3,405.7 L286.6,406.4 L284.8,406.9 L283.0,407.1 L281.2,406.7 L279.7,405.7 L278.6,404.4 L277.7,403.2 L276.6,402.4 L275.0,401.7 L273.1,400.7 L271.7,399.3 L271.2,397.5 L271.9,395.7 L273.2,394.3 L274.7,393.2 L275.9,392.2 L277.0,391.1 L278.3,390.1 L279.7,389.5 L281.4,389.2 L283.0,389.1 L284.7,389.0 L286.5,388.8 L288.6,388.8 L290.5,389.4 L291.9,390.8 L292.3,392.7 L291.9,394.6 L291.4,396.2 Z" fill="#c4c4c4" fill-opacity="0.35" stroke="#505050" stroke-width="1.0" stroke-dasharray="2.5,3.6,3.9,1.4,4.0,1.8,2.2,2.0,2.1,4.8"/>
<path d="M291.9,411.0 L291.7,412.4 L291.3,413.7 L290.5,414.8 L289.3,415.7 L288.1,416.4 L287.0,417.1 L285.9,418.1 L284.6,419.3 L283.0,420.2 L281.1,420.4 L279.5,419.6 L278.3,418.2 L277.6,416.7 L277.1,415.4 L276.3,414.5 L275.3,413.5 L274.4,412.4 L273.9,411.0 L274.0,409.6 L274.4,408.2 L274.9,406.8 L275.5,405.4 L276.5,404.1 L278.0,403.3 L279.8,403.1 L281.5,403.6 L283.0,404.2 L284.3,404.6 L285.6,404.6 L287.3,404.3 L289.2,404.4 L290.9,405.1 L291.9,406.5 L292.2,408.0 L292.1,409.6 Z" fill="#c4c4c4" fill-opacity="0.35" stroke="#505050" stroke-width="1.0" stroke-dasharray="1.5,2.0,1.0,2.9,4.8,3.1,3.9,1.7,1.2,1.9"/>
<circle cx="304.4" cy="406.5" r="1.5" fill="#333"/>
<circle cx="294.8" cy="383.3" r="0.8" fill="#333"/>
<circle cx="286.1" cy="377.0" r="1.1" fill="#333"/>
<circle cx="282.1" cy="382.9" r="1.6" fill="#333"/>
<circle cx="256.2" cy="418.5" r="0.6" fill="#333"/>
</g>
</g>
<rect x="313.0" y="367.5" width="58.0" height="57.5" fill="#ababab" stroke="none" stroke-width="1" rx="0" />
<g clip-path="url(#cp24)">
<rect x="313.0" y="367.5" width="58" height="57.5" filter="url(#bfN)" opacity="0.4"/>
<g filter="url(#bl1)">
<ellipse cx="333.0" cy="379.5" rx="8" ry="9" fill="#f4a0a0" fill-opacity="0.32" stroke="#f06060" stroke-opacity="0.40" stroke-width="2.2" transform="rotate(0 333.0 379.5)"/>
<ellipse cx="345.0" cy="378.5" rx="7" ry="9.5" fill="#f4a0a0" fill-opacity="0.32" stroke="#f06060" stroke-opacity="0.40" stroke-width="2.2" transform="rotate(0 345.0 378.5)"/>
<ellipse cx="345.0" cy="397.5" rx="9" ry="8" fill="#f4a0a0" fill-opacity="0.32" stroke="#f06060" stroke-opacity="0.40" stroke-width="2.2" transform="rotate(0 345.0 397.5)"/>
<ellipse cx="345.0" cy="411.0" rx="8" ry="7" fill="#f4a0a0" fill-opacity="0.32" stroke="#f06060" stroke-opacity="0.40" stroke-width="2.2" transform="rotate(0 345.0 411.0)"/>
<circle cx="332.5" cy="378.0" r="2" fill="#d8f060" opacity="0.85"/>
<circle cx="345.6" cy="382.8" r="2" fill="#d8f060" opacity="0.85"/>
<circle cx="347.7" cy="395.1" r="2" fill="#d8f060" opacity="0.85"/>
<circle cx="345.6" cy="406.9" r="2" fill="#d8f060" opacity="0.85"/>
</g>
</g>
<rect x="356.0" y="419.3" width="8.0" height="2.0" fill="#111" stroke="none" stroke-width="1" rx="0" />
<rect x="64.5" y="428.5" width="58.0" height="57.5" fill="#000" stroke="none" stroke-width="1" rx="0" />
<g clip-path="url(#cp30)">
<g filter="url(#bl1b)" opacity="1">
<path d="M91.6,448.9 L90.8,450.9 L89.9,452.6 L89.1,454.3 L88.5,456.2 L87.7,458.5 L86.4,460.6 L84.4,461.9 L82.0,462.2 L79.7,461.6 L77.7,460.5 L75.9,459.4 L74.1,458.6 L72.3,457.7 L70.7,456.5 L69.4,454.8 L68.6,453.0 L67.9,451.0 L67.3,448.9 L66.9,446.6 L67.0,444.3 L68.0,442.1 L69.8,440.6 L72.1,439.9 L74.3,439.5 L76.1,439.1 L77.8,438.3 L79.7,437.3 L81.9,436.5 L84.2,436.6 L86.3,437.5 L87.9,439.1 L89.3,440.8 L90.5,442.7 L91.4,444.6 L91.9,446.8 Z" fill="rgb(255,32,26)" fill-opacity="0.62" stroke="rgb(255,32,26)" stroke-width="3.9"/>
<path d="M91.6,448.9 L90.8,450.9 L89.9,452.6 L89.1,454.3 L88.5,456.2 L87.7,458.5 L86.4,460.6 L84.4,461.9 L82.0,462.2 L79.7,461.6 L77.7,460.5 L75.9,459.4 L74.1,458.6 L72.3,457.7 L70.7,456.5 L69.4,454.8 L68.6,453.0 L67.9,451.0 L67.3,448.9 L66.9,446.6 L67.0,444.3 L68.0,442.1 L69.8,440.6 L72.1,439.9 L74.3,439.5 L76.1,439.1 L77.8,438.3 L79.7,437.3 L81.9,436.5 L84.2,436.6 L86.3,437.5 L87.9,439.1 L89.3,440.8 L90.5,442.7 L91.4,444.6 L91.9,446.8 Z" fill="none" stroke="rgb(255,60,45)" stroke-width="2.8" stroke-dasharray="3.1,2.6,2.3,1.1,2.2,2.9,1.6,2.0,1.6,3.3,3.2,3.5,3.7,3.1"/>
<ellipse cx="79.7" cy="448.9" rx="5.7" ry="5.7" fill="#000" opacity="0.55"/>
<circle cx="82.7" cy="445.6" r="0.9" fill="rgb(255,60,45)"/>
<circle cx="79.7" cy="455.1" r="0.9" fill="rgb(255,60,45)"/>
<circle cx="68.3" cy="448.2" r="0.9" fill="rgb(255,60,45)"/>
<circle cx="72.5" cy="458.3" r="0.6" fill="rgb(255,60,45)"/>
<circle cx="84.0" cy="449.3" r="1.2" fill="rgb(255,60,45)"/>
<circle cx="80.3" cy="439.6" r="0.8" fill="rgb(255,60,45)"/>
<circle cx="79.3" cy="443.6" r="1.2" fill="rgb(255,60,45)"/>
<circle cx="90.8" cy="448.9" r="0.7" fill="rgb(255,60,45)"/>
<circle cx="78.0" cy="455.3" r="1.3" fill="rgb(255,60,45)"/>
<circle cx="79.2" cy="441.2" r="0.8" fill="rgb(255,60,45)"/>
<circle cx="89.0" cy="453.6" r="0.8" fill="rgb(255,60,45)"/>
<circle cx="74.1" cy="442.0" r="1.0" fill="rgb(255,60,45)"/>
<path d="M117.6,454.1 L118.3,456.8 L118.2,459.6 L117.0,462.0 L115.3,463.8 L113.5,465.2 L111.6,466.4 L109.8,467.4 L107.9,468.0 L105.9,468.0 L104.0,467.3 L102.2,466.5 L100.5,465.7 L98.5,465.0 L96.3,464.0 L94.5,462.2 L93.4,459.7 L93.4,456.8 L94.2,454.1 L95.3,451.8 L96.2,449.7 L96.8,447.6 L97.4,445.3 L98.4,443.1 L99.9,441.4 L101.8,440.3 L103.8,439.6 L105.9,439.2 L108.1,439.0 L110.2,439.4 L112.2,440.7 L113.5,442.9 L114.3,445.5 L114.7,447.8 L115.4,449.9 L116.4,451.8 Z" fill="rgb(255,32,26)" fill-opacity="0.62" stroke="rgb(255,32,26)" stroke-width="3.9"/>
<path d="M117.6,454.1 L118.3,456.8 L118.2,459.6 L117.0,462.0 L115.3,463.8 L113.5,465.2 L111.6,466.4 L109.8,467.4 L107.9,468.0 L105.9,468.0 L104.0,467.3 L102.2,466.5 L100.5,465.7 L98.5,465.0 L96.3,464.0 L94.5,462.2 L93.4,459.7 L93.4,456.8 L94.2,454.1 L95.3,451.8 L96.2,449.7 L96.8,447.6 L97.4,445.3 L98.4,443.1 L99.9,441.4 L101.8,440.3 L103.8,439.6 L105.9,439.2 L108.1,439.0 L110.2,439.4 L112.2,440.7 L113.5,442.9 L114.3,445.5 L114.7,447.8 L115.4,449.9 L116.4,451.8 Z" fill="none" stroke="rgb(255,60,45)" stroke-width="2.8" stroke-dasharray="1.5,2.8,1.0,3.7,1.3,4.0,3.2,3.5,1.5,1.3,4.0,2.2,3.8,1.2"/>
<ellipse cx="105.9" cy="454.1" rx="5.5" ry="6.7" fill="#000" opacity="0.55"/>
<circle cx="97.0" cy="452.2" r="1.2" fill="rgb(255,60,45)"/>
<circle cx="103.8" cy="462.2" r="1.3" fill="rgb(255,60,45)"/>
<circle cx="111.4" cy="453.8" r="0.9" fill="rgb(255,60,45)"/>
<circle cx="106.5" cy="461.0" r="0.9" fill="rgb(255,60,45)"/>
<circle cx="105.1" cy="442.7" r="0.8" fill="rgb(255,60,45)"/>
<circle cx="112.5" cy="464.0" r="1.1" fill="rgb(255,60,45)"/>
<circle cx="112.1" cy="443.9" r="1.2" fill="rgb(255,60,45)"/>
<circle cx="101.2" cy="453.9" r="1.1" fill="rgb(255,60,45)"/>
<circle cx="102.0" cy="446.7" r="0.8" fill="rgb(255,60,45)"/>
<circle cx="96.1" cy="447.1" r="0.9" fill="rgb(255,60,45)"/>
<circle cx="107.2" cy="469.0" r="1.1" fill="rgb(255,60,45)"/>
<circle cx="94.9" cy="451.8" r="0.7" fill="rgb(255,60,45)"/>
<path d="M106.5,472.4 L106.0,474.3 L105.4,476.0 L104.6,477.7 L103.3,479.2 L101.6,480.3 L99.6,480.9 L97.7,481.1 L95.9,481.4 L94.1,481.9 L92.1,482.6 L89.7,483.0 L87.4,482.6 L85.6,481.3 L84.6,479.5 L84.1,477.5 L83.8,475.7 L83.4,474.1 L83.1,472.4 L83.0,470.7 L83.4,469.0 L84.3,467.4 L85.4,465.9 L86.6,464.5 L87.9,462.9 L89.7,461.6 L91.8,461.0 L94.1,461.2 L96.1,462.2 L97.7,463.5 L99.1,464.7 L100.7,465.5 L102.5,466.2 L104.4,467.2 L105.8,468.6 L106.5,470.5 Z" fill="rgb(255,32,26)" fill-opacity="0.62" stroke="rgb(255,32,26)" stroke-width="3.9"/>
<path d="M106.5,472.4 L106.0,474.3 L105.4,476.0 L104.6,477.7 L103.3,479.2 L101.6,480.3 L99.6,480.9 L97.7,481.1 L95.9,481.4 L94.1,481.9 L92.1,482.6 L89.7,483.0 L87.4,482.6 L85.6,481.3 L84.6,479.5 L84.1,477.5 L83.8,475.7 L83.4,474.1 L83.1,472.4 L83.0,470.7 L83.4,469.0 L84.3,467.4 L85.4,465.9 L86.6,464.5 L87.9,462.9 L89.7,461.6 L91.8,461.0 L94.1,461.2 L96.1,462.2 L97.7,463.5 L99.1,464.7 L100.7,465.5 L102.5,466.2 L104.4,467.2 L105.8,468.6 L106.5,470.5 Z" fill="none" stroke="rgb(255,60,45)" stroke-width="2.8" stroke-dasharray="1.8,3.2,2.6,3.6,2.7,3.0,2.7,2.1,1.8,3.9,3.8,1.8,1.0,1.2"/>
<ellipse cx="94.1" cy="472.4" rx="5.5" ry="4.8" fill="#000" opacity="0.55"/>
<circle cx="101.6" cy="470.4" r="1.1" fill="rgb(255,60,45)"/>
<circle cx="92.1" cy="466.7" r="0.8" fill="rgb(255,60,45)"/>
<circle cx="89.5" cy="463.2" r="1.2" fill="rgb(255,60,45)"/>
<circle cx="97.6" cy="463.7" r="0.6" fill="rgb(255,60,45)"/>
<circle cx="85.3" cy="467.8" r="1.2" fill="rgb(255,60,45)"/>
<circle cx="102.1" cy="474.9" r="1.0" fill="rgb(255,60,45)"/>
<circle cx="87.3" cy="471.9" r="1.0" fill="rgb(255,60,45)"/>
<circle cx="104.1" cy="475.8" r="1.4" fill="rgb(255,60,45)"/>
<circle cx="85.0" cy="476.9" r="1.4" fill="rgb(255,60,45)"/>
<circle cx="85.8" cy="466.1" r="1.4" fill="rgb(255,60,45)"/>
<circle cx="99.6" cy="466.6" r="1.2" fill="rgb(255,60,45)"/>
<circle cx="92.4" cy="466.2" r="1.0" fill="rgb(255,60,45)"/>
<path d="M127.5,431.8 L127.3,433.0 L126.6,434.1 L125.6,434.9 L124.7,435.5 L123.9,436.1 L123.2,436.8 L122.4,437.5 L121.4,438.0 L120.3,438.1 L119.2,438.0 L118.1,437.8 L117.0,437.5 L115.9,437.0 L115.0,436.3 L114.5,435.2 L114.4,433.9 L114.7,432.8 L114.9,431.8 L114.9,430.8 L114.7,429.8 L114.7,428.6 L115.1,427.4 L115.8,426.5 L116.9,425.9 L118.1,425.7 L119.2,425.6 L120.3,425.5 L121.4,425.6 L122.4,426.0 L123.3,426.6 L124.0,427.4 L124.6,428.2 L125.4,428.9 L126.3,429.6 L127.1,430.6 Z" fill="rgb(255,32,26)" fill-opacity="0.62" stroke="rgb(255,32,26)" stroke-width="3.9"/>
<path d="M127.5,431.8 L127.3,433.0 L126.6,434.1 L125.6,434.9 L124.7,435.5 L123.9,436.1 L123.2,436.8 L122.4,437.5 L121.4,438.0 L120.3,438.1 L119.2,438.0 L118.1,437.8 L117.0,437.5 L115.9,437.0 L115.0,436.3 L114.5,435.2 L114.4,433.9 L114.7,432.8 L114.9,431.8 L114.9,430.8 L114.7,429.8 L114.7,428.6 L115.1,427.4 L115.8,426.5 L116.9,425.9 L118.1,425.7 L119.2,425.6 L120.3,425.5 L121.4,425.6 L122.4,426.0 L123.3,426.6 L124.0,427.4 L124.6,428.2 L125.4,428.9 L126.3,429.6 L127.1,430.6 Z" fill="none" stroke="rgb(255,60,45)" stroke-width="2.8" stroke-dasharray="3.6,3.9,2.3,2.2,1.9,3.3,2.5,2.3,3.3,1.1,2.4,3.4,2.7,3.6"/>
<ellipse cx="120.3" cy="431.8" rx="2.9" ry="2.9" fill="#000" opacity="0.55"/>
<circle cx="117.9" cy="436.6" r="1.3" fill="rgb(255,60,45)"/>
<circle cx="117.7" cy="435.6" r="0.6" fill="rgb(255,60,45)"/>
<circle cx="117.6" cy="429.7" r="0.7" fill="rgb(255,60,45)"/>
<circle cx="116.2" cy="429.5" r="1.3" fill="rgb(255,60,45)"/>
<circle cx="124.1" cy="434.3" r="1.1" fill="rgb(255,60,45)"/>
<circle cx="119.3" cy="437.3" r="1.0" fill="rgb(255,60,45)"/>
<circle cx="117.7" cy="432.3" r="1.2" fill="rgb(255,60,45)"/>
<circle cx="117.2" cy="436.8" r="1.4" fill="rgb(255,60,45)"/>
<circle cx="125.7" cy="430.5" r="1.1" fill="rgb(255,60,45)"/>
<circle cx="124.6" cy="436.5" r="1.0" fill="rgb(255,60,45)"/>
<circle cx="117.6" cy="431.2" r="0.7" fill="rgb(255,60,45)"/>
<circle cx="121.9" cy="427.4" r="0.8" fill="rgb(255,60,45)"/>
<path d="M101.5,429.5 L100.7,430.1 L100.0,430.6 L99.5,431.1 L99.1,431.6 L98.7,432.2 L97.9,432.8 L96.8,433.2 L95.4,433.3 L94.1,433.3 L92.8,433.1 L91.6,433.0 L90.4,432.7 L89.4,432.3 L88.8,431.7 L88.4,431.1 L88.1,430.6 L87.7,430.1 L87.1,429.5 L86.5,428.8 L86.5,428.1 L87.0,427.5 L88.1,427.0 L89.4,426.7 L90.7,426.6 L91.8,426.4 L92.9,426.2 L94.1,426.1 L95.3,426.1 L96.5,426.2 L97.6,426.5 L98.7,426.8 L99.8,427.1 L100.9,427.5 L101.7,428.1 L101.9,428.8 Z" fill="rgb(255,32,26)" fill-opacity="0.62" stroke="rgb(255,32,26)" stroke-width="3.9"/>
<path d="M101.5,429.5 L100.7,430.1 L100.0,430.6 L99.5,431.1 L99.1,431.6 L98.7,432.2 L97.9,432.8 L96.8,433.2 L95.4,433.3 L94.1,433.3 L92.8,433.1 L91.6,433.0 L90.4,432.7 L89.4,432.3 L88.8,431.7 L88.4,431.1 L88.1,430.6 L87.7,430.1 L87.1,429.5 L86.5,428.8 L86.5,428.1 L87.0,427.5 L88.1,427.0 L89.4,426.7 L90.7,426.6 L91.8,426.4 L92.9,426.2 L94.1,426.1 L95.3,426.1 L96.5,426.2 L97.6,426.5 L98.7,426.8 L99.8,427.1 L100.9,427.5 L101.7,428.1 L101.9,428.8 Z" fill="none" stroke="rgb(255,60,45)" stroke-width="2.8" stroke-dasharray="4.0,1.7,3.1,1.7,2.9,3.4,1.3,3.9,2.3,1.1,1.8,3.5,2.0,2.9"/>
<ellipse cx="94.1" cy="429.5" rx="3.4" ry="1.7" fill="#000" opacity="0.55"/>
<circle cx="89.3" cy="431.0" r="0.7" fill="rgb(255,60,45)"/>
<circle cx="97.3" cy="432.0" r="0.9" fill="rgb(255,60,45)"/>
<circle cx="99.1" cy="432.2" r="1.3" fill="rgb(255,60,45)"/>
<circle cx="93.5" cy="431.8" r="1.1" fill="rgb(255,60,45)"/>
<circle cx="94.3" cy="430.8" r="0.6" fill="rgb(255,60,45)"/>
<circle cx="91.9" cy="427.8" r="0.8" fill="rgb(255,60,45)"/>
<circle cx="94.0" cy="426.5" r="0.7" fill="rgb(255,60,45)"/>
<circle cx="97.8" cy="429.8" r="1.4" fill="rgb(255,60,45)"/>
<circle cx="90.2" cy="430.9" r="0.7" fill="rgb(255,60,45)"/>
<circle cx="97.0" cy="430.0" r="1.2" fill="rgb(255,60,45)"/>
<circle cx="95.8" cy="431.8" r="1.2" fill="rgb(255,60,45)"/>
<circle cx="96.6" cy="429.2" r="1.1" fill="rgb(255,60,45)"/>
<path d="M67.5,478.5 L67.6,479.7 L67.6,481.0 L67.2,482.1 L66.7,483.2 L66.0,484.1 L65.3,485.0 L64.5,485.8 L63.5,486.2 L62.5,486.1 L61.6,485.5 L60.8,484.6 L60.2,483.9 L59.5,483.3 L58.6,482.9 L57.7,482.2 L56.9,481.2 L56.6,479.9 L56.7,478.5 L57.0,477.2 L57.4,476.0 L57.9,474.9 L58.4,473.9 L59.1,473.1 L59.9,472.6 L60.8,472.3 L61.6,472.1 L62.5,471.7 L63.5,471.3 L64.5,471.1 L65.6,471.4 L66.4,472.3 L66.9,473.6 L67.0,475.0 L67.1,476.3 L67.2,477.4 Z" fill="rgb(255,32,26)" fill-opacity="0.62" stroke="rgb(255,32,26)" stroke-width="3.9"/>
<path d="M67.5,478.5 L67.6,479.7 L67.6,481.0 L67.2,482.1 L66.7,483.2 L66.0,484.1 L65.3,485.0 L64.5,485.8 L63.5,486.2 L62.5,486.1 L61.6,485.5 L60.8,484.6 L60.2,483.9 L59.5,483.3 L58.6,482.9 L57.7,482.2 L56.9,481.2 L56.6,479.9 L56.7,478.5 L57.0,477.2 L57.4,476.0 L57.9,474.9 L58.4,473.9 L59.1,473.1 L59.9,472.6 L60.8,472.3 L61.6,472.1 L62.5,471.7 L63.5,471.3 L64.5,471.1 L65.6,471.4 L66.4,472.3 L66.9,473.6 L67.0,475.0 L67.1,476.3 L67.2,477.4 Z" fill="none" stroke="rgb(255,60,45)" stroke-width="2.8" stroke-dasharray="2.7,3.6,2.4,2.1,1.8,1.9,1.1,2.1,2.6,1.1,3.0,3.9,3.5,4.0"/>
<ellipse cx="62.5" cy="478.5" rx="2.5" ry="3.4" fill="#000" opacity="0.55"/>
<circle cx="61.8" cy="475.4" r="0.9" fill="rgb(255,60,45)"/>
<circle cx="61.4" cy="474.2" r="1.3" fill="rgb(255,60,45)"/>
<circle cx="65.6" cy="482.9" r="1.0" fill="rgb(255,60,45)"/>
<circle cx="66.5" cy="475.3" r="0.8" fill="rgb(255,60,45)"/>
<circle cx="64.5" cy="485.5" r="1.2" fill="rgb(255,60,45)"/>
<circle cx="64.6" cy="481.0" r="1.3" fill="rgb(255,60,45)"/>
<circle cx="62.2" cy="475.7" r="0.9" fill="rgb(255,60,45)"/>
<circle cx="61.2" cy="475.3" r="0.7" fill="rgb(255,60,45)"/>
<circle cx="64.0" cy="476.4" r="0.9" fill="rgb(255,60,45)"/>
<circle cx="60.4" cy="473.5" r="1.1" fill="rgb(255,60,45)"/>
<circle cx="63.8" cy="482.6" r="0.8" fill="rgb(255,60,45)"/>
<circle cx="62.0" cy="475.6" r="1.4" fill="rgb(255,60,45)"/>
</g>
</g>
<rect x="127.0" y="428.5" width="58.0" height="57.5" fill="#000" stroke="none" stroke-width="1" rx="0" />
<g clip-path="url(#cp31)">
<g filter="url(#bl2)">
<circle cx="145.2" cy="450.2" r="1.5" fill="#3ce03c"/>
<circle cx="146.6" cy="450.4" r="1.2" fill="#3ce03c" opacity="0.6"/>
<circle cx="145.8" cy="448.3" r="0.9" fill="#3ce03c" opacity="0.6"/>
<circle cx="167.4" cy="450.2" r="1.5" fill="#3ce03c"/>
<circle cx="170.9" cy="454.2" r="0.7" fill="#3ce03c" opacity="0.6"/>
<circle cx="170.9" cy="454.9" r="1.0" fill="#3ce03c" opacity="0.6"/>
<circle cx="155.7" cy="472.4" r="1.5" fill="#3ce03c"/>
<circle cx="156.4" cy="469.4" r="1.0" fill="#3ce03c" opacity="0.6"/>
<circle cx="155.7" cy="473.5" r="0.6" fill="#3ce03c" opacity="0.6"/>
</g>
</g>
<rect x="189.2" y="428.5" width="58.0" height="57.5" fill="#000" stroke="none" stroke-width="1" rx="0" />
<g clip-path="url(#cp32)">
<g filter="url(#bl1b)" opacity="1">
<path d="M216.3,448.9 L215.5,450.9 L214.6,452.6 L213.8,454.3 L213.2,456.2 L212.4,458.5 L211.1,460.6 L209.1,461.9 L206.7,462.2 L204.4,461.6 L202.4,460.5 L200.6,459.4 L198.8,458.6 L197.0,457.7 L195.4,456.5 L194.1,454.8 L193.3,453.0 L192.6,451.0 L192.0,448.9 L191.6,446.6 L191.7,444.3 L192.7,442.1 L194.5,440.6 L196.8,439.9 L199.0,439.5 L200.8,439.1 L202.5,438.3 L204.4,437.3 L206.6,436.5 L208.9,436.6 L211.0,437.5 L212.6,439.1 L214.0,440.8 L215.2,442.7 L216.1,444.6 L216.6,446.8 Z" fill="rgb(255,32,26)" fill-opacity="0.62" stroke="rgb(255,32,26)" stroke-width="3.9"/>
<path d="M216.3,448.9 L215.5,450.9 L214.6,452.6 L213.8,454.3 L213.2,456.2 L212.4,458.5 L211.1,460.6 L209.1,461.9 L206.7,462.2 L204.4,461.6 L202.4,460.5 L200.6,459.4 L198.8,458.6 L197.0,457.7 L195.4,456.5 L194.1,454.8 L193.3,453.0 L192.6,451.0 L192.0,448.9 L191.6,446.6 L191.7,444.3 L192.7,442.1 L194.5,440.6 L196.8,439.9 L199.0,439.5 L200.8,439.1 L202.5,438.3 L204.4,437.3 L206.6,436.5 L208.9,436.6 L211.0,437.5 L212.6,439.1 L214.0,440.8 L215.2,442.7 L216.1,444.6 L216.6,446.8 Z" fill="none" stroke="rgb(255,60,45)" stroke-width="2.8" stroke-dasharray="3.1,2.6,2.3,1.1,2.2,2.9,1.6,2.0,1.6,3.3,3.2,3.5,3.7,3.1"/>
<ellipse cx="204.39999999999998" cy="448.9" rx="5.7" ry="5.7" fill="#000" opacity="0.55"/>
<circle cx="207.4" cy="445.6" r="0.9" fill="rgb(255,60,45)"/>
<circle cx="204.4" cy="455.1" r="0.9" fill="rgb(255,60,45)"/>
<circle cx="193.0" cy="448.2" r="0.9" fill="rgb(255,60,45)"/>
<circle cx="197.2" cy="458.3" r="0.6" fill="rgb(255,60,45)"/>
<circle cx="208.7" cy="449.3" r="1.2" fill="rgb(255,60,45)"/>
<circle cx="205.0" cy="439.6" r="0.8" fill="rgb(255,60,45)"/>
<circle cx="204.0" cy="443.6" r="1.2" fill="rgb(255,60,45)"/>
<circle cx="215.5" cy="448.9" r="0.7" fill="rgb(255,60,45)"/>
<circle cx="202.7" cy="455.3" r="1.3" fill="rgb(255,60,45)"/>
<circle cx="203.9" cy="441.2" r="0.8" fill="rgb(255,60,45)"/>
<circle cx="213.7" cy="453.6" r="0.8" fill="rgb(255,60,45)"/>
<circle cx="198.8" cy="442.0" r="1.0" fill="rgb(255,60,45)"/>
<path d="M242.3,454.1 L243.0,456.8 L242.9,459.6 L241.7,462.0 L240.0,463.8 L238.2,465.2 L236.3,466.4 L234.5,467.4 L232.6,468.0 L230.6,468.0 L228.7,467.3 L226.9,466.5 L225.2,465.7 L223.2,465.0 L221.0,464.0 L219.2,462.2 L218.1,459.7 L218.1,456.8 L218.9,454.1 L220.0,451.8 L220.9,449.7 L221.5,447.6 L222.1,445.3 L223.1,443.1 L224.6,441.4 L226.5,440.3 L228.5,439.6 L230.6,439.2 L232.8,439.0 L234.9,439.4 L236.9,440.7 L238.2,442.9 L239.0,445.5 L239.4,447.8 L240.1,449.9 L241.1,451.8 Z" fill="rgb(255,32,26)" fill-opacity="0.62" stroke="rgb(255,32,26)" stroke-width="3.9"/>
<path d="M242.3,454.1 L243.0,456.8 L242.9,459.6 L241.7,462.0 L240.0,463.8 L238.2,465.2 L236.3,466.4 L234.5,467.4 L232.6,468.0 L230.6,468.0 L228.7,467.3 L226.9,466.5 L225.2,465.7 L223.2,465.0 L221.0,464.0 L219.2,462.2 L218.1,459.7 L218.1,456.8 L218.9,454.1 L220.0,451.8 L220.9,449.7 L221.5,447.6 L222.1,445.3 L223.1,443.1 L224.6,441.4 L226.5,440.3 L228.5,439.6 L230.6,439.2 L232.8,439.0 L234.9,439.4 L236.9,440.7 L238.2,442.9 L239.0,445.5 L239.4,447.8 L240.1,449.9 L241.1,451.8 Z" fill="none" stroke="rgb(255,60,45)" stroke-width="2.8" stroke-dasharray="1.5,2.8,1.0,3.7,1.3,4.0,3.2,3.5,1.5,1.3,4.0,2.2,3.8,1.2"/>
<ellipse cx="230.6" cy="454.1" rx="5.5" ry="6.7" fill="#000" opacity="0.55"/>
<circle cx="221.7" cy="452.2" r="1.2" fill="rgb(255,60,45)"/>
<circle cx="228.5" cy="462.2" r="1.3" fill="rgb(255,60,45)"/>
<circle cx="236.1" cy="453.8" r="0.9" fill="rgb(255,60,45)"/>
<circle cx="231.2" cy="461.0" r="0.9" fill="rgb(255,60,45)"/>
<circle cx="229.8" cy="442.7" r="0.8" fill="rgb(255,60,45)"/>
<circle cx="237.2" cy="464.0" r="1.1" fill="rgb(255,60,45)"/>
<circle cx="236.8" cy="443.9" r="1.2" fill="rgb(255,60,45)"/>
<circle cx="225.9" cy="453.9" r="1.1" fill="rgb(255,60,45)"/>
<circle cx="226.7" cy="446.7" r="0.8" fill="rgb(255,60,45)"/>
<circle cx="220.8" cy="447.1" r="0.9" fill="rgb(255,60,45)"/>
<circle cx="231.9" cy="469.0" r="1.1" fill="rgb(255,60,45)"/>
<circle cx="219.6" cy="451.8" r="0.7" fill="rgb(255,60,45)"/>
<path d="M231.2,472.4 L230.7,474.3 L230.1,476.0 L229.3,477.7 L228.0,479.2 L226.3,480.3 L224.3,480.9 L222.4,481.1 L220.6,481.4 L218.8,481.9 L216.8,482.6 L214.4,483.0 L212.1,482.6 L210.3,481.3 L209.3,479.5 L208.8,477.5 L208.5,475.7 L208.1,474.1 L207.8,472.4 L207.7,470.7 L208.1,469.0 L209.0,467.4 L210.1,465.9 L211.3,464.5 L212.6,462.9 L214.4,461.6 L216.5,461.0 L218.8,461.2 L220.8,462.2 L222.4,463.5 L223.8,464.7 L225.4,465.5 L227.2,466.2 L229.1,467.2 L230.5,468.6 L231.2,470.5 Z" fill="rgb(255,32,26)" fill-opacity="0.62" stroke="rgb(255,32,26)" stroke-width="3.9"/>
<path d="M231.2,472.4 L230.7,474.3 L230.1,476.0 L229.3,477.7 L228.0,479.2 L226.3,480.3 L224.3,480.9 L222.4,481.1 L220.6,481.4 L218.8,481.9 L216.8,482.6 L214.4,483.0 L212.1,482.6 L210.3,481.3 L209.3,479.5 L208.8,477.5 L208.5,475.7 L208.1,474.1 L207.8,472.4 L207.7,470.7 L208.1,469.0 L209.0,467.4 L210.1,465.9 L211.3,464.5 L212.6,462.9 L214.4,461.6 L216.5,461.0 L218.8,461.2 L220.8,462.2 L222.4,463.5 L223.8,464.7 L225.4,465.5 L227.2,466.2 L229.1,467.2 L230.5,468.6 L231.2,470.5 Z" fill="none" stroke="rgb(255,60,45)" stroke-width="2.8" stroke-dasharray="1.8,3.2,2.6,3.6,2.7,3.0,2.7,2.1,1.8,3.9,3.8,1.8,1.0,1.2"/>
<ellipse cx="218.79999999999998" cy="472.4" rx="5.5" ry="4.8" fill="#000" opacity="0.55"/>
<circle cx="226.3" cy="470.4" r="1.1" fill="rgb(255,60,45)"/>
<circle cx="216.8" cy="466.7" r="0.8" fill="rgb(255,60,45)"/>
<circle cx="214.2" cy="463.2" r="1.2" fill="rgb(255,60,45)"/>
<circle cx="222.3" cy="463.7" r="0.6" fill="rgb(255,60,45)"/>
<circle cx="210.0" cy="467.8" r="1.2" fill="rgb(255,60,45)"/>
<circle cx="226.8" cy="474.9" r="1.0" fill="rgb(255,60,45)"/>
<circle cx="212.0" cy="471.9" r="1.0" fill="rgb(255,60,45)"/>
<circle cx="228.8" cy="475.8" r="1.4" fill="rgb(255,60,45)"/>
<circle cx="209.7" cy="476.9" r="1.4" fill="rgb(255,60,45)"/>
<circle cx="210.5" cy="466.1" r="1.4" fill="rgb(255,60,45)"/>
<circle cx="224.3" cy="466.6" r="1.2" fill="rgb(255,60,45)"/>
<circle cx="217.1" cy="466.2" r="1.0" fill="rgb(255,60,45)"/>
<path d="M252.2,431.8 L252.0,433.0 L251.3,434.1 L250.3,434.9 L249.4,435.5 L248.6,436.1 L247.9,436.8 L247.1,437.5 L246.1,438.0 L245.0,438.1 L243.9,438.0 L242.8,437.8 L241.7,437.5 L240.6,437.0 L239.7,436.3 L239.2,435.2 L239.1,433.9 L239.4,432.8 L239.6,431.8 L239.6,430.8 L239.4,429.8 L239.4,428.6 L239.8,427.4 L240.5,426.5 L241.6,425.9 L242.8,425.7 L243.9,425.6 L245.0,425.5 L246.1,425.6 L247.1,426.0 L248.0,426.6 L248.7,427.4 L249.3,428.2 L250.1,428.9 L251.0,429.6 L251.8,430.6 Z" fill="rgb(255,32,26)" fill-opacity="0.62" stroke="rgb(255,32,26)" stroke-width="3.9"/>
<path d="M252.2,431.8 L252.0,433.0 L251.3,434.1 L250.3,434.9 L249.4,435.5 L248.6,436.1 L247.9,436.8 L247.1,437.5 L246.1,438.0 L245.0,438.1 L243.9,438.0 L242.8,437.8 L241.7,437.5 L240.6,437.0 L239.7,436.3 L239.2,435.2 L239.1,433.9 L239.4,432.8 L239.6,431.8 L239.6,430.8 L239.4,429.8 L239.4,428.6 L239.8,427.4 L240.5,426.5 L241.6,425.9 L242.8,425.7 L243.9,425.6 L245.0,425.5 L246.1,425.6 L247.1,426.0 L248.0,426.6 L248.7,427.4 L249.3,428.2 L250.1,428.9 L251.0,429.6 L251.8,430.6 Z" fill="none" stroke="rgb(255,60,45)" stroke-width="2.8" stroke-dasharray="3.6,3.9,2.3,2.2,1.9,3.3,2.5,2.3,3.3,1.1,2.4,3.4,2.7,3.6"/>
<ellipse cx="245.0" cy="431.8" rx="2.9" ry="2.9" fill="#000" opacity="0.55"/>
<circle cx="242.6" cy="436.6" r="1.3" fill="rgb(255,60,45)"/>
<circle cx="242.4" cy="435.6" r="0.6" fill="rgb(255,60,45)"/>
<circle cx="242.3" cy="429.7" r="0.7" fill="rgb(255,60,45)"/>
<circle cx="240.9" cy="429.5" r="1.3" fill="rgb(255,60,45)"/>
<circle cx="248.8" cy="434.3" r="1.1" fill="rgb(255,60,45)"/>
<circle cx="244.0" cy="437.3" r="1.0" fill="rgb(255,60,45)"/>
<circle cx="242.4" cy="432.3" r="1.2" fill="rgb(255,60,45)"/>
<circle cx="241.9" cy="436.8" r="1.4" fill="rgb(255,60,45)"/>
<circle cx="250.4" cy="430.5" r="1.1" fill="rgb(255,60,45)"/>
<circle cx="249.3" cy="436.5" r="1.0" fill="rgb(255,60,45)"/>
<circle cx="242.3" cy="431.2" r="0.7" fill="rgb(255,60,45)"/>
<circle cx="246.6" cy="427.4" r="0.8" fill="rgb(255,60,45)"/>
<path d="M226.2,429.5 L225.4,430.1 L224.7,430.6 L224.2,431.1 L223.8,431.6 L223.4,432.2 L222.6,432.8 L221.5,433.2 L220.1,433.3 L218.8,433.3 L217.5,433.1 L216.3,433.0 L215.1,432.7 L214.1,432.3 L213.5,431.7 L213.1,431.1 L212.8,430.6 L212.4,430.1 L211.8,429.5 L211.2,428.8 L211.2,428.1 L211.7,427.5 L212.8,427.0 L214.1,426.7 L215.4,426.6 L216.5,426.4 L217.6,426.2 L218.8,426.1 L220.0,426.1 L221.2,426.2 L222.3,426.5 L223.4,426.8 L224.5,427.1 L225.6,427.5 L226.4,428.1 L226.6,428.8 Z" fill="rgb(255,32,26)" fill-opacity="0.62" stroke="rgb(255,32,26)" stroke-width="3.9"/>
<path d="M226.2,429.5 L225.4,430.1 L224.7,430.6 L224.2,431.1 L223.8,431.6 L223.4,432.2 L222.6,432.8 L221.5,433.2 L220.1,433.3 L218.8,433.3 L217.5,433.1 L216.3,433.0 L215.1,432.7 L214.1,432.3 L213.5,431.7 L213.1,431.1 L212.8,430.6 L212.4,430.1 L211.8,429.5 L211.2,428.8 L211.2,428.1 L211.7,427.5 L212.8,427.0 L214.1,426.7 L215.4,426.6 L216.5,426.4 L217.6,426.2 L218.8,426.1 L220.0,426.1 L221.2,426.2 L222.3,426.5 L223.4,426.8 L224.5,427.1 L225.6,427.5 L226.4,428.1 L226.6,428.8 Z" fill="none" stroke="rgb(255,60,45)" stroke-width="2.8" stroke-dasharray="4.0,1.7,3.1,1.7,2.9,3.4,1.3,3.9,2.3,1.1,1.8,3.5,2.0,2.9"/>
<ellipse cx="218.79999999999998" cy="429.5" rx="3.4" ry="1.7" fill="#000" opacity="0.55"/>
<circle cx="214.0" cy="431.0" r="0.7" fill="rgb(255,60,45)"/>
<circle cx="222.0" cy="432.0" r="0.9" fill="rgb(255,60,45)"/>
<circle cx="223.8" cy="432.2" r="1.3" fill="rgb(255,60,45)"/>
<circle cx="218.2" cy="431.8" r="1.1" fill="rgb(255,60,45)"/>
<circle cx="219.0" cy="430.8" r="0.6" fill="rgb(255,60,45)"/>
<circle cx="216.6" cy="427.8" r="0.8" fill="rgb(255,60,45)"/>
<circle cx="218.7" cy="426.5" r="0.7" fill="rgb(255,60,45)"/>
<circle cx="222.5" cy="429.8" r="1.4" fill="rgb(255,60,45)"/>
<circle cx="214.9" cy="430.9" r="0.7" fill="rgb(255,60,45)"/>
<circle cx="221.7" cy="430.0" r="1.2" fill="rgb(255,60,45)"/>
<circle cx="220.5" cy="431.8" r="1.2" fill="rgb(255,60,45)"/>
<circle cx="221.3" cy="429.2" r="1.1" fill="rgb(255,60,45)"/>
<path d="M192.2,478.5 L192.3,479.7 L192.3,481.0 L191.9,482.1 L191.4,483.2 L190.7,484.1 L190.0,485.0 L189.2,485.8 L188.2,486.2 L187.2,486.1 L186.3,485.5 L185.5,484.6 L184.9,483.9 L184.2,483.3 L183.3,482.9 L182.4,482.2 L181.6,481.2 L181.3,479.9 L181.4,478.5 L181.7,477.2 L182.1,476.0 L182.6,474.9 L183.1,473.9 L183.8,473.1 L184.6,472.6 L185.5,472.3 L186.3,472.1 L187.2,471.7 L188.2,471.3 L189.2,471.1 L190.3,471.4 L191.1,472.3 L191.6,473.6 L191.7,475.0 L191.8,476.3 L191.9,477.4 Z" fill="rgb(255,32,26)" fill-opacity="0.62" stroke="rgb(255,32,26)" stroke-width="3.9"/>
<path d="M192.2,478.5 L192.3,479.7 L192.3,481.0 L191.9,482.1 L191.4,483.2 L190.7,484.1 L190.0,485.0 L189.2,485.8 L188.2,486.2 L187.2,486.1 L186.3,485.5 L185.5,484.6 L184.9,483.9 L184.2,483.3 L183.3,482.9 L182.4,482.2 L181.6,481.2 L181.3,479.9 L181.4,478.5 L181.7,477.2 L182.1,476.0 L182.6,474.9 L183.1,473.9 L183.8,473.1 L184.6,472.6 L185.5,472.3 L186.3,472.1 L187.2,471.7 L188.2,471.3 L189.2,471.1 L190.3,471.4 L191.1,472.3 L191.6,473.6 L191.7,475.0 L191.8,476.3 L191.9,477.4 Z" fill="none" stroke="rgb(255,60,45)" stroke-width="2.8" stroke-dasharray="2.7,3.6,2.4,2.1,1.8,1.9,1.1,2.1,2.6,1.1,3.0,3.9,3.5,4.0"/>
<ellipse cx="187.2" cy="478.5" rx="2.5" ry="3.4" fill="#000" opacity="0.55"/>
<circle cx="186.5" cy="475.4" r="0.9" fill="rgb(255,60,45)"/>
<circle cx="186.1" cy="474.2" r="1.3" fill="rgb(255,60,45)"/>
<circle cx="190.3" cy="482.9" r="1.0" fill="rgb(255,60,45)"/>
<circle cx="191.2" cy="475.3" r="0.8" fill="rgb(255,60,45)"/>
<circle cx="189.2" cy="485.5" r="1.2" fill="rgb(255,60,45)"/>
<circle cx="189.3" cy="481.0" r="1.3" fill="rgb(255,60,45)"/>
<circle cx="186.9" cy="475.7" r="0.9" fill="rgb(255,60,45)"/>
<circle cx="185.9" cy="475.3" r="0.7" fill="rgb(255,60,45)"/>
<circle cx="188.7" cy="476.4" r="0.9" fill="rgb(255,60,45)"/>
<circle cx="185.1" cy="473.5" r="1.1" fill="rgb(255,60,45)"/>
<circle cx="188.5" cy="482.6" r="0.8" fill="rgb(255,60,45)"/>
<circle cx="186.7" cy="475.6" r="1.4" fill="rgb(255,60,45)"/>
</g>
<g filter="url(#bl2)">
<circle cx="207.39999999999998" cy="450.2" r="1.5" fill="#c8e830"/>
<circle cx="212.1" cy="450.4" r="0.9" fill="#c8e830" opacity="0.6"/>
<circle cx="210.4" cy="450.8" r="0.9" fill="#c8e830" opacity="0.6"/>
<circle cx="229.6" cy="450.2" r="1.5" fill="#c8e830"/>
<circle cx="231.5" cy="445.9" r="1.0" fill="#c8e830" opacity="0.6"/>
<circle cx="228.7" cy="454.8" r="1.2" fill="#c8e830" opacity="0.6"/>
<circle cx="217.89999999999998" cy="472.4" r="1.5" fill="#c8e830"/>
<circle cx="215.6" cy="472.1" r="0.7" fill="#c8e830" opacity="0.6"/>
<circle cx="217.2" cy="475.6" r="1.2" fill="#c8e830" opacity="0.6"/>
</g>
</g>
<rect x="251.0" y="428.5" width="58.0" height="57.5" fill="#aaaaaa" stroke="none" stroke-width="1" rx="0" />
<g clip-path="url(#cp33)">
<rect x="251.0" y="428.5" width="58" height="57.5" filter="url(#bfN)" opacity="0.4"/>
<g filter="url(#bl1)" opacity="0.85">
<path d="M280.8,448.9 L282.3,451.7 L282.4,454.8 L280.8,457.3 L278.2,459.0 L275.3,459.8 L272.8,460.3 L270.6,461.1 L268.5,462.0 L266.2,462.7 L263.8,462.7 L261.4,462.0 L259.2,461.1 L256.8,460.1 L254.2,458.9 L251.9,457.2 L250.4,454.6 L250.5,451.7 L251.8,448.9 L253.7,446.7 L255.1,444.9 L255.7,442.8 L256.0,440.3 L256.7,437.5 L258.3,435.2 L260.7,433.8 L263.5,433.5 L266.2,433.7 L268.8,434.1 L271.3,434.8 L273.7,436.0 L275.4,437.9 L276.5,440.3 L277.0,442.7 L277.7,444.7 L279.0,446.6 Z" fill="#c4c4c4" fill-opacity="0.35" stroke="#505050" stroke-width="1.5" stroke-dasharray="1.8,5.0,4.8,2.0,3.1,2.6,2.6,4.2,4.3,2.0"/>
<path d="M305.0,454.1 L304.1,456.6 L303.8,459.1 L303.6,462.0 L303.0,464.9 L301.6,467.4 L299.6,469.2 L297.3,470.5 L294.9,471.6 L292.4,472.6 L289.7,472.8 L287.1,471.7 L285.2,469.2 L284.1,466.1 L283.5,463.2 L282.5,461.0 L280.9,459.2 L278.7,457.0 L277.0,454.1 L276.5,450.7 L277.5,447.5 L279.4,445.0 L281.5,443.0 L283.6,441.3 L285.6,439.7 L287.7,438.5 L290.1,438.2 L292.4,438.6 L294.5,439.3 L296.7,439.7 L299.2,439.7 L302.1,440.0 L304.9,441.3 L306.8,444.0 L307.2,447.6 L306.3,451.1 Z" fill="#c4c4c4" fill-opacity="0.35" stroke="#505050" stroke-width="1.5" stroke-dasharray="3.4,1.5,2.6,3.0,4.7,4.3,3.7,2.1,4.8,1.9"/>
<path d="M296.9,472.4 L296.1,474.8 L294.1,476.8 L291.6,478.1 L289.4,479.0 L288.0,480.3 L286.9,482.1 L285.4,484.1 L283.2,485.6 L280.6,486.2 L278.0,485.8 L275.6,484.8 L273.3,483.6 L271.2,482.4 L269.5,480.8 L268.4,478.7 L268.2,476.4 L268.6,474.3 L268.9,472.4 L268.6,470.5 L267.8,468.2 L267.3,465.6 L268.0,463.0 L270.0,461.1 L272.9,460.4 L275.8,460.6 L278.4,461.0 L280.6,461.2 L282.8,461.1 L285.1,461.3 L287.3,462.0 L289.2,463.2 L290.9,464.7 L292.6,466.2 L294.5,467.9 L296.2,470.0 Z" fill="#c4c4c4" fill-opacity="0.35" stroke="#505050" stroke-width="1.5" stroke-dasharray="3.4,4.2,3.8,4.3,3.8,3.6,2.0,4.8,5.0,3.9"/>
<path d="M314.4,431.8 L315.2,433.3 L315.5,435.0 L315.0,436.6 L313.7,437.6 L312.1,438.1 L310.5,438.3 L309.2,438.5 L308.0,438.8 L306.8,439.3 L305.5,439.4 L304.1,439.1 L302.9,438.6 L301.7,437.9 L300.4,437.1 L299.1,436.2 L298.2,434.9 L297.9,433.4 L298.4,431.8 L299.5,430.5 L300.5,429.5 L301.2,428.6 L301.5,427.3 L301.8,425.8 L302.5,424.4 L303.8,423.4 L305.3,423.1 L306.8,423.3 L308.2,423.7 L309.6,424.1 L310.9,424.7 L312.0,425.6 L312.7,426.9 L313.0,428.2 L313.2,429.5 L313.6,430.6 Z" fill="#c4c4c4" fill-opacity="0.35" stroke="#505050" stroke-width="1.5" stroke-dasharray="4.5,4.0,4.2,3.8,1.5,4.3,2.4,3.6,4.6,3.0"/>
<path d="M290.5,429.5 L289.7,430.4 L288.9,431.2 L288.2,431.9 L287.3,432.6 L286.2,433.2 L284.8,433.5 L283.3,433.7 L282.0,433.9 L280.6,434.2 L279.0,434.7 L277.1,434.9 L275.2,434.7 L273.9,433.9 L273.4,432.9 L273.3,431.8 L273.4,431.0 L273.0,430.2 L272.5,429.5 L272.0,428.7 L272.0,427.8 L272.6,426.9 L273.5,426.2 L274.6,425.5 L275.8,424.9 L277.2,424.3 L278.9,424.0 L280.6,424.2 L282.1,424.8 L283.2,425.5 L284.2,426.0 L285.5,426.2 L287.2,426.4 L288.9,426.8 L290.3,427.5 L290.8,428.5 Z" fill="#c4c4c4" fill-opacity="0.35" stroke="#505050" stroke-width="1.5" stroke-dasharray="4.5,4.4,5.0,4.6,4.2,2.9,1.7,4.7,1.2,4.8"/>
<path d="M255.9,478.5 L255.4,480.0 L254.8,481.2 L254.2,482.4 L253.9,483.8 L253.5,485.5 L252.9,487.2 L251.8,488.5 L250.4,488.9 L249.0,488.3 L247.8,487.1 L246.9,486.0 L246.0,485.3 L244.9,484.7 L243.9,484.0 L243.0,482.9 L242.4,481.6 L242.1,480.1 L241.9,478.5 L241.6,476.8 L241.6,475.1 L242.1,473.4 L243.2,472.2 L244.5,471.7 L245.9,471.7 L247.1,471.6 L248.0,471.2 L249.0,470.3 L250.3,469.4 L251.7,469.1 L253.0,469.7 L253.9,470.9 L254.6,472.4 L255.1,473.9 L255.6,475.4 L255.9,476.9 Z" fill="#c4c4c4" fill-opacity="0.35" stroke="#505050" stroke-width="1.5" stroke-dasharray="1.7,3.9,1.3,2.7,1.4,1.5,2.0,3.6,1.1,4.4"/>
<circle cx="287.0" cy="444.2" r="1.3" fill="#333"/>
<circle cx="256.4" cy="443.9" r="1.1" fill="#333"/>
<circle cx="299.1" cy="466.3" r="0.6" fill="#333"/>
<circle cx="304.8" cy="438.7" r="0.8" fill="#333"/>
<circle cx="284.2" cy="434.2" r="1.0" fill="#333"/>
<circle cx="264.4" cy="454.4" r="0.9" fill="#333"/>
<circle cx="275.7" cy="448.5" r="1.1" fill="#333"/>
<circle cx="288.5" cy="452.8" r="1.1" fill="#333"/>
<circle cx="269.0" cy="451.6" r="0.7" fill="#333"/>
<circle cx="277.7" cy="457.2" r="0.8" fill="#333"/>
<circle cx="270.1" cy="460.0" r="1.1" fill="#333"/>
<circle cx="287.1" cy="444.1" r="1.4" fill="#333"/>
<circle cx="261.0" cy="479.2" r="0.9" fill="#333"/>
<circle cx="267.6" cy="448.3" r="1.5" fill="#333"/>
<ellipse cx="262.0" cy="461.5" rx="5" ry="4" fill="#444"/>
<ellipse cx="283.0" cy="430.0" rx="5" ry="2" fill="#333"/>
</g>
</g>
<rect x="313.0" y="428.5" width="58.0" height="57.5" fill="#ababab" stroke="none" stroke-width="1" rx="0" />
<g clip-path="url(#cp34)">
<rect x="313.0" y="428.5" width="58" height="57.5" filter="url(#bfN)" opacity="0.4"/>
<g filter="url(#bl1)">
<ellipse cx="328.2" cy="448.9" rx="13.5" ry="13.5" fill="#f4a0a0" fill-opacity="0.40" stroke="#f06060" stroke-opacity="0.50" stroke-width="2.2" transform="rotate(0 328.2 448.9)"/>
<ellipse cx="354.4" cy="454.1" rx="13" ry="16" fill="#f4a0a0" fill-opacity="0.40" stroke="#f06060" stroke-opacity="0.50" stroke-width="2.2" transform="rotate(0 354.4 454.1)"/>
<ellipse cx="342.6" cy="472.4" rx="13" ry="11.5" fill="#f4a0a0" fill-opacity="0.40" stroke="#f06060" stroke-opacity="0.50" stroke-width="2.2" transform="rotate(0 342.6 472.4)"/>
<ellipse cx="368.8" cy="431.8" rx="7" ry="7" fill="#f4a0a0" fill-opacity="0.40" stroke="#f06060" stroke-opacity="0.50" stroke-width="2.2" transform="rotate(0 368.8 431.8)"/>
<ellipse cx="342.6" cy="429.5" rx="8" ry="4" fill="#f4a0a0" fill-opacity="0.40" stroke="#f06060" stroke-opacity="0.50" stroke-width="2.2" transform="rotate(0 342.6 429.5)"/>
<ellipse cx="311.0" cy="478.5" rx="6" ry="8" fill="#f4a0a0" fill-opacity="0.40" stroke="#f06060" stroke-opacity="0.50" stroke-width="2.2" transform="rotate(0 311.0 478.5)"/>
<circle cx="331.2" cy="450.2" r="2" fill="#d8f060" opacity="0.85"/>
<circle cx="353.4" cy="450.2" r="2" fill="#d8f060" opacity="0.85"/>
<circle cx="341.7" cy="472.4" r="2" fill="#d8f060" opacity="0.85"/>
<ellipse cx="324.0" cy="461.5" rx="5" ry="4" fill="#555"/>
</g>
</g>
<rect x="352.0" y="480.8" width="12.0" height="2.0" fill="#111" stroke="none" stroke-width="1" rx="0" />
<text x="20.50" y="243.20" font-size="12.5" font-weight="bold" fill="#222" stroke="#222" stroke-width="0.27" font-family="'Liberation Sans',Arial,sans-serif" textLength="18.80" lengthAdjust="spacingAndGlyphs">(a)</text>
<text x="47.20" y="241.60" font-size="12.5" font-weight="bold" fill="#222" stroke="#222" stroke-width="0.27" font-family="'Liberation Sans',Arial,sans-serif" textLength="73.40" lengthAdjust="spacingAndGlyphs">Doxorubicin</text>
<text x="123.70" y="241.40" font-size="12.5" font-weight="bold" fill="#222" stroke="#222" stroke-width="0.27" font-family="'Liberation Sans',Arial,sans-serif" textLength="67.30" lengthAdjust="spacingAndGlyphs">Lysotracke</text>
<text x="191.30" y="241.40" font-size="12.5" font-weight="bold" fill="#222" stroke="#222" stroke-width="0.27" font-family="'Liberation Sans',Arial,sans-serif" textLength="17.00" lengthAdjust="spacingAndGlyphs">DF</text>
<text x="213.10" y="241.40" font-size="12.5" font-weight="bold" fill="#222" stroke="#222" stroke-width="0.27" font-family="'Liberation Sans',Arial,sans-serif" textLength="36.70" lengthAdjust="spacingAndGlyphs">Merge</text>
<text x="272.40" y="241.20" font-size="12.5" font-weight="bold" fill="#222" stroke="#222" stroke-width="0.27" font-family="'Liberation Sans',Arial,sans-serif" textLength="16.90" lengthAdjust="spacingAndGlyphs">BF</text>
<text x="321.70" y="241.20" font-size="12.5" font-weight="bold" fill="#222" stroke="#222" stroke-width="0.27" font-family="'Liberation Sans',Arial,sans-serif" textLength="37.40" lengthAdjust="spacingAndGlyphs">Merge</text>
<text x="5.33" y="270.40" font-size="11.8" font-weight="bold" fill="#222" stroke="#222" stroke-width="0.26" font-family="'Liberation Sans',Arial,sans-serif" textLength="56.94" lengthAdjust="spacingAndGlyphs">Free DOX</text>
<text x="21.73" y="284.40" font-size="11.8" font-weight="bold" fill="#222" stroke="#222" stroke-width="0.26" font-family="'Liberation Sans',Arial,sans-serif" textLength="15.94" lengthAdjust="spacingAndGlyphs">1h</text>
<text x="6.33" y="330.90" font-size="11.8" font-weight="bold" fill="#222" stroke="#222" stroke-width="0.26" font-family="'Liberation Sans',Arial,sans-serif" textLength="57.34" lengthAdjust="spacingAndGlyphs">Free DOX</text>
<text x="22.73" y="345.90" font-size="11.8" font-weight="bold" fill="#222" stroke="#222" stroke-width="0.26" font-family="'Liberation Sans',Arial,sans-serif" textLength="14.94" lengthAdjust="spacingAndGlyphs">4h</text>
<text x="14.93" y="390.40" font-size="11.8" font-weight="normal" fill="#222" font-family="'Liberation Sans',Arial,sans-serif" textLength="19.34" lengthAdjust="spacingAndGlyphs">ZD</text>
<text x="36.73" y="390.40" font-size="11.8" font-weight="bold" fill="#222" stroke="#222" stroke-width="0.26" font-family="'Liberation Sans',Arial,sans-serif" textLength="24.04" lengthAdjust="spacingAndGlyphs">NPs</text>
<text x="25.13" y="405.90" font-size="11.8" font-weight="bold" fill="#222" stroke="#222" stroke-width="0.26" font-family="'Liberation Sans',Arial,sans-serif" textLength="14.94" lengthAdjust="spacingAndGlyphs">1h</text>
<text x="14.93" y="446.50" font-size="11.8" font-weight="normal" fill="#222" font-family="'Liberation Sans',Arial,sans-serif" textLength="19.34" lengthAdjust="spacingAndGlyphs">ZD</text>
<text x="36.73" y="446.50" font-size="11.8" font-weight="bold" fill="#222" stroke="#222" stroke-width="0.26" font-family="'Liberation Sans',Arial,sans-serif" textLength="24.54" lengthAdjust="spacingAndGlyphs">NPs</text>
<text x="25.13" y="461.00" font-size="11.8" font-weight="bold" fill="#222" stroke="#222" stroke-width="0.26" font-family="'Liberation Sans',Arial,sans-serif" textLength="14.94" lengthAdjust="spacingAndGlyphs">4h</text>
<clipPath id="chb"><rect x="420" y="213.5" width="112.6" height="103.5"/></clipPath>
<clipPath id="chc"><rect x="587" y="213.5" width="112" height="103.5"/></clipPath>
<rect x="420" y="213.5" width="112.6" height="103.1" fill="none" stroke="#c4c4c4" stroke-width="0.9"/>
<text x="399.02" y="317.60" font-size="9.6" font-weight="bold" fill="#222" stroke="#222" stroke-width="0.21" font-family="'Liberation Sans',Arial,sans-serif" textLength="5.64" lengthAdjust="spacingAndGlyphs">0</text>
<text x="399.02" y="303.87" font-size="9.6" font-weight="bold" fill="#222" stroke="#222" stroke-width="0.21" font-family="'Liberation Sans',Arial,sans-serif" textLength="11.11" lengthAdjust="spacingAndGlyphs">50</text>
<text x="399.02" y="290.14" font-size="9.6" font-weight="bold" fill="#222" stroke="#222" stroke-width="0.21" font-family="'Liberation Sans',Arial,sans-serif" textLength="16.58" lengthAdjust="spacingAndGlyphs">100</text>
<text x="399.02" y="276.41" font-size="9.6" font-weight="bold" fill="#222" stroke="#222" stroke-width="0.21" font-family="'Liberation Sans',Arial,sans-serif" textLength="16.58" lengthAdjust="spacingAndGlyphs">150</text>
<text x="399.02" y="262.69" font-size="9.6" font-weight="bold" fill="#222" stroke="#222" stroke-width="0.21" font-family="'Liberation Sans',Arial,sans-serif" textLength="16.58" lengthAdjust="spacingAndGlyphs">200</text>
<text x="399.02" y="248.96" font-size="9.6" font-weight="bold" fill="#222" stroke="#222" stroke-width="0.21" font-family="'Liberation Sans',Arial,sans-serif" textLength="16.58" lengthAdjust="spacingAndGlyphs">250</text>
<text x="399.02" y="235.23" font-size="9.6" font-weight="bold" fill="#222" stroke="#222" stroke-width="0.21" font-family="'Liberation Sans',Arial,sans-serif" textLength="16.58" lengthAdjust="spacingAndGlyphs">300</text>
<text x="399.02" y="221.50" font-size="9.6" font-weight="bold" fill="#222" stroke="#222" stroke-width="0.21" font-family="'Liberation Sans',Arial,sans-serif" textLength="16.58" lengthAdjust="spacingAndGlyphs">350</text>
<text x="415.2" y="331.4" font-size="9.6" font-weight="bold" fill="#222" font-family="'Liberation Sans',Arial,sans-serif" textLength="10.6" lengthAdjust="spacingAndGlyphs">10</text>
<text x="426.4" y="327.4" font-size="6.3" font-weight="bold" fill="#222" font-family="'Liberation Sans',Arial,sans-serif">2</text>
<text x="439.3" y="331.4" font-size="9.6" font-weight="bold" fill="#222" font-family="'Liberation Sans',Arial,sans-serif" textLength="10.6" lengthAdjust="spacingAndGlyphs">10</text>
<text x="450.5" y="327.4" font-size="6.3" font-weight="bold" fill="#222" font-family="'Liberation Sans',Arial,sans-serif">3</text>
<text x="462.5" y="331.4" font-size="9.6" font-weight="bold" fill="#222" font-family="'Liberation Sans',Arial,sans-serif" textLength="10.6" lengthAdjust="spacingAndGlyphs">10</text>
<text x="473.7" y="327.4" font-size="6.3" font-weight="bold" fill="#222" font-family="'Liberation Sans',Arial,sans-serif">4</text>
<text x="484.7" y="331.4" font-size="9.6" font-weight="bold" fill="#222" font-family="'Liberation Sans',Arial,sans-serif" textLength="10.6" lengthAdjust="spacingAndGlyphs">10</text>
<text x="495.9" y="327.4" font-size="6.3" font-weight="bold" fill="#222" font-family="'Liberation Sans',Arial,sans-serif">5</text>
<text x="506.9" y="331.4" font-size="9.6" font-weight="bold" fill="#222" font-family="'Liberation Sans',Arial,sans-serif" textLength="10.6" lengthAdjust="spacingAndGlyphs">10</text>
<text x="518.1" y="327.4" font-size="6.3" font-weight="bold" fill="#222" font-family="'Liberation Sans',Arial,sans-serif">6</text>
<text x="412.32" y="342.00" font-size="9.4" font-weight="bold" fill="#222" stroke="#222" stroke-width="0.21" font-family="'Liberation Sans',Arial,sans-serif" textLength="116.65" lengthAdjust="spacingAndGlyphs">Fluorescence Intensity</text>
<text x="0" y="0" transform="translate(395.70,286.81) rotate(-90)" font-size="10.2" font-weight="bold" fill="#222" stroke="#222" stroke-width="0.22" font-family="'Liberation Sans',Arial,sans-serif" textLength="36.92" lengthAdjust="spacingAndGlyphs">Counts</text>
<text x="376.28" y="223.90" font-size="13" font-weight="bold" fill="#222" stroke="#222" stroke-width="0.29" font-family="'Liberation Sans',Arial,sans-serif" textLength="18.84" lengthAdjust="spacingAndGlyphs">(b)</text>
<text x="423.58" y="226.30" font-size="10.5" font-weight="bold" fill="#222" stroke="#222" stroke-width="0.23" font-family="'Liberation Sans',Arial,sans-serif" textLength="13.44" lengthAdjust="spacingAndGlyphs">1h</text>
<line x1="489.2" y1="219.8" x2="503.2" y2="219.8" stroke="#000" stroke-width="2.3" />
<text x="507.15" y="223.50" font-size="8.8" font-weight="bold" fill="#2a2a35" stroke="#2a2a35" stroke-width="0.19" font-family="'Liberation Sans',Arial,sans-serif" textLength="32.10" lengthAdjust="spacingAndGlyphs">Control</text>
<line x1="489.2" y1="230.3" x2="503.2" y2="230.3" stroke="#3ab0f0" stroke-width="2.3" />
<text x="507.15" y="233.60" font-size="8.8" font-weight="bold" fill="#2a2a35" stroke="#2a2a35" stroke-width="0.19" font-family="'Liberation Sans',Arial,sans-serif" textLength="40.20" lengthAdjust="spacingAndGlyphs">Free DOX</text>
<line x1="489.2" y1="241.4" x2="503.2" y2="241.4" stroke="#f01818" stroke-width="2.3" />
<text x="507.15" y="244.70" font-size="8.8" font-weight="bold" fill="#2a2a35" stroke="#2a2a35" stroke-width="0.19" font-family="'Liberation Sans',Arial,sans-serif" textLength="31.60" lengthAdjust="spacingAndGlyphs">ZD NPs</text>
<g clip-path="url(#chb)">
<polyline points="420.0,307.8 420.6,306.2 421.2,305.0 421.8,303.3 422.4,303.4 423.0,301.5 423.6,305.0 424.2,302.0 424.8,298.7 425.4,299.3 426.0,297.3 426.6,300.4 427.2,297.9 427.8,298.2 428.4,296.1 429.0,295.3 429.6,297.5 430.2,295.9 430.8,295.1 431.4,291.5 432.0,291.9 432.6,294.5 433.2,291.1 433.8,294.1 434.4,291.6 435.0,293.9 435.6,294.4 436.2,290.1 436.8,293.6 437.4,294.1 438.0,291.1 438.6,292.6 439.2,296.7 439.8,294.8 440.4,298.4 441.0,299.2 441.6,303.2 442.2,301.1 442.8,303.9 443.4,304.0 444.0,305.8 444.6,310.0 445.2,310.8 445.8,312.8 446.4,313.8 448.0,316.1 465.0,316.1" fill="none" stroke="#111" stroke-width="1.6"/>
<polyline points="445.0,316.1 442.1,316.1 442.6,316.0 443.1,316.0 443.6,316.0 444.1,315.9 444.6,315.8 445.1,315.6 445.6,315.4 446.1,315.0 446.6,314.5 447.1,313.9 447.6,313.0 448.1,311.9 448.6,310.3 449.1,308.4 449.6,306.0 450.1,303.0 450.6,299.4 451.1,295.2 451.6,290.3 452.1,284.7 452.6,278.5 453.1,271.8 453.6,264.8 454.1,257.5 454.6,250.2 455.1,243.1 455.6,236.6 456.1,230.8 456.6,226.0 457.1,222.4 457.6,220.2 458.1,219.4 458.6,220.2 459.1,222.4 459.6,226.0 460.1,230.8 460.6,236.6 461.1,243.1 461.6,250.2 462.1,257.5 462.6,264.8 463.1,271.8 463.6,278.5 464.1,284.7 464.6,290.3 465.1,295.2 465.6,299.4 466.1,303.0 466.6,306.0 467.1,308.4 467.6,310.3 468.1,311.9 468.6,313.0 469.1,313.9 469.6,314.5 470.1,315.0 470.6,315.4 471.1,315.6 471.6,315.8 472.1,315.9 472.6,316.0 473.1,316.0 473.6,316.0 474.1,316.1 488.1,316.1" fill="none" stroke="#2f90e0" stroke-width="1.5"/>
<polyline points="420.0,316.4 466.9,316.1 467.4,316.1 467.9,316.1 468.4,316.0 468.9,316.0 469.4,315.9 469.9,315.8 470.4,315.6 470.9,315.4 471.4,315.0 471.9,314.5 472.4,313.8 472.9,312.8 473.4,311.5 473.9,309.8 474.4,307.5 474.9,304.7 475.4,301.2 475.9,297.0 476.4,291.9 476.9,286.1 477.4,279.5 477.9,272.2 478.4,264.3 478.9,256.1 479.4,247.8 479.9,239.7 480.4,232.1 480.9,225.2 481.4,219.6 481.9,215.3 482.4,212.7 482.9,211.8 483.4,212.7 483.9,215.3 484.4,219.6 484.9,225.2 485.4,232.1 485.9,239.7 486.4,247.8 486.9,256.1 487.4,264.3 487.9,272.2 488.4,279.5 488.9,286.1 489.4,291.9 489.9,297.0 490.4,301.2 490.9,304.7 491.4,307.5 491.9,309.8 492.4,311.5 492.9,312.8 493.4,313.8 493.9,314.5 494.4,315.0 494.9,315.4 495.4,315.6 495.9,315.8 496.4,315.9 496.9,316.0 497.4,316.0 497.9,316.1 498.4,316.1 498.9,316.1 532.6,316.4" fill="none" stroke="#f22" stroke-width="1.5"/>
</g>
<rect x="587" y="213.5" width="112.0" height="103.1" fill="none" stroke="#c4c4c4" stroke-width="0.9"/>
<text x="563.62" y="319.50" font-size="9.6" font-weight="bold" fill="#222" stroke="#222" stroke-width="0.21" font-family="'Liberation Sans',Arial,sans-serif" textLength="5.64" lengthAdjust="spacingAndGlyphs">0</text>
<text x="563.62" y="305.86" font-size="9.6" font-weight="bold" fill="#222" stroke="#222" stroke-width="0.21" font-family="'Liberation Sans',Arial,sans-serif" textLength="11.11" lengthAdjust="spacingAndGlyphs">50</text>
<text x="563.62" y="292.21" font-size="9.6" font-weight="bold" fill="#222" stroke="#222" stroke-width="0.21" font-family="'Liberation Sans',Arial,sans-serif" textLength="16.58" lengthAdjust="spacingAndGlyphs">100</text>
<text x="563.62" y="278.57" font-size="9.6" font-weight="bold" fill="#222" stroke="#222" stroke-width="0.21" font-family="'Liberation Sans',Arial,sans-serif" textLength="16.58" lengthAdjust="spacingAndGlyphs">150</text>
<text x="563.62" y="264.93" font-size="9.6" font-weight="bold" fill="#222" stroke="#222" stroke-width="0.21" font-family="'Liberation Sans',Arial,sans-serif" textLength="16.58" lengthAdjust="spacingAndGlyphs">200</text>
<text x="563.62" y="251.29" font-size="9.6" font-weight="bold" fill="#222" stroke="#222" stroke-width="0.21" font-family="'Liberation Sans',Arial,sans-serif" textLength="16.58" lengthAdjust="spacingAndGlyphs">250</text>
<text x="563.62" y="237.64" font-size="9.6" font-weight="bold" fill="#222" stroke="#222" stroke-width="0.21" font-family="'Liberation Sans',Arial,sans-serif" textLength="16.58" lengthAdjust="spacingAndGlyphs">300</text>
<text x="563.62" y="224.00" font-size="9.6" font-weight="bold" fill="#222" stroke="#222" stroke-width="0.21" font-family="'Liberation Sans',Arial,sans-serif" textLength="16.58" lengthAdjust="spacingAndGlyphs">350</text>
<text x="582.0" y="331.4" font-size="9.6" font-weight="bold" fill="#222" font-family="'Liberation Sans',Arial,sans-serif" textLength="10.6" lengthAdjust="spacingAndGlyphs">10</text>
<text x="593.2" y="327.4" font-size="6.3" font-weight="bold" fill="#222" font-family="'Liberation Sans',Arial,sans-serif">2</text>
<text x="605.8" y="331.4" font-size="9.6" font-weight="bold" fill="#222" font-family="'Liberation Sans',Arial,sans-serif" textLength="10.6" lengthAdjust="spacingAndGlyphs">10</text>
<text x="617.0" y="327.4" font-size="6.3" font-weight="bold" fill="#222" font-family="'Liberation Sans',Arial,sans-serif">3</text>
<text x="628.8" y="331.4" font-size="9.6" font-weight="bold" fill="#222" font-family="'Liberation Sans',Arial,sans-serif" textLength="10.6" lengthAdjust="spacingAndGlyphs">10</text>
<text x="640.0" y="327.4" font-size="6.3" font-weight="bold" fill="#222" font-family="'Liberation Sans',Arial,sans-serif">4</text>
<text x="651.2" y="331.4" font-size="9.6" font-weight="bold" fill="#222" font-family="'Liberation Sans',Arial,sans-serif" textLength="10.6" lengthAdjust="spacingAndGlyphs">10</text>
<text x="662.4" y="327.4" font-size="6.3" font-weight="bold" fill="#222" font-family="'Liberation Sans',Arial,sans-serif">5</text>
<text x="673.6" y="331.4" font-size="9.6" font-weight="bold" fill="#222" font-family="'Liberation Sans',Arial,sans-serif" textLength="10.6" lengthAdjust="spacingAndGlyphs">10</text>
<text x="684.8" y="327.4" font-size="6.3" font-weight="bold" fill="#222" font-family="'Liberation Sans',Arial,sans-serif">6</text>
<text x="579.32" y="342.00" font-size="9.4" font-weight="bold" fill="#222" stroke="#222" stroke-width="0.21" font-family="'Liberation Sans',Arial,sans-serif" textLength="116.65" lengthAdjust="spacingAndGlyphs">Fluorescence Intensity</text>
<text x="0" y="0" transform="translate(557.00,286.61) rotate(-90)" font-size="10.2" font-weight="bold" fill="#222" stroke="#222" stroke-width="0.22" font-family="'Liberation Sans',Arial,sans-serif" textLength="36.72" lengthAdjust="spacingAndGlyphs">Counts</text>
<text x="542.78" y="221.20" font-size="13" font-weight="bold" fill="#222" stroke="#222" stroke-width="0.29" font-family="'Liberation Sans',Arial,sans-serif" textLength="18.74" lengthAdjust="spacingAndGlyphs">(c)</text>
<text x="593.08" y="226.20" font-size="10.5" font-weight="bold" fill="#222" stroke="#222" stroke-width="0.23" font-family="'Liberation Sans',Arial,sans-serif" textLength="13.84" lengthAdjust="spacingAndGlyphs">4h</text>
<line x1="656.8" y1="219.4" x2="670.8" y2="219.4" stroke="#000" stroke-width="2.3" />
<text x="674.25" y="223.00" font-size="8.8" font-weight="bold" fill="#2a2a35" stroke="#2a2a35" stroke-width="0.19" font-family="'Liberation Sans',Arial,sans-serif" textLength="32.10" lengthAdjust="spacingAndGlyphs">Control</text>
<line x1="656.8" y1="230.0" x2="670.8" y2="230.0" stroke="#3ab0f0" stroke-width="2.3" />
<text x="674.25" y="233.60" font-size="8.8" font-weight="bold" fill="#2a2a35" stroke="#2a2a35" stroke-width="0.19" font-family="'Liberation Sans',Arial,sans-serif" textLength="41.70" lengthAdjust="spacingAndGlyphs">Free DOX</text>
<line x1="656.8" y1="241.1" x2="670.8" y2="241.1" stroke="#f01818" stroke-width="2.3" />
<text x="674.25" y="244.30" font-size="8.8" font-weight="bold" fill="#2a2a35" stroke="#2a2a35" stroke-width="0.19" font-family="'Liberation Sans',Arial,sans-serif" textLength="32.10" lengthAdjust="spacingAndGlyphs">ZD NPs</text>
<g clip-path="url(#chc)">
<polyline points="587.0,307.9 587.6,306.3 588.2,305.1 588.8,303.4 589.4,303.5 590.0,301.6 590.6,305.1 591.2,302.1 591.8,298.8 592.4,299.4 593.0,297.4 593.6,300.5 594.2,298.0 594.8,298.4 595.4,296.2 596.0,295.4 596.6,297.6 597.2,296.1 597.8,295.3 598.4,291.7 599.0,292.0 599.6,294.7 600.2,291.2 600.8,294.2 601.4,291.7 602.0,294.0 602.6,294.5 603.2,290.3 603.8,293.8 604.4,294.2 605.0,291.3 605.6,292.8 606.2,296.9 606.8,294.9 607.4,298.5 608.0,299.3 608.6,303.2 609.2,301.2 609.8,304.0 610.4,304.1 611.0,305.8 611.6,310.0 612.2,310.9 612.8,312.8 613.4,313.8 615.0,316.1 632.0,316.1" fill="none" stroke="#111" stroke-width="1.6"/>
<polyline points="612.0,316.1 612.6,316.1 613.1,316.0 613.6,316.0 614.1,315.9 614.6,315.8 615.1,315.7 615.6,315.5 616.1,315.2 616.6,314.8 617.1,314.3 617.6,313.5 618.1,312.4 618.6,311.1 619.1,309.3 619.6,307.0 620.1,304.1 620.6,300.6 621.1,296.3 621.6,291.3 622.1,285.5 622.6,278.9 623.1,271.6 623.6,263.6 624.1,255.2 624.6,246.6 625.1,237.9 625.6,229.6 626.1,221.8 626.6,214.9 627.1,209.3 627.6,205.0 628.1,202.4 628.6,201.5 629.1,202.4 629.6,205.0 630.1,209.3 630.6,214.9 631.1,221.8 631.6,229.6 632.1,237.9 632.6,246.6 633.1,255.2 633.6,263.6 634.1,271.6 634.6,278.9 635.1,285.5 635.6,291.3 636.1,296.3 636.6,300.6 637.1,304.1 637.6,307.0 638.1,309.3 638.6,311.1 639.1,312.4 639.6,313.5 640.1,314.3 640.6,314.8 641.1,315.2 641.6,315.5 642.1,315.7 642.6,315.8 643.1,315.9 643.6,316.0 644.1,316.0 644.6,316.1 658.6,316.1" fill="none" stroke="#2f90e0" stroke-width="1.5"/>
<polyline points="587.0,316.4 634.5,316.0 635.0,316.0 635.5,315.9 636.0,315.8 636.5,315.7 637.0,315.5 637.5,315.2 638.0,314.8 638.5,314.3 639.0,313.6 639.5,312.7 640.0,311.6 640.5,310.2 641.0,308.4 641.5,306.2 642.0,303.5 642.5,300.4 643.0,296.7 643.5,292.5 644.0,287.8 644.5,282.6 645.0,277.0 645.5,271.0 646.0,264.8 646.5,258.6 647.0,252.4 647.5,246.6 648.0,241.2 648.5,236.5 649.0,232.6 649.5,229.8 650.0,228.0 650.5,227.4 651.0,228.0 651.5,229.8 652.0,232.6 652.5,236.5 653.0,241.2 653.5,246.6 654.0,252.4 654.5,258.6 655.0,264.8 655.5,271.0 656.0,277.0 656.5,282.6 657.0,287.8 657.5,292.5 658.0,296.7 658.5,300.4 659.0,303.5 659.5,306.2 660.0,308.4 660.5,310.2 661.0,311.6 661.5,312.7 662.0,313.6 662.5,314.3 663.0,314.8 663.5,315.2 664.0,315.5 664.5,315.7 665.0,315.8 665.5,315.9 666.0,316.0 666.5,316.0 699.0,316.4" fill="none" stroke="#f22" stroke-width="1.5"/>
</g>
<rect x="415.3" y="365.2" width="115.6" height="93.4" fill="none" stroke="#b0b0b0" stroke-width="1.1" rx="0" />
<text x="406.05" y="454.30" font-size="8.8" font-weight="bold" fill="#2a2a35" stroke="#2a2a35" stroke-width="0.19" font-family="'Liberation Sans',Arial,sans-serif" textLength="5.20" lengthAdjust="spacingAndGlyphs">0</text>
<line x1="413.3" y1="451.1" x2="415.3" y2="451.1" stroke="#888" stroke-width="0.7" />
<text x="401.05" y="441.00" font-size="8.8" font-weight="bold" fill="#2a2a35" stroke="#2a2a35" stroke-width="0.19" font-family="'Liberation Sans',Arial,sans-serif" textLength="10.20" lengthAdjust="spacingAndGlyphs">20</text>
<line x1="413.3" y1="437.8" x2="415.3" y2="437.8" stroke="#888" stroke-width="0.7" />
<text x="401.05" y="427.70" font-size="8.8" font-weight="bold" fill="#2a2a35" stroke="#2a2a35" stroke-width="0.19" font-family="'Liberation Sans',Arial,sans-serif" textLength="10.20" lengthAdjust="spacingAndGlyphs">40</text>
<line x1="413.3" y1="424.5" x2="415.3" y2="424.5" stroke="#888" stroke-width="0.7" />
<text x="401.05" y="414.40" font-size="8.8" font-weight="bold" fill="#2a2a35" stroke="#2a2a35" stroke-width="0.19" font-family="'Liberation Sans',Arial,sans-serif" textLength="10.20" lengthAdjust="spacingAndGlyphs">60</text>
<line x1="413.3" y1="411.2" x2="415.3" y2="411.2" stroke="#888" stroke-width="0.7" />
<text x="401.05" y="401.10" font-size="8.8" font-weight="bold" fill="#2a2a35" stroke="#2a2a35" stroke-width="0.19" font-family="'Liberation Sans',Arial,sans-serif" textLength="10.20" lengthAdjust="spacingAndGlyphs">80</text>
<line x1="413.3" y1="397.9" x2="415.3" y2="397.9" stroke="#888" stroke-width="0.7" />
<text x="396.05" y="387.80" font-size="8.8" font-weight="bold" fill="#2a2a35" stroke="#2a2a35" stroke-width="0.19" font-family="'Liberation Sans',Arial,sans-serif" textLength="15.20" lengthAdjust="spacingAndGlyphs">100</text>
<line x1="413.3" y1="384.6" x2="415.3" y2="384.6" stroke="#888" stroke-width="0.7" />
<text x="396.05" y="374.50" font-size="8.8" font-weight="bold" fill="#2a2a35" stroke="#2a2a35" stroke-width="0.19" font-family="'Liberation Sans',Arial,sans-serif" textLength="15.20" lengthAdjust="spacingAndGlyphs">120</text>
<line x1="413.3" y1="371.3" x2="415.3" y2="371.3" stroke="#888" stroke-width="0.7" />
<line x1="434.8" y1="458.6" x2="434.8" y2="456.6" stroke="#888" stroke-width="0.7" />
<line x1="472.5" y1="458.6" x2="472.5" y2="456.6" stroke="#888" stroke-width="0.7" />
<line x1="511.0" y1="458.6" x2="511.0" y2="456.6" stroke="#888" stroke-width="0.7" />
<text x="414.93" y="469.90" font-size="9.3" font-weight="bold" fill="#222" stroke="#222" stroke-width="0.20" font-family="'Liberation Sans',Arial,sans-serif" textLength="35.04" lengthAdjust="spacingAndGlyphs">Control</text>
<text x="452.03" y="470.30" font-size="9.3" font-weight="bold" fill="#222" stroke="#222" stroke-width="0.20" font-family="'Liberation Sans',Arial,sans-serif" textLength="45.24" lengthAdjust="spacingAndGlyphs">Free DOX</text>
<text x="498.93" y="470.80" font-size="9.3" font-weight="bold" fill="#222" stroke="#222" stroke-width="0.20" font-family="'Liberation Sans',Arial,sans-serif" textLength="34.74" lengthAdjust="spacingAndGlyphs">ZD NPs</text>
<text x="379.98" y="354.90" font-size="13" font-weight="bold" fill="#222" stroke="#222" stroke-width="0.29" font-family="'Liberation Sans',Arial,sans-serif" textLength="19.84" lengthAdjust="spacingAndGlyphs">(d)</text>
<text x="0" y="0" transform="translate(389.40,460.21) rotate(-90)" font-size="10.3" font-weight="bold" fill="#222" stroke="#222" stroke-width="0.23" font-family="'Liberation Sans',Arial,sans-serif" textLength="98.02" lengthAdjust="spacingAndGlyphs">Control Uptake (%)</text>
<rect x="422.5" y="373.7" width="7.1" height="6.6" fill="#111" stroke="none" stroke-width="1" rx="0" />
<text x="435.28" y="380.80" font-size="10.6" font-weight="bold" fill="#222" stroke="#222" stroke-width="0.23" font-family="'Liberation Sans',Arial,sans-serif" textLength="13.55" lengthAdjust="spacingAndGlyphs">1h</text>
<path d="M428,389.8 L433.2,399.6 L422.8,399.6 Z" fill="none" stroke="#f03030" stroke-width="1.3"/>
<text x="436.98" y="397.40" font-size="10.6" font-weight="bold" fill="#222" stroke="#222" stroke-width="0.23" font-family="'Liberation Sans',Arial,sans-serif" textLength="14.05" lengthAdjust="spacingAndGlyphs">4h</text>
<rect x="432.8" y="448.5" width="4" height="5.2" rx="1.8" fill="#f0c8c8" stroke="#d86060" stroke-width="0.9"/>
<rect x="434.0" y="450.3" width="1.6" height="1.6" fill="#a06060"/>
<rect x="470.5" y="382.0" width="4" height="5.2" rx="1.8" fill="#f0c8c8" stroke="#d86060" stroke-width="0.9"/>
<rect x="471.7" y="383.8" width="1.6" height="1.6" fill="#a06060"/>
<rect x="509.0" y="382.0" width="4" height="5.2" rx="1.8" fill="#f0c8c8" stroke="#d86060" stroke-width="0.9"/>
<rect x="510.2" y="383.8" width="1.6" height="1.6" fill="#a06060"/>
<rect x="591.1" y="367.0" width="114.5" height="93.6" fill="none" stroke="#b0b0b0" stroke-width="1.0" rx="0" />
<line x1="591.1" y1="367.0" x2="591.1" y2="460.6" stroke="#555" stroke-width="0.9" />
<line x1="591.1" y1="460.6" x2="705.6" y2="460.6" stroke="#333" stroke-width="1.0" />
<text x="565.97" y="374.30" font-size="7.0" font-weight="bold" fill="#333" stroke="#333" stroke-width="0.15" font-family="'Liberation Sans',Arial,sans-serif" textLength="21.41" lengthAdjust="spacingAndGlyphs">60000</text>
<line x1="589.1" y1="371.7" x2="591.1" y2="371.7" stroke="#555" stroke-width="0.7" />
<text x="565.97" y="395.70" font-size="7.0" font-weight="bold" fill="#333" stroke="#333" stroke-width="0.15" font-family="'Liberation Sans',Arial,sans-serif" textLength="21.41" lengthAdjust="spacingAndGlyphs">50000</text>
<line x1="589.1" y1="393.1" x2="591.1" y2="393.1" stroke="#555" stroke-width="0.7" />
<text x="565.97" y="429.90" font-size="7.0" font-weight="bold" fill="#333" stroke="#333" stroke-width="0.15" font-family="'Liberation Sans',Arial,sans-serif" textLength="21.41" lengthAdjust="spacingAndGlyphs">10000</text>
<line x1="589.1" y1="427.3" x2="591.1" y2="427.3" stroke="#555" stroke-width="0.7" />
<text x="582.97" y="457.70" font-size="7.0" font-weight="bold" fill="#333" stroke="#333" stroke-width="0.15" font-family="'Liberation Sans',Arial,sans-serif" textLength="4.41" lengthAdjust="spacingAndGlyphs">0</text>
<line x1="589.1" y1="455.1" x2="591.1" y2="455.1" stroke="#555" stroke-width="0.7" />
<line x1="589.6" y1="410.0" x2="592.6" y2="408.0" stroke="#555" stroke-width="0.6" />
<rect x="594.9" y="455.2" width="14.8" height="5.4" fill="#000" stroke="none" stroke-width="1" rx="0" />
<rect x="609.7" y="455.2" width="15.1" height="5.4" fill="#f00000" stroke="none" stroke-width="1" rx="0" />
<rect x="632.5" y="442.7" width="15.3" height="17.9" fill="#000" stroke="none" stroke-width="1" rx="0" />
<rect x="647.8" y="437.5" width="15.7" height="23.1" fill="#f00000" stroke="none" stroke-width="1" rx="0" />
<rect x="670.7" y="389.8" width="15.6" height="70.8" fill="#000" stroke="none" stroke-width="1" rx="0" />
<rect x="686.3" y="381.0" width="15.6" height="79.6" fill="#f00000" stroke="none" stroke-width="1" rx="0" />
<rect x="670.7" y="412.6" width="31.2" height="1.6" fill="#fff" stroke="none" stroke-width="1" rx="0" />
<rect x="595.8" y="372.8" width="13.2" height="4.1" rx="2" fill="#000"/>
<text x="611.08" y="378.60" font-size="10.6" font-weight="bold" fill="#111" stroke="#111" stroke-width="0.23" font-family="'Liberation Sans',Arial,sans-serif" textLength="14.45" lengthAdjust="spacingAndGlyphs">1h</text>
<rect x="595.8" y="384.4" width="13.2" height="4.1" rx="2" fill="#f00"/>
<text x="611.08" y="389.30" font-size="10.6" font-weight="bold" fill="#111" stroke="#111" stroke-width="0.23" font-family="'Liberation Sans',Arial,sans-serif" textLength="14.45" lengthAdjust="spacingAndGlyphs">4h</text>
<polyline points="640.5,438.0 640.5,382.2 679.4,382.2 679.4,385.2" fill="none" stroke="#555" stroke-width="0.6" stroke-linejoin="round" />
<polyline points="656.2,434.0 656.2,373.9 694.3,373.9 694.3,377.7" fill="none" stroke="#555" stroke-width="0.6" stroke-linejoin="round" />
<text x="650.4" y="382.8" font-size="6.5" font-weight="bold" text-anchor="middle" fill="#444" font-family="'Liberation Sans',Arial,sans-serif" >**</text>
<text x="674.4" y="374.8" font-size="6.5" font-weight="bold" text-anchor="middle" fill="#444" font-family="'Liberation Sans',Arial,sans-serif" >**</text>
<text x="540.88" y="353.00" font-size="13" font-weight="bold" fill="#222" stroke="#222" stroke-width="0.29" font-family="'Liberation Sans',Arial,sans-serif" textLength="18.44" lengthAdjust="spacingAndGlyphs">(e)</text>
<text x="0" y="0" transform="translate(552.80,457.68) rotate(-90)" font-size="9.6" font-weight="bold" fill="#2a2a38" stroke="#2a2a38" stroke-width="0.21" font-family="'Liberation Sans',Arial,sans-serif" textLength="89.77" lengthAdjust="spacingAndGlyphs">Mean Fluorescence</text>
<text x="0" y="0" transform="translate(562.00,444.88) rotate(-90)" font-size="9.6" font-weight="bold" fill="#3a3530" stroke="#3a3530" stroke-width="0.21" font-family="'Liberation Sans',Arial,sans-serif" textLength="66.77" lengthAdjust="spacingAndGlyphs">Intensity (MFI)</text>
<text x="591.83" y="471.40" font-size="9.3" font-weight="bold" fill="#222" stroke="#222" stroke-width="0.20" font-family="'Liberation Sans',Arial,sans-serif" textLength="34.44" lengthAdjust="spacingAndGlyphs">Control</text>
<text x="628.53" y="472.30" font-size="9.3" font-weight="bold" fill="#222" stroke="#222" stroke-width="0.20" font-family="'Liberation Sans',Arial,sans-serif" textLength="44.74" lengthAdjust="spacingAndGlyphs">Free DOX</text>
<text x="674.33" y="473.20" font-size="9.3" font-weight="bold" fill="#222" stroke="#222" stroke-width="0.20" font-family="'Liberation Sans',Arial,sans-serif" textLength="34.74" lengthAdjust="spacingAndGlyphs">ZD NPs</text>
<defs>
<radialGradient id="gPart" cx="0.5" cy="0.5" r="0.5"><stop offset="0.35" stop-color="#fff8fd"/><stop offset="0.68" stop-color="#fcdaf6"/><stop offset="0.9" stop-color="#f7aeec"/><stop offset="1" stop-color="#f294e4"/></radialGradient>
<radialGradient id="gCore" cx="0.42" cy="0.38" r="0.62"><stop offset="0" stop-color="#ffffff"/><stop offset="0.35" stop-color="#c8ccff"/><stop offset="0.7" stop-color="#4a50f0"/><stop offset="1" stop-color="#1c1cc8"/></radialGradient>
<radialGradient id="gCorner" cx="0.5" cy="0.5" r="0.5"><stop offset="0" stop-color="#f070e0" stop-opacity="0.95"/><stop offset="0.55" stop-color="#f7a0ea" stop-opacity="0.55"/><stop offset="1" stop-color="#fbd8f4" stop-opacity="0"/></radialGradient>
<linearGradient id="gBox" x1="0" y1="0" x2="1" y2="0.4"><stop offset="0" stop-color="#fff8fe"/><stop offset="0.5" stop-color="#fdf0fd"/><stop offset="1" stop-color="#f9e6fb"/></linearGradient>
<radialGradient id="gCell" cx="0.42" cy="0.55" r="0.58"><stop offset="0" stop-color="#f2cef2"/><stop offset="0.45" stop-color="#da9ede"/><stop offset="0.78" stop-color="#b050b8"/><stop offset="1" stop-color="#7e1686"/></radialGradient>
<linearGradient id="gArrow" x1="0" y1="0" x2="1" y2="0"><stop offset="0" stop-color="#2a68a8"/><stop offset="1" stop-color="#58a8e0"/></linearGradient>
<linearGradient id="gArrowB" x1="0" y1="0" x2="1" y2="1"><stop offset="0" stop-color="#2c5a98"/><stop offset="0.6" stop-color="#3a70b0"/><stop offset="1" stop-color="#5a90cc"/></linearGradient>
<radialGradient id="gMito" cx="0.5" cy="0.5" r="0.5"><stop offset="0" stop-color="#f070e8"/><stop offset="1" stop-color="#e030d0"/></radialGradient>
<clipPath id="cBox"><rect x="20.5" y="518.5" width="348" height="228.5" rx="30" ry="34"/></clipPath>
</defs>
<rect x="20.5" y="518.5" width="348" height="228.5" rx="30" ry="34" fill="url(#gBox)" stroke="#a0aed6" stroke-width="1"/>
<g clip-path="url(#cBox)"><ellipse cx="32" cy="540" rx="42" ry="40" fill="url(#gCorner)"/></g>
<text x="36.46" y="534.40" font-size="13.5" font-weight="bold" fill="#222" stroke="#222" stroke-width="0.30" font-family="'Liberation Sans',Arial,sans-serif" textLength="18.28" lengthAdjust="spacingAndGlyphs">(a)</text>
<circle cx="66" cy="573.3" r="32" fill="url(#gPart)"/>
<polyline points="77.5,571.7 79.8,574.0 81.9,571.5 84.2,573.8 86.3,571.4 88.6,573.7 90.7,571.2 93.0,573.5 95.1,571.0 97.4,573.4" fill="none" stroke="#a04cb0" stroke-width="0.75"/>
<polyline points="77.4,575.5 78.8,578.5 81.6,576.8 83.0,579.7 85.8,578.1 87.2,581.0 90.0,579.4 91.4,582.3 94.2,580.7 95.6,583.6" fill="none" stroke="#f040b8" stroke-width="0.75"/>
<polyline points="76.4,578.3 77.1,581.5 80.2,580.6 80.8,583.8 84.0,582.9 84.6,586.1 87.7,585.2 88.3,588.4 91.5,587.5 92.1,590.7" fill="none" stroke="#a04cb0" stroke-width="0.75"/>
<polyline points="75.2,580.4 75.1,583.6 78.4,583.4 78.3,586.7 81.6,586.5 81.5,589.7 84.7,589.5 84.7,592.8 87.9,592.5 87.9,595.8" fill="none" stroke="#f040b8" stroke-width="0.75"/>
<polyline points="72.8,582.7 71.8,585.8 75.0,586.5 74.0,589.6 77.2,590.3 76.2,593.4 79.4,594.1 78.4,597.2 81.6,597.9 80.7,601.1" fill="none" stroke="#a04cb0" stroke-width="0.75"/>
<polyline points="70.2,584.1 68.5,586.9 71.4,588.3 69.6,591.1 72.5,592.6 70.8,595.4 73.7,596.9 71.9,599.6 74.8,601.1 73.1,603.9" fill="none" stroke="#f040b8" stroke-width="0.75"/>
<polyline points="67.0,584.8 64.6,587.0 67.0,589.2 64.5,591.4 66.9,593.7 64.5,595.8 66.8,598.1 64.4,600.2 66.8,602.5 64.3,604.6" fill="none" stroke="#a04cb0" stroke-width="0.75"/>
<polyline points="63.8,584.7 60.9,586.1 62.6,588.9 59.7,590.3 61.3,593.1 58.4,594.6 60.1,597.4 57.1,598.8 58.8,601.6 55.9,603.0" fill="none" stroke="#f040b8" stroke-width="0.75"/>
<polyline points="61.7,584.1 58.6,584.9 59.7,588.0 56.5,588.8 57.6,591.9 54.5,592.7 55.6,595.8 52.4,596.6 53.5,599.7 50.4,600.5" fill="none" stroke="#a04cb0" stroke-width="0.75"/>
<polyline points="59.1,582.6 55.9,582.6 56.2,585.9 52.9,585.9 53.2,589.2 49.9,589.2 50.2,592.4 47.0,592.4 47.3,595.7 44.0,595.7" fill="none" stroke="#f040b8" stroke-width="0.75"/>
<polyline points="56.4,579.8 53.3,578.7 52.5,581.9 49.4,580.8 48.6,583.9 45.5,582.9 44.7,586.0 41.7,584.9 40.8,588.1 37.8,587.0" fill="none" stroke="#a04cb0" stroke-width="0.75"/>
<polyline points="55.2,577.5 52.4,575.8 51.0,578.7 48.2,577.0 46.7,579.9 43.9,578.1 42.5,581.0 39.7,579.3 38.2,582.2 35.4,580.5" fill="none" stroke="#f040b8" stroke-width="0.75"/>
<polyline points="54.5,574.2 52.3,571.7 50.0,574.1 47.9,571.6 45.6,574.0 43.5,571.5 41.2,573.9 39.1,571.4 36.8,573.7 34.7,571.3" fill="none" stroke="#a04cb0" stroke-width="0.75"/>
<polyline points="54.5,572.0 52.8,569.2 50.2,571.1 48.5,568.3 45.9,570.2 44.2,567.4 41.6,569.3 39.9,566.5 37.2,568.3 35.6,565.5" fill="none" stroke="#f040b8" stroke-width="0.75"/>
<polyline points="55.4,568.6 54.7,565.5 51.6,566.5 50.8,563.3 47.7,564.3 47.0,561.1 43.9,562.1 43.2,558.9 40.1,559.9 39.4,556.7" fill="none" stroke="#a04cb0" stroke-width="0.75"/>
<polyline points="57.2,565.8 57.4,562.6 54.1,562.6 54.3,559.4 51.1,559.4 51.3,556.2 48.0,556.2 48.2,553.0 45.0,553.1 45.2,549.8" fill="none" stroke="#f040b8" stroke-width="0.75"/>
<polyline points="58.9,564.1 59.8,561.0 56.6,560.4 57.5,557.2 54.3,556.6 55.2,553.5 52.0,552.8 52.9,549.7 49.7,549.1 50.6,545.9" fill="none" stroke="#a04cb0" stroke-width="0.75"/>
<polyline points="62.3,562.3 64.2,559.6 61.4,558.0 63.3,555.3 60.4,553.7 62.3,551.0 59.5,549.4 61.4,546.7 58.5,545.1 60.4,542.4" fill="none" stroke="#f040b8" stroke-width="0.75"/>
<polyline points="65.3,561.7 67.7,559.6 65.4,557.3 67.9,555.2 65.6,552.9 68.1,550.8 65.8,548.5 68.3,546.4 66.0,544.1 68.5,542.0" fill="none" stroke="#a04cb0" stroke-width="0.75"/>
<polyline points="67.3,561.8 70.1,560.1 68.2,557.5 71.0,555.8 69.2,553.2 72.0,551.5 70.1,548.9 72.9,547.2 71.0,544.6 73.9,542.9" fill="none" stroke="#f040b8" stroke-width="0.75"/>
<polyline points="70.2,562.5 73.4,561.7 72.2,558.6 75.4,557.7 74.3,554.7 77.4,553.8 76.3,550.8 79.4,549.9 78.3,546.8 81.4,546.0" fill="none" stroke="#a04cb0" stroke-width="0.75"/>
<polyline points="73.3,564.3 76.6,564.5 76.5,561.2 79.7,561.4 79.6,558.1 82.9,558.3 82.7,555.0 86.0,555.2 85.9,551.9 89.1,552.1" fill="none" stroke="#f040b8" stroke-width="0.75"/>
<polyline points="75.7,566.9 78.7,568.0 79.6,564.9 82.6,566.0 83.5,562.8 86.6,564.0 87.4,560.8 90.5,561.9 91.3,558.8 94.4,559.9" fill="none" stroke="#a04cb0" stroke-width="0.75"/>
<polyline points="76.8,569.0 79.5,570.7 81.0,567.8 83.8,569.6 85.3,566.6 88.0,568.4 89.5,565.5 92.3,567.2 93.7,564.3 96.5,566.0" fill="none" stroke="#f040b8" stroke-width="0.75"/>
<path d="M82.6,574.9 q1.8,2.4 3.6,0" fill="none" stroke="#1e9a3c" stroke-width="1.5"/>
<path d="M78.9,583.8 q1.8,2.4 3.6,0" fill="none" stroke="#1e9a3c" stroke-width="1.5"/>
<path d="M71.3,589.6 q1.8,2.4 3.6,0" fill="none" stroke="#1e9a3c" stroke-width="1.5"/>
<path d="M61.8,590.9 q1.8,2.4 3.6,0" fill="none" stroke="#1e9a3c" stroke-width="1.5"/>
<path d="M52.9,587.2 q1.8,2.4 3.6,0" fill="none" stroke="#1e9a3c" stroke-width="1.5"/>
<path d="M47.1,579.6 q1.8,2.4 3.6,0" fill="none" stroke="#1e9a3c" stroke-width="1.5"/>
<path d="M45.8,570.1 q1.8,2.4 3.6,0" fill="none" stroke="#1e9a3c" stroke-width="1.5"/>
<path d="M49.5,561.2 q1.8,2.4 3.6,0" fill="none" stroke="#1e9a3c" stroke-width="1.5"/>
<path d="M57.1,555.4 q1.8,2.4 3.6,0" fill="none" stroke="#1e9a3c" stroke-width="1.5"/>
<path d="M66.6,554.1 q1.8,2.4 3.6,0" fill="none" stroke="#1e9a3c" stroke-width="1.5"/>
<path d="M75.5,557.8 q1.8,2.4 3.6,0" fill="none" stroke="#1e9a3c" stroke-width="1.5"/>
<path d="M81.3,565.4 q1.8,2.4 3.6,0" fill="none" stroke="#1e9a3c" stroke-width="1.5"/>
<circle cx="80.4" cy="573.3" r="1.9" fill="#faf25a"/>
<circle cx="78.1" cy="581.1" r="1.9" fill="#faf25a"/>
<circle cx="72.0" cy="586.4" r="1.9" fill="#faf25a"/>
<circle cx="64.0" cy="587.6" r="1.9" fill="#faf25a"/>
<circle cx="56.6" cy="584.2" r="1.9" fill="#faf25a"/>
<circle cx="52.2" cy="577.4" r="1.9" fill="#faf25a"/>
<circle cx="52.2" cy="569.2" r="1.9" fill="#faf25a"/>
<circle cx="56.6" cy="562.4" r="1.9" fill="#faf25a"/>
<circle cx="64.0" cy="559.0" r="1.9" fill="#faf25a"/>
<circle cx="72.0" cy="560.2" r="1.9" fill="#faf25a"/>
<circle cx="78.1" cy="565.5" r="1.9" fill="#faf25a"/>
<circle cx="89.2" cy="578.0" r="1.9" fill="#faf25a"/>
<circle cx="85.6" cy="586.5" r="1.9" fill="#faf25a"/>
<circle cx="79.1" cy="593.0" r="1.9" fill="#faf25a"/>
<circle cx="70.5" cy="596.5" r="1.9" fill="#faf25a"/>
<circle cx="61.3" cy="596.5" r="1.9" fill="#faf25a"/>
<circle cx="52.8" cy="592.9" r="1.9" fill="#faf25a"/>
<circle cx="46.3" cy="586.4" r="1.9" fill="#faf25a"/>
<circle cx="42.8" cy="577.8" r="1.9" fill="#faf25a"/>
<circle cx="42.8" cy="568.6" r="1.9" fill="#faf25a"/>
<circle cx="46.4" cy="560.1" r="1.9" fill="#faf25a"/>
<circle cx="52.9" cy="553.6" r="1.9" fill="#faf25a"/>
<circle cx="61.5" cy="550.1" r="1.9" fill="#faf25a"/>
<circle cx="70.7" cy="550.1" r="1.9" fill="#faf25a"/>
<circle cx="79.2" cy="553.7" r="1.9" fill="#faf25a"/>
<circle cx="85.7" cy="560.2" r="1.9" fill="#faf25a"/>
<circle cx="89.2" cy="568.8" r="1.9" fill="#faf25a"/>
<circle cx="66" cy="573.3" r="33.2" fill="none" stroke="#4060f0" stroke-width="0.8" stroke-dasharray="1,1.1"/>
<ellipse cx="97.9" cy="579.8" rx="11.5" ry="2.9" fill="none" stroke="#3a58f0" stroke-width="0.75" stroke-dasharray="1,1" transform="rotate(101.5 97.9 579.8)"/>
<ellipse cx="88.0" cy="597.2" rx="11.5" ry="2.9" fill="none" stroke="#3a58f0" stroke-width="0.75" stroke-dasharray="1,1" transform="rotate(137.5 88.0 597.2)"/>
<ellipse cx="69.7" cy="605.6" rx="11.5" ry="2.9" fill="none" stroke="#3a58f0" stroke-width="0.75" stroke-dasharray="1,1" transform="rotate(173.5 69.7 605.6)"/>
<ellipse cx="50.0" cy="601.6" rx="11.5" ry="2.9" fill="none" stroke="#3a58f0" stroke-width="0.75" stroke-dasharray="1,1" transform="rotate(209.5 50.0 601.6)"/>
<ellipse cx="36.4" cy="586.8" rx="11.5" ry="2.9" fill="none" stroke="#3a58f0" stroke-width="0.75" stroke-dasharray="1,1" transform="rotate(245.5 36.4 586.8)"/>
<ellipse cx="34.1" cy="566.8" rx="11.5" ry="2.9" fill="none" stroke="#3a58f0" stroke-width="0.75" stroke-dasharray="1,1" transform="rotate(281.5 34.1 566.8)"/>
<ellipse cx="44.0" cy="549.4" rx="11.5" ry="2.9" fill="none" stroke="#3a58f0" stroke-width="0.75" stroke-dasharray="1,1" transform="rotate(317.5 44.0 549.4)"/>
<ellipse cx="62.3" cy="541.0" rx="11.5" ry="2.9" fill="none" stroke="#3a58f0" stroke-width="0.75" stroke-dasharray="1,1" transform="rotate(353.5 62.3 541.0)"/>
<ellipse cx="82.0" cy="545.0" rx="11.5" ry="2.9" fill="none" stroke="#3a58f0" stroke-width="0.75" stroke-dasharray="1,1" transform="rotate(389.5 82.0 545.0)"/>
<ellipse cx="95.6" cy="559.8" rx="11.5" ry="2.9" fill="none" stroke="#3a58f0" stroke-width="0.75" stroke-dasharray="1,1" transform="rotate(425.5 95.6 559.8)"/>
<circle cx="66" cy="573.3" r="11.4" fill="url(#gCore)"/>
<text x="66" y="576.7" font-size="8.5" font-style="italic" text-anchor="middle" fill="#50508a" font-family="'Liberation Serif',serif">ZnO</text>
<circle cx="138.4" cy="573.3" r="32" fill="url(#gPart)"/>
<polyline points="150.0,572.6 152.1,575.1 154.4,572.8 156.5,575.3 158.8,573.0 160.9,575.5 163.2,573.2 165.3,575.7 167.6,573.4 169.7,575.9" fill="none" stroke="#a04cb0" stroke-width="0.75"/>
<polyline points="149.7,575.6 151.1,578.6 153.9,577.0 155.3,579.9 158.2,578.3 159.5,581.2 162.4,579.6 163.7,582.6 166.6,581.0 167.9,583.9" fill="none" stroke="#f040b8" stroke-width="0.75"/>
<polyline points="149.2,577.5 150.0,580.7 153.1,579.6 153.9,582.7 157.0,581.6 157.8,584.8 160.9,583.6 161.8,586.8 164.8,585.7 165.7,588.8" fill="none" stroke="#a04cb0" stroke-width="0.75"/>
<polyline points="147.7,580.2 147.7,583.5 150.9,583.2 150.9,586.5 154.2,586.2 154.2,589.4 157.4,589.2 157.4,592.4 160.7,592.2 160.7,595.4" fill="none" stroke="#f040b8" stroke-width="0.75"/>
<polyline points="144.9,582.9 143.8,586.0 147.0,586.8 145.9,589.9 149.0,590.7 148.0,593.8 151.1,594.6 150.0,597.6 153.2,598.5 152.1,601.5" fill="none" stroke="#a04cb0" stroke-width="0.75"/>
<polyline points="142.3,584.2 140.5,586.9 143.3,588.5 141.5,591.2 144.4,592.8 142.6,595.5 145.4,597.1 143.6,599.8 146.4,601.3 144.6,604.1" fill="none" stroke="#f040b8" stroke-width="0.75"/>
<polyline points="139.4,584.8 137.0,587.0 139.3,589.2 136.9,591.4 139.3,593.7 136.8,595.8 139.2,598.1 136.7,600.2 139.1,602.5 136.7,604.6" fill="none" stroke="#a04cb0" stroke-width="0.75"/>
<polyline points="136.8,584.8 133.9,586.3 135.7,589.1 132.9,590.6 134.7,593.3 131.8,594.9 133.6,597.6 130.8,599.2 132.6,601.9 129.7,603.5" fill="none" stroke="#f040b8" stroke-width="0.75"/>
<polyline points="133.6,583.8 130.4,584.5 131.3,587.6 128.1,588.3 129.1,591.4 125.9,592.1 126.8,595.2 123.6,595.9 124.6,599.0 121.4,599.7" fill="none" stroke="#a04cb0" stroke-width="0.75"/>
<polyline points="131.0,582.2 127.8,582.0 127.9,585.3 124.6,585.1 124.7,588.4 121.5,588.2 121.6,591.5 118.3,591.3 118.4,594.6 115.2,594.4" fill="none" stroke="#f040b8" stroke-width="0.75"/>
<polyline points="129.0,580.0 125.9,579.0 125.1,582.2 122.0,581.2 121.3,584.4 118.2,583.4 117.5,586.5 114.4,585.5 113.6,588.7 110.5,587.7" fill="none" stroke="#a04cb0" stroke-width="0.75"/>
<polyline points="127.7,577.8 124.9,576.2 123.5,579.1 120.7,577.4 119.3,580.4 116.5,578.7 115.1,581.7 112.3,580.0 110.9,583.0 108.1,581.3" fill="none" stroke="#f040b8" stroke-width="0.75"/>
<polyline points="126.9,574.6 124.7,572.2 122.5,574.6 120.3,572.2 118.1,574.6 115.8,572.3 113.7,574.7 111.4,572.3 109.3,574.7 107.0,572.3" fill="none" stroke="#a04cb0" stroke-width="0.75"/>
<polyline points="126.9,571.6 125.4,568.7 122.7,570.5 121.1,567.6 118.4,569.4 116.9,566.5 114.1,568.3 112.6,565.4 109.9,567.2 108.3,564.3" fill="none" stroke="#f040b8" stroke-width="0.75"/>
<polyline points="127.9,568.3 127.3,565.1 124.2,566.1 123.5,562.9 120.4,563.8 119.8,560.6 116.6,561.5 116.0,558.3 112.9,559.2 112.2,556.0" fill="none" stroke="#a04cb0" stroke-width="0.75"/>
<polyline points="129.8,565.6 130.1,562.3 126.8,562.3 127.1,559.1 123.9,559.0 124.2,555.8 120.9,555.8 121.2,552.5 117.9,552.5 118.2,549.2" fill="none" stroke="#f040b8" stroke-width="0.75"/>
<polyline points="132.0,563.6 133.1,560.6 130.0,559.7 131.1,556.7 128.0,555.8 129.1,552.7 125.9,551.9 127.1,548.8 123.9,548.0 125.0,544.9" fill="none" stroke="#a04cb0" stroke-width="0.75"/>
<polyline points="134.3,562.5 136.1,559.7 133.2,558.2 134.9,555.5 132.1,553.9 133.8,551.2 130.9,549.7 132.7,546.9 129.8,545.4 131.6,542.7" fill="none" stroke="#f040b8" stroke-width="0.75"/>
<polyline points="137.1,561.8 139.5,559.6 137.1,557.4 139.5,555.2 137.1,553.0 139.5,550.8 137.1,548.6 139.5,546.3 137.0,544.2 139.4,541.9" fill="none" stroke="#a04cb0" stroke-width="0.75"/>
<polyline points="140.0,561.8 142.8,560.2 141.0,557.5 143.9,556.0 142.0,553.3 144.9,551.7 143.1,549.0 145.9,547.4 144.1,544.7 147.0,543.1" fill="none" stroke="#f040b8" stroke-width="0.75"/>
<polyline points="142.6,562.5 145.8,561.7 144.6,558.6 147.8,557.7 146.7,554.7 149.8,553.8 148.7,550.8 151.8,549.9 150.7,546.9 153.9,546.0" fill="none" stroke="#a04cb0" stroke-width="0.75"/>
<polyline points="145.3,564.0 148.5,564.0 148.2,560.7 151.5,560.7 151.2,557.4 154.5,557.4 154.2,554.2 157.4,554.2 157.1,550.9 160.4,550.9" fill="none" stroke="#f040b8" stroke-width="0.75"/>
<polyline points="147.8,566.5 150.9,567.4 151.6,564.3 154.7,565.2 155.4,562.0 158.5,563.0 159.2,559.8 162.3,560.8 163.0,557.6 166.1,558.6" fill="none" stroke="#a04cb0" stroke-width="0.75"/>
<polyline points="149.1,569.0 151.9,570.7 153.4,567.7 156.2,569.4 157.6,566.5 160.4,568.2 161.9,565.3 164.6,567.0 166.1,564.1 168.9,565.8" fill="none" stroke="#f040b8" stroke-width="0.75"/>
<path d="M155.0,574.9 q1.8,2.4 3.6,0" fill="none" stroke="#1e9a3c" stroke-width="1.5"/>
<path d="M151.3,583.8 q1.8,2.4 3.6,0" fill="none" stroke="#1e9a3c" stroke-width="1.5"/>
<path d="M143.7,589.6 q1.8,2.4 3.6,0" fill="none" stroke="#1e9a3c" stroke-width="1.5"/>
<path d="M134.2,590.9 q1.8,2.4 3.6,0" fill="none" stroke="#1e9a3c" stroke-width="1.5"/>
<path d="M125.3,587.2 q1.8,2.4 3.6,0" fill="none" stroke="#1e9a3c" stroke-width="1.5"/>
<path d="M119.5,579.6 q1.8,2.4 3.6,0" fill="none" stroke="#1e9a3c" stroke-width="1.5"/>
<path d="M118.2,570.1 q1.8,2.4 3.6,0" fill="none" stroke="#1e9a3c" stroke-width="1.5"/>
<path d="M121.9,561.2 q1.8,2.4 3.6,0" fill="none" stroke="#1e9a3c" stroke-width="1.5"/>
<path d="M129.5,555.4 q1.8,2.4 3.6,0" fill="none" stroke="#1e9a3c" stroke-width="1.5"/>
<path d="M139.0,554.1 q1.8,2.4 3.6,0" fill="none" stroke="#1e9a3c" stroke-width="1.5"/>
<path d="M147.9,557.8 q1.8,2.4 3.6,0" fill="none" stroke="#1e9a3c" stroke-width="1.5"/>
<path d="M153.7,565.4 q1.8,2.4 3.6,0" fill="none" stroke="#1e9a3c" stroke-width="1.5"/>
<circle cx="152.8" cy="573.3" r="1.9" fill="#faf25a"/>
<circle cx="150.5" cy="581.1" r="1.9" fill="#faf25a"/>
<circle cx="144.4" cy="586.4" r="1.9" fill="#faf25a"/>
<circle cx="136.4" cy="587.6" r="1.9" fill="#faf25a"/>
<circle cx="129.0" cy="584.2" r="1.9" fill="#faf25a"/>
<circle cx="124.6" cy="577.4" r="1.9" fill="#faf25a"/>
<circle cx="124.6" cy="569.2" r="1.9" fill="#faf25a"/>
<circle cx="129.0" cy="562.4" r="1.9" fill="#faf25a"/>
<circle cx="136.4" cy="559.0" r="1.9" fill="#faf25a"/>
<circle cx="144.4" cy="560.2" r="1.9" fill="#faf25a"/>
<circle cx="150.5" cy="565.5" r="1.9" fill="#faf25a"/>
<circle cx="161.6" cy="578.0" r="1.9" fill="#faf25a"/>
<circle cx="158.0" cy="586.5" r="1.9" fill="#faf25a"/>
<circle cx="151.5" cy="593.0" r="1.9" fill="#faf25a"/>
<circle cx="142.9" cy="596.5" r="1.9" fill="#faf25a"/>
<circle cx="133.7" cy="596.5" r="1.9" fill="#faf25a"/>
<circle cx="125.2" cy="592.9" r="1.9" fill="#faf25a"/>
<circle cx="118.7" cy="586.4" r="1.9" fill="#faf25a"/>
<circle cx="115.2" cy="577.8" r="1.9" fill="#faf25a"/>
<circle cx="115.2" cy="568.6" r="1.9" fill="#faf25a"/>
<circle cx="118.8" cy="560.1" r="1.9" fill="#faf25a"/>
<circle cx="125.3" cy="553.6" r="1.9" fill="#faf25a"/>
<circle cx="133.9" cy="550.1" r="1.9" fill="#faf25a"/>
<circle cx="143.1" cy="550.1" r="1.9" fill="#faf25a"/>
<circle cx="151.6" cy="553.7" r="1.9" fill="#faf25a"/>
<circle cx="158.1" cy="560.2" r="1.9" fill="#faf25a"/>
<circle cx="161.6" cy="568.8" r="1.9" fill="#faf25a"/>
<circle cx="138.4" cy="573.3" r="33.2" fill="none" stroke="#4060f0" stroke-width="0.8" stroke-dasharray="1,1.1"/>
<ellipse cx="170.3" cy="579.8" rx="11.5" ry="2.9" fill="none" stroke="#3a58f0" stroke-width="0.75" stroke-dasharray="1,1" transform="rotate(101.5 170.3 579.8)"/>
<ellipse cx="160.4" cy="597.2" rx="11.5" ry="2.9" fill="none" stroke="#3a58f0" stroke-width="0.75" stroke-dasharray="1,1" transform="rotate(137.5 160.4 597.2)"/>
<ellipse cx="142.1" cy="605.6" rx="11.5" ry="2.9" fill="none" stroke="#3a58f0" stroke-width="0.75" stroke-dasharray="1,1" transform="rotate(173.5 142.1 605.6)"/>
<ellipse cx="122.4" cy="601.6" rx="11.5" ry="2.9" fill="none" stroke="#3a58f0" stroke-width="0.75" stroke-dasharray="1,1" transform="rotate(209.5 122.4 601.6)"/>
<ellipse cx="108.8" cy="586.8" rx="11.5" ry="2.9" fill="none" stroke="#3a58f0" stroke-width="0.75" stroke-dasharray="1,1" transform="rotate(245.5 108.8 586.8)"/>
<ellipse cx="106.5" cy="566.8" rx="11.5" ry="2.9" fill="none" stroke="#3a58f0" stroke-width="0.75" stroke-dasharray="1,1" transform="rotate(281.5 106.5 566.8)"/>
<ellipse cx="116.4" cy="549.4" rx="11.5" ry="2.9" fill="none" stroke="#3a58f0" stroke-width="0.75" stroke-dasharray="1,1" transform="rotate(317.5 116.4 549.4)"/>
<ellipse cx="168.0" cy="559.8" rx="11.5" ry="2.9" fill="none" stroke="#3a58f0" stroke-width="0.75" stroke-dasharray="1,1" transform="rotate(425.5 168.0 559.8)"/>
<circle cx="138.4" cy="573.3" r="11.4" fill="url(#gCore)"/>
<text x="138.4" y="576.7" font-size="8.5" font-style="italic" text-anchor="middle" fill="#50508a" font-family="'Liberation Serif',serif">ZnO</text>
<ellipse cx="153" cy="540" rx="5" ry="2.2" fill="none" stroke="#5060e0" stroke-width="0.7" stroke-dasharray="1.2,1" transform="rotate(20 153 540)"/>
<ellipse cx="166" cy="548" rx="5" ry="2.2" fill="none" stroke="#5060e0" stroke-width="0.7" stroke-dasharray="1.2,1" transform="rotate(70 166 548)"/>
<ellipse cx="170" cy="570" rx="5" ry="2.2" fill="none" stroke="#5060e0" stroke-width="0.7" stroke-dasharray="1.2,1" transform="rotate(90 170 570)"/>
<circle cx="219.2" cy="572" r="32" fill="url(#gPart)"/>
<polyline points="230.7,570.5 233.0,572.8 235.1,570.4 237.4,572.7 239.5,570.3 241.8,572.6 243.9,570.2 246.2,572.5 248.3,570.0 250.6,572.4" fill="none" stroke="#a04cb0" stroke-width="0.75"/>
<polyline points="230.6,573.9 232.1,576.8 234.9,575.0 236.4,577.9 239.1,576.2 240.6,579.1 243.4,577.4 244.9,580.2 247.6,578.5 249.1,581.4" fill="none" stroke="#f040b8" stroke-width="0.75"/>
<polyline points="229.8,576.6 230.6,579.8 233.7,578.7 234.4,581.9 237.5,580.9 238.3,584.1 241.4,583.0 242.1,586.2 245.2,585.2 246.0,588.4" fill="none" stroke="#a04cb0" stroke-width="0.75"/>
<polyline points="228.1,579.4 227.9,582.6 231.2,582.5 231.0,585.8 234.3,585.7 234.1,588.9 237.4,588.8 237.2,592.1 240.5,592.0 240.3,595.2" fill="none" stroke="#f040b8" stroke-width="0.75"/>
<polyline points="225.9,581.5 224.9,584.6 228.0,585.3 227.0,588.4 230.2,589.2 229.2,592.2 232.3,593.0 231.3,596.1 234.5,596.8 233.5,599.9" fill="none" stroke="#a04cb0" stroke-width="0.75"/>
<polyline points="223.8,582.6 222.2,585.5 225.1,586.8 223.5,589.7 226.5,591.0 224.8,593.9 227.8,595.2 226.2,598.1 229.1,599.4 227.5,602.3" fill="none" stroke="#f040b8" stroke-width="0.75"/>
<polyline points="221.0,583.4 218.7,585.8 221.2,587.9 218.9,590.2 221.4,592.3 219.1,594.6 221.6,596.7 219.3,599.0 221.8,601.1 219.5,603.4" fill="none" stroke="#a04cb0" stroke-width="0.75"/>
<polyline points="217.0,583.4 214.1,584.8 215.7,587.6 212.8,589.0 214.4,591.8 211.5,593.2 213.1,596.0 210.2,597.4 211.9,600.2 208.9,601.7" fill="none" stroke="#f040b8" stroke-width="0.75"/>
<polyline points="214.7,582.7 211.6,583.5 212.6,586.6 209.5,587.3 210.5,590.4 207.3,591.2 208.4,594.3 205.2,595.1 206.3,598.2 203.1,599.0" fill="none" stroke="#a04cb0" stroke-width="0.75"/>
<polyline points="212.1,581.2 208.9,581.1 209.1,584.4 205.9,584.3 206.1,587.6 202.8,587.5 203.0,590.8 199.8,590.7 200.0,594.0 196.8,593.9" fill="none" stroke="#f040b8" stroke-width="0.75"/>
<polyline points="209.5,578.3 206.4,577.2 205.6,580.3 202.5,579.2 201.7,582.4 198.6,581.2 197.7,584.4 194.7,583.2 193.8,586.4 190.8,585.2" fill="none" stroke="#a04cb0" stroke-width="0.75"/>
<polyline points="208.4,576.2 205.6,574.4 204.1,577.3 201.4,575.6 199.9,578.5 197.1,576.7 195.6,579.6 192.9,577.9 191.4,580.8 188.6,579.0" fill="none" stroke="#f040b8" stroke-width="0.75"/>
<polyline points="207.6,572.8 205.5,570.3 203.2,572.7 201.1,570.2 198.8,572.5 196.7,570.0 194.4,572.4 192.3,569.9 190.0,572.2 187.9,569.7" fill="none" stroke="#a04cb0" stroke-width="0.75"/>
<polyline points="207.8,570.2 206.2,567.3 203.5,569.1 202.0,566.2 199.2,567.9 197.7,565.1 195.0,566.8 193.5,563.9 190.7,565.7 189.2,562.8" fill="none" stroke="#f040b8" stroke-width="0.75"/>
<polyline points="208.7,567.1 208.0,563.9 204.9,564.9 204.2,561.7 201.1,562.6 200.5,559.4 197.3,560.4 196.7,557.2 193.5,558.1 192.9,554.9" fill="none" stroke="#a04cb0" stroke-width="0.75"/>
<polyline points="210.0,565.0 210.0,561.8 206.7,562.0 206.8,558.8 203.5,559.0 203.5,555.7 200.3,556.0 200.3,552.7 197.1,553.0 197.1,549.7" fill="none" stroke="#f040b8" stroke-width="0.75"/>
<polyline points="212.5,562.5 213.5,559.4 210.4,558.7 211.4,555.6 208.2,554.8 209.2,551.7 206.1,551.0 207.1,547.9 203.9,547.1 204.9,544.0" fill="none" stroke="#a04cb0" stroke-width="0.75"/>
<polyline points="215.5,561.0 217.3,558.4 214.5,556.7 216.3,554.1 213.5,552.4 215.3,549.8 212.5,548.1 214.4,545.5 211.5,543.8 213.4,541.2" fill="none" stroke="#f040b8" stroke-width="0.75"/>
<polyline points="218.0,560.5 220.4,558.3 218.0,556.1 220.4,553.9 218.0,551.7 220.5,549.5 218.1,547.3 220.5,545.1 218.1,542.8 220.5,540.6" fill="none" stroke="#a04cb0" stroke-width="0.75"/>
<polyline points="221.3,560.6 224.2,559.2 222.5,556.4 225.5,554.9 223.8,552.1 226.7,550.7 225.0,547.9 228.0,546.5 226.3,543.7 229.2,542.3" fill="none" stroke="#f040b8" stroke-width="0.75"/>
<polyline points="224.1,561.5 227.3,560.9 226.4,557.7 229.6,557.1 228.6,553.9 231.8,553.3 230.9,550.2 234.1,549.5 233.2,546.4 236.4,545.7" fill="none" stroke="#a04cb0" stroke-width="0.75"/>
<polyline points="226.1,562.7 229.4,562.7 229.1,559.4 232.3,559.4 232.1,556.2 235.3,556.2 235.0,552.9 238.3,552.9 238.0,549.7 241.3,549.7" fill="none" stroke="#f040b8" stroke-width="0.75"/>
<polyline points="228.7,565.4 231.8,566.5 232.6,563.3 235.7,564.4 236.5,561.2 239.6,562.3 240.4,559.1 243.5,560.2 244.2,557.0 247.3,558.1" fill="none" stroke="#a04cb0" stroke-width="0.75"/>
<polyline points="230.1,568.0 232.8,569.7 234.3,566.9 237.1,568.6 238.6,565.8 241.3,567.5 242.9,564.7 245.6,566.4 247.1,563.5 249.9,565.3" fill="none" stroke="#f040b8" stroke-width="0.75"/>
<path d="M235.8,573.6 q1.8,2.4 3.6,0" fill="none" stroke="#1e9a3c" stroke-width="1.5"/>
<path d="M232.1,582.5 q1.8,2.4 3.6,0" fill="none" stroke="#1e9a3c" stroke-width="1.5"/>
<path d="M224.5,588.3 q1.8,2.4 3.6,0" fill="none" stroke="#1e9a3c" stroke-width="1.5"/>
<path d="M215.0,589.6 q1.8,2.4 3.6,0" fill="none" stroke="#1e9a3c" stroke-width="1.5"/>
<path d="M206.1,585.9 q1.8,2.4 3.6,0" fill="none" stroke="#1e9a3c" stroke-width="1.5"/>
<path d="M200.3,578.3 q1.8,2.4 3.6,0" fill="none" stroke="#1e9a3c" stroke-width="1.5"/>
<path d="M199.0,568.8 q1.8,2.4 3.6,0" fill="none" stroke="#1e9a3c" stroke-width="1.5"/>
<path d="M202.7,559.9 q1.8,2.4 3.6,0" fill="none" stroke="#1e9a3c" stroke-width="1.5"/>
<path d="M210.3,554.1 q1.8,2.4 3.6,0" fill="none" stroke="#1e9a3c" stroke-width="1.5"/>
<path d="M219.8,552.8 q1.8,2.4 3.6,0" fill="none" stroke="#1e9a3c" stroke-width="1.5"/>
<path d="M228.7,556.5 q1.8,2.4 3.6,0" fill="none" stroke="#1e9a3c" stroke-width="1.5"/>
<path d="M234.5,564.1 q1.8,2.4 3.6,0" fill="none" stroke="#1e9a3c" stroke-width="1.5"/>
<circle cx="233.6" cy="572.0" r="1.9" fill="#faf25a"/>
<circle cx="231.3" cy="579.8" r="1.9" fill="#faf25a"/>
<circle cx="225.2" cy="585.1" r="1.9" fill="#faf25a"/>
<circle cx="217.2" cy="586.3" r="1.9" fill="#faf25a"/>
<circle cx="209.8" cy="582.9" r="1.9" fill="#faf25a"/>
<circle cx="205.4" cy="576.1" r="1.9" fill="#faf25a"/>
<circle cx="205.4" cy="567.9" r="1.9" fill="#faf25a"/>
<circle cx="209.8" cy="561.1" r="1.9" fill="#faf25a"/>
<circle cx="217.2" cy="557.7" r="1.9" fill="#faf25a"/>
<circle cx="225.2" cy="558.9" r="1.9" fill="#faf25a"/>
<circle cx="231.3" cy="564.2" r="1.9" fill="#faf25a"/>
<circle cx="242.4" cy="576.7" r="1.9" fill="#faf25a"/>
<circle cx="238.8" cy="585.2" r="1.9" fill="#faf25a"/>
<circle cx="232.3" cy="591.7" r="1.9" fill="#faf25a"/>
<circle cx="223.7" cy="595.2" r="1.9" fill="#faf25a"/>
<circle cx="214.5" cy="595.2" r="1.9" fill="#faf25a"/>
<circle cx="206.0" cy="591.6" r="1.9" fill="#faf25a"/>
<circle cx="199.5" cy="585.1" r="1.9" fill="#faf25a"/>
<circle cx="196.0" cy="576.5" r="1.9" fill="#faf25a"/>
<circle cx="196.0" cy="567.3" r="1.9" fill="#faf25a"/>
<circle cx="199.6" cy="558.8" r="1.9" fill="#faf25a"/>
<circle cx="206.1" cy="552.3" r="1.9" fill="#faf25a"/>
<circle cx="214.7" cy="548.8" r="1.9" fill="#faf25a"/>
<circle cx="223.9" cy="548.8" r="1.9" fill="#faf25a"/>
<circle cx="232.4" cy="552.4" r="1.9" fill="#faf25a"/>
<circle cx="238.9" cy="558.9" r="1.9" fill="#faf25a"/>
<circle cx="242.4" cy="567.5" r="1.9" fill="#faf25a"/>
<circle cx="219.2" cy="572" r="33.2" fill="none" stroke="#4060f0" stroke-width="0.8" stroke-dasharray="1,1.1"/>
<ellipse cx="241.2" cy="595.9" rx="11.5" ry="2.9" fill="none" stroke="#3a58f0" stroke-width="0.75" stroke-dasharray="1,1" transform="rotate(137.5 241.2 595.9)"/>
<ellipse cx="222.9" cy="604.3" rx="11.5" ry="2.9" fill="none" stroke="#3a58f0" stroke-width="0.75" stroke-dasharray="1,1" transform="rotate(173.5 222.9 604.3)"/>
<ellipse cx="203.2" cy="600.3" rx="11.5" ry="2.9" fill="none" stroke="#3a58f0" stroke-width="0.75" stroke-dasharray="1,1" transform="rotate(209.5 203.2 600.3)"/>
<ellipse cx="189.6" cy="585.5" rx="11.5" ry="2.9" fill="none" stroke="#3a58f0" stroke-width="0.75" stroke-dasharray="1,1" transform="rotate(245.5 189.6 585.5)"/>
<ellipse cx="187.3" cy="565.5" rx="11.5" ry="2.9" fill="none" stroke="#3a58f0" stroke-width="0.75" stroke-dasharray="1,1" transform="rotate(281.5 187.3 565.5)"/>
<ellipse cx="197.2" cy="548.1" rx="11.5" ry="2.9" fill="none" stroke="#3a58f0" stroke-width="0.75" stroke-dasharray="1,1" transform="rotate(317.5 197.2 548.1)"/>
<ellipse cx="248.8" cy="558.5" rx="11.5" ry="2.9" fill="none" stroke="#3a58f0" stroke-width="0.75" stroke-dasharray="1,1" transform="rotate(425.5 248.8 558.5)"/>
<circle cx="219.2" cy="572" r="11.4" fill="url(#gCore)"/>
<text x="219.2" y="575.4" font-size="8.5" font-style="italic" text-anchor="middle" fill="#50508a" font-family="'Liberation Serif',serif">ZnO</text>
<circle cx="241.8" cy="546.4" r="1.9" fill="#faf560"/>
<circle cx="255.3" cy="594.8" r="1.9" fill="#faf560"/>
<circle cx="268.7" cy="581.9" r="1.9" fill="#faf560"/>
<circle cx="269.6" cy="581.5" r="1.9" fill="#faf560"/>
<circle cx="259.3" cy="543.8" r="1.9" fill="#faf560"/>
<circle cx="264.7" cy="547.8" r="1.9" fill="#faf560"/>
<circle cx="248.5" cy="591.9" r="1.9" fill="#faf560"/>
<circle cx="230.7" cy="536.0" r="1.9" fill="#faf560"/>
<circle cx="248.0" cy="602.5" r="1.9" fill="#faf560"/>
<circle cx="258.6" cy="570.7" r="1.9" fill="#faf560"/>
<circle cx="258.0" cy="558.6" r="1.9" fill="#faf560"/>
<circle cx="252.8" cy="542.3" r="1.9" fill="#faf560"/>
<ellipse cx="206" cy="535" rx="6" ry="2.2" fill="none" stroke="#5060e0" stroke-width="0.7" stroke-dasharray="1.2,1" transform="rotate(-10 206 535)"/>
<ellipse cx="232" cy="529" rx="6" ry="2.2" fill="none" stroke="#5060e0" stroke-width="0.7" stroke-dasharray="1.2,1" transform="rotate(10 232 529)"/>
<ellipse cx="248" cy="540" rx="5" ry="2.2" fill="none" stroke="#5060e0" stroke-width="0.7" stroke-dasharray="1.2,1" transform="rotate(60 248 540)"/>
<ellipse cx="250" cy="575" rx="5" ry="2.2" fill="none" stroke="#5060e0" stroke-width="0.7" stroke-dasharray="1.2,1" transform="rotate(80 250 575)"/>
<ellipse cx="248" cy="592" rx="5" ry="2.2" fill="none" stroke="#5060e0" stroke-width="0.7" stroke-dasharray="1.2,1" transform="rotate(100 248 592)"/>
<ellipse cx="184" cy="570" rx="5" ry="2.2" fill="none" stroke="#5060e0" stroke-width="0.7" stroke-dasharray="1.2,1" transform="rotate(90 184 570)"/>
<circle cx="307.6" cy="572.6" r="32" fill="url(#gPart)"/>
<polyline points="319.1,571.1 321.4,573.4 323.5,571.0 325.8,573.3 327.9,570.9 330.2,573.2 332.3,570.7 334.6,573.1 336.7,570.6 339.0,573.0" fill="none" stroke="#a04cb0" stroke-width="0.75"/>
<polyline points="319.1,574.0 320.7,576.8 323.4,574.9 325.0,577.8 327.7,575.9 329.3,578.7 332.0,576.9 333.6,579.7 336.3,577.9 337.9,580.7" fill="none" stroke="#f040b8" stroke-width="0.75"/>
<polyline points="318.2,577.2 319.0,580.4 322.1,579.4 322.8,582.5 325.9,581.5 326.6,584.7 329.7,583.7 330.5,586.9 333.6,585.9 334.3,589.0" fill="none" stroke="#a04cb0" stroke-width="0.75"/>
<polyline points="316.8,579.6 316.8,582.8 320.1,582.6 320.0,585.8 323.3,585.6 323.3,588.9 326.5,588.6 326.5,591.9 329.7,591.6 329.7,594.9" fill="none" stroke="#f040b8" stroke-width="0.75"/>
<polyline points="314.8,581.7 314.0,584.8 317.2,585.4 316.3,588.5 319.5,589.1 318.7,592.3 321.9,592.8 321.1,596.0 324.3,596.5 323.4,599.7" fill="none" stroke="#a04cb0" stroke-width="0.75"/>
<polyline points="311.8,583.4 310.1,586.1 313.0,587.6 311.3,590.4 314.2,591.9 312.5,594.6 315.4,596.1 313.7,598.9 316.6,600.4 314.9,603.1" fill="none" stroke="#f040b8" stroke-width="0.75"/>
<polyline points="308.3,584.2 305.8,586.3 308.1,588.6 305.6,590.7 307.9,593.0 305.5,595.1 307.8,597.4 305.3,599.5 307.6,601.8 305.1,603.9" fill="none" stroke="#a04cb0" stroke-width="0.75"/>
<polyline points="305.4,584.0 302.5,585.4 304.2,588.2 301.2,589.6 302.9,592.4 300.0,593.8 301.6,596.6 298.7,598.1 300.4,600.9 297.4,602.3" fill="none" stroke="#f040b8" stroke-width="0.75"/>
<polyline points="302.6,583.0 299.4,583.7 300.3,586.8 297.1,587.4 298.0,590.6 294.8,591.2 295.7,594.3 292.5,594.9 293.4,598.1 290.2,598.7" fill="none" stroke="#a04cb0" stroke-width="0.75"/>
<polyline points="300.6,581.8 297.3,581.7 297.5,585.0 294.3,584.9 294.5,588.2 291.2,588.2 291.5,591.4 288.2,591.4 288.4,594.6 285.2,594.6" fill="none" stroke="#f040b8" stroke-width="0.75"/>
<polyline points="298.2,579.4 295.1,578.4 294.4,581.6 291.3,580.6 290.5,583.7 287.4,582.8 286.7,585.9 283.6,584.9 282.9,588.1 279.8,587.1" fill="none" stroke="#a04cb0" stroke-width="0.75"/>
<polyline points="296.9,577.0 294.1,575.3 292.6,578.2 289.9,576.5 288.4,579.5 285.6,577.8 284.2,580.7 281.4,579.0 279.9,581.9 277.2,580.2" fill="none" stroke="#f040b8" stroke-width="0.75"/>
<polyline points="296.1,574.2 293.8,571.8 291.7,574.3 289.4,572.0 287.3,574.5 285.0,572.1 282.9,574.6 280.6,572.3 278.5,574.8 276.2,572.4" fill="none" stroke="#a04cb0" stroke-width="0.75"/>
<polyline points="296.1,571.2 294.5,568.4 291.8,570.3 290.2,567.4 287.5,569.3 285.9,566.5 283.2,568.3 281.6,565.5 278.9,567.3 277.3,564.5" fill="none" stroke="#f040b8" stroke-width="0.75"/>
<polyline points="296.9,568.2 296.1,565.0 293.0,566.1 292.2,562.9 289.1,564.0 288.3,560.8 285.3,561.9 284.5,558.7 281.4,559.8 280.6,556.6" fill="none" stroke="#a04cb0" stroke-width="0.75"/>
<polyline points="298.9,564.9 299.2,561.7 295.9,561.7 296.2,558.4 293.0,558.4 293.2,555.2 290.0,555.2 290.3,551.9 287.0,551.9 287.3,548.7" fill="none" stroke="#f040b8" stroke-width="0.75"/>
<polyline points="301.1,563.0 302.2,559.9 299.0,559.1 300.1,556.0 297.0,555.2 298.0,552.2 294.9,551.3 296.0,548.3 292.8,547.5 293.9,544.4" fill="none" stroke="#a04cb0" stroke-width="0.75"/>
<polyline points="303.8,561.7 305.6,559.0 302.8,557.4 304.6,554.7 301.8,553.1 303.6,550.4 300.8,548.8 302.6,546.1 299.8,544.5 301.6,541.8" fill="none" stroke="#f040b8" stroke-width="0.75"/>
<polyline points="306.7,561.0 309.2,558.9 306.9,556.6 309.3,554.5 307.0,552.2 309.5,550.1 307.1,547.8 309.6,545.7 307.3,543.4 309.7,541.3" fill="none" stroke="#a04cb0" stroke-width="0.75"/>
<polyline points="309.1,561.1 311.9,559.5 310.1,556.8 312.9,555.2 311.1,552.5 313.9,550.9 312.1,548.2 314.9,546.6 313.1,543.9 316.0,542.3" fill="none" stroke="#f040b8" stroke-width="0.75"/>
<polyline points="312.1,561.9 315.3,561.2 314.3,558.1 317.4,557.3 316.4,554.2 319.5,553.4 318.5,550.4 321.7,549.6 320.6,546.5 323.8,545.7" fill="none" stroke="#a04cb0" stroke-width="0.75"/>
<polyline points="315.0,563.7 318.3,563.9 318.2,560.6 321.4,560.8 321.3,557.5 324.6,557.7 324.5,554.5 327.7,554.6 327.6,551.4 330.9,551.6" fill="none" stroke="#f040b8" stroke-width="0.75"/>
<polyline points="317.1,566.0 320.2,567.1 321.0,563.9 324.1,565.0 324.9,561.8 328.0,562.8 328.7,559.7 331.8,560.7 332.6,557.6 335.7,558.6" fill="none" stroke="#a04cb0" stroke-width="0.75"/>
<polyline points="318.6,568.8 321.2,570.7 322.9,567.9 325.5,569.7 327.1,566.9 329.8,568.7 331.4,565.9 334.1,567.7 335.7,564.9 338.4,566.7" fill="none" stroke="#f040b8" stroke-width="0.75"/>
<path d="M324.2,574.2 q1.8,2.4 3.6,0" fill="none" stroke="#1e9a3c" stroke-width="1.5"/>
<path d="M320.5,583.1 q1.8,2.4 3.6,0" fill="none" stroke="#1e9a3c" stroke-width="1.5"/>
<path d="M312.9,588.9 q1.8,2.4 3.6,0" fill="none" stroke="#1e9a3c" stroke-width="1.5"/>
<path d="M303.4,590.2 q1.8,2.4 3.6,0" fill="none" stroke="#1e9a3c" stroke-width="1.5"/>
<path d="M294.5,586.5 q1.8,2.4 3.6,0" fill="none" stroke="#1e9a3c" stroke-width="1.5"/>
<path d="M288.7,578.9 q1.8,2.4 3.6,0" fill="none" stroke="#1e9a3c" stroke-width="1.5"/>
<path d="M287.4,569.4 q1.8,2.4 3.6,0" fill="none" stroke="#1e9a3c" stroke-width="1.5"/>
<path d="M291.1,560.5 q1.8,2.4 3.6,0" fill="none" stroke="#1e9a3c" stroke-width="1.5"/>
<path d="M298.7,554.7 q1.8,2.4 3.6,0" fill="none" stroke="#1e9a3c" stroke-width="1.5"/>
<path d="M308.2,553.4 q1.8,2.4 3.6,0" fill="none" stroke="#1e9a3c" stroke-width="1.5"/>
<path d="M317.1,557.1 q1.8,2.4 3.6,0" fill="none" stroke="#1e9a3c" stroke-width="1.5"/>
<path d="M322.9,564.7 q1.8,2.4 3.6,0" fill="none" stroke="#1e9a3c" stroke-width="1.5"/>
<ellipse cx="311.3" cy="604.9" rx="11.5" ry="2.9" fill="none" stroke="#3a58f0" stroke-width="0.75" stroke-dasharray="1,1" transform="rotate(173.5 311.3 604.9)"/>
<ellipse cx="291.6" cy="600.9" rx="11.5" ry="2.9" fill="none" stroke="#3a58f0" stroke-width="0.75" stroke-dasharray="1,1" transform="rotate(209.5 291.6 600.9)"/>
<ellipse cx="278.0" cy="586.1" rx="11.5" ry="2.9" fill="none" stroke="#3a58f0" stroke-width="0.75" stroke-dasharray="1,1" transform="rotate(245.5 278.0 586.1)"/>
<ellipse cx="275.7" cy="566.1" rx="11.5" ry="2.9" fill="none" stroke="#3a58f0" stroke-width="0.75" stroke-dasharray="1,1" transform="rotate(281.5 275.7 566.1)"/>
<ellipse cx="337.2" cy="559.1" rx="11.5" ry="2.9" fill="none" stroke="#3a58f0" stroke-width="0.75" stroke-dasharray="1,1" transform="rotate(425.5 337.2 559.1)"/>
<circle cx="307.6" cy="572.6" r="11.4" fill="url(#gCore)"/>
<text x="307.6" y="576.0" font-size="8.5" font-style="italic" text-anchor="middle" fill="#50508a" font-family="'Liberation Serif',serif">ZnO</text>
<circle cx="336.7" cy="592.5" r="1.9" fill="#faf560"/>
<circle cx="353.9" cy="568.6" r="1.9" fill="#faf560"/>
<circle cx="342.6" cy="560.4" r="1.9" fill="#faf560"/>
<circle cx="339.9" cy="558.3" r="1.9" fill="#faf560"/>
<circle cx="344.8" cy="606.3" r="1.9" fill="#faf560"/>
<circle cx="345.9" cy="563.6" r="1.9" fill="#faf560"/>
<circle cx="342.5" cy="600.4" r="1.9" fill="#faf560"/>
<circle cx="348.6" cy="601.0" r="1.9" fill="#faf560"/>
<circle cx="346.9" cy="559.2" r="1.9" fill="#faf560"/>
<circle cx="349.3" cy="568.3" r="1.9" fill="#faf560"/>
<circle cx="322.0" cy="535.9" r="1.9" fill="#faf560"/>
<circle cx="338.9" cy="587.0" r="1.9" fill="#faf560"/>
<circle cx="311.5" cy="527.1" r="1.9" fill="#faf560"/>
<circle cx="334.9" cy="538.3" r="1.9" fill="#faf560"/>
<circle cx="344.3" cy="556.1" r="1.9" fill="#faf560"/>
<circle cx="331.0" cy="601.7" r="1.9" fill="#faf560"/>
<circle cx="339.2" cy="552.4" r="1.9" fill="#faf560"/>
<circle cx="346.5" cy="571.9" r="1.9" fill="#faf560"/>
<circle cx="343.9" cy="541.3" r="1.9" fill="#faf560"/>
<circle cx="338.5" cy="540.9" r="1.9" fill="#faf560"/>
<circle cx="335.7" cy="594.4" r="1.9" fill="#faf560"/>
<circle cx="312.3" cy="534.9" r="1.9" fill="#faf560"/>
<circle cx="350.8" cy="586.6" r="1.9" fill="#faf560"/>
<circle cx="329.0" cy="538.8" r="1.9" fill="#faf560"/>
<circle cx="324.7" cy="533.8" r="1.9" fill="#faf560"/>
<circle cx="311.3" cy="525.8" r="1.9" fill="#faf560"/>
<circle cx="349.3" cy="603.6" r="1.9" fill="#faf560"/>
<circle cx="358.2" cy="584.8" r="1.9" fill="#faf560"/>
<circle cx="308.2" cy="533.5" r="1.9" fill="#faf560"/>
<circle cx="340.9" cy="607.9" r="1.9" fill="#faf560"/>
<ellipse cx="290" cy="532" rx="6" ry="2.2" fill="none" stroke="#5060e0" stroke-width="0.7" stroke-dasharray="1.2,1" transform="rotate(-10 290 532)"/>
<ellipse cx="310" cy="527" rx="6" ry="2.2" fill="none" stroke="#5060e0" stroke-width="0.7" stroke-dasharray="1.2,1" transform="rotate(0 310 527)"/>
<ellipse cx="334" cy="536" rx="5" ry="2.2" fill="none" stroke="#5060e0" stroke-width="0.7" stroke-dasharray="1.2,1" transform="rotate(40 334 536)"/>
<ellipse cx="345" cy="565" rx="5" ry="2.2" fill="none" stroke="#5060e0" stroke-width="0.7" stroke-dasharray="1.2,1" transform="rotate(90 345 565)"/>
<ellipse cx="341" cy="590" rx="5" ry="2.2" fill="none" stroke="#5060e0" stroke-width="0.7" stroke-dasharray="1.2,1" transform="rotate(110 341 590)"/>
<ellipse cx="275" cy="552" rx="5" ry="2.2" fill="none" stroke="#5060e0" stroke-width="0.7" stroke-dasharray="1.2,1" transform="rotate(-60 275 552)"/>
<ellipse cx="270" cy="580" rx="5" ry="2.2" fill="none" stroke="#5060e0" stroke-width="0.7" stroke-dasharray="1.2,1" transform="rotate(90 270 580)"/>
<path d="M86.5,604.5 C88.5,617.8 107,617.8 109.5,607.0" fill="none" stroke="url(#gArrow)" stroke-width="3.6" stroke-linecap="round"/>
<path d="M105.5,608.0 L111.5,601.0 L113.5,609.5 Z" fill="#3a88c8"/>
<path d="M165.5,604.5 C167.5,617.8 187,617.8 189.5,607.0" fill="none" stroke="url(#gArrow)" stroke-width="3.6" stroke-linecap="round"/>
<path d="M185.5,608.0 L191.5,601.0 L193.5,609.5 Z" fill="#3a88c8"/>
<path d="M256.5,601.5 C258.5,614.8 278,614.8 280.5,604.0" fill="none" stroke="url(#gArrow)" stroke-width="3.6" stroke-linecap="round"/>
<path d="M276.5,605.0 L282.5,598.0 L284.5,606.5 Z" fill="#3a88c8"/>
<text x="37.32" y="615.80" font-size="4.6" font-weight="bold" fill="#333" stroke="#333" stroke-width="0.10" font-family="'Liberation Serif','Times New Roman',serif" textLength="42.27" lengthAdjust="spacingAndGlyphs">Curcumin loaded ZnO</text>
<text x="51.32" y="622.00" font-size="4.6" font-weight="bold" fill="#333" stroke="#333" stroke-width="0.10" font-family="'Liberation Serif','Times New Roman',serif" textLength="24.37" lengthAdjust="spacingAndGlyphs">nanoparticle</text>
<text x="114.11" y="612.30" font-size="4.8" font-weight="bold" fill="#333" stroke="#333" stroke-width="0.11" font-family="'Liberation Serif','Times New Roman',serif" textLength="54.58" lengthAdjust="spacingAndGlyphs">Co-polymer breaking</text>
<text x="216.80" y="613.60" font-size="5" font-weight="bold" fill="#333" stroke="#333" stroke-width="0.11" font-family="'Liberation Serif','Times New Roman',serif" textLength="18.80" lengthAdjust="spacingAndGlyphs">pH 7.2</text>
<text x="303.70" y="617.00" font-size="5" font-weight="bold" fill="#333" stroke="#333" stroke-width="0.11" font-family="'Liberation Serif','Times New Roman',serif" textLength="14.90" lengthAdjust="spacingAndGlyphs">pH 5.4</text>
<path d="M309,622 C327,630 336,646 328,656 C322,663 312,665 303,665 L303,671.5 L291,664.5 L302,656 L302,660 C310,660 318,656 320,650 C324,640 316,632 306,628 Z" fill="url(#gArrowB)" stroke="#2a5a98" stroke-width="0.5"/>
<ellipse cx="192.9" cy="667.5" rx="97" ry="51" fill="url(#gCell)"/>
<ellipse cx="192.9" cy="667.5" rx="96" ry="50" fill="none" stroke="#7a1a80" stroke-width="1.5" opacity="0.6"/>
<path d="M220.6,655.3 A18.0,18.0 0 0 1 236.4,642.1" fill="none" stroke="#f47ab8" stroke-width="2.4" stroke-linecap="round"/>
<path d="M217.1,654.4 A21.6,21.6 0 0 1 236.1,638.5" fill="none" stroke="#f47ab8" stroke-width="2.4" stroke-linecap="round"/>
<path d="M213.7,653.5 A25.2,25.2 0 0 1 235.8,634.9" fill="none" stroke="#f47ab8" stroke-width="2.4" stroke-linecap="round"/>
<path d="M210.2,652.5 A28.8,28.8 0 0 1 235.5,631.3" fill="none" stroke="#f47ab8" stroke-width="2.4" stroke-linecap="round"/>
<path d="M206.7,651.6 A32.4,32.4 0 0 1 235.2,627.7" fill="none" stroke="#f47ab8" stroke-width="2.4" stroke-linecap="round"/>
<path d="M264.9,702.1 A20.0,20.0 0 0 1 266.7,672.2" fill="none" stroke="#f47ab8" stroke-width="2.4" stroke-linecap="round"/>
<path d="M262.3,704.7 A23.6,23.6 0 0 1 264.5,669.4" fill="none" stroke="#f47ab8" stroke-width="2.4" stroke-linecap="round"/>
<path d="M259.8,707.2 A27.2,27.2 0 0 1 262.3,666.6" fill="none" stroke="#f47ab8" stroke-width="2.4" stroke-linecap="round"/>
<path d="M257.2,709.8 A30.8,30.8 0 0 1 260.0,663.7" fill="none" stroke="#f47ab8" stroke-width="2.4" stroke-linecap="round"/>
<path d="M254.7,712.3 A34.4,34.4 0 0 1 257.8,660.9" fill="none" stroke="#f47ab8" stroke-width="2.4" stroke-linecap="round"/>
<ellipse cx="168" cy="639.8" rx="17" ry="12" fill="url(#gMito)"/>
<path d="M157,640.8 q2.75,-9 5.5,0 t5.5,0 t5.5,0 t5.5,0" fill="none" stroke="#fff" stroke-width="0.9"/>
<path d="M159,643.8 q2.5,-8 5,0 t5,0 t5,0" fill="none" stroke="#f8d0f8" stroke-width="0.7"/>
<ellipse cx="155" cy="693.6" rx="17" ry="12" fill="url(#gMito)"/>
<path d="M144,694.6 q2.75,-9 5.5,0 t5.5,0 t5.5,0 t5.5,0" fill="none" stroke="#fff" stroke-width="0.9"/>
<path d="M146,697.6 q2.5,-8 5,0 t5,0 t5,0" fill="none" stroke="#f8d0f8" stroke-width="0.7"/>
<ellipse cx="213.6" cy="689.5" rx="30" ry="12.4" fill="#f2ea1a"/>
<path d="M196,696 q4.5,-16 9,0 t9,0 t9,0" fill="none" stroke="#d02020" stroke-width="1.4"/>
<path d="M199,696 q4.5,-14 9,0 t9,0 t9,0" fill="none" stroke="#2040c0" stroke-width="1.2"/>
<circle cx="115.7" cy="666" r="20" fill="url(#gPart)"/>
<line x1="123.7" y1="666.0" x2="134.2" y2="666.0" stroke="#c060b0" stroke-width="0.6"/>
<circle cx="129.5" cy="668.4" r="1" fill="#30a050"/>
<line x1="123.2" y1="668.7" x2="133.1" y2="672.3" stroke="#c060b0" stroke-width="0.6"/>
<circle cx="127.9" cy="672.9" r="1" fill="#30a050"/>
<line x1="121.8" y1="671.1" x2="129.9" y2="677.9" stroke="#c060b0" stroke-width="0.6"/>
<circle cx="124.7" cy="676.7" r="1" fill="#30a050"/>
<line x1="119.7" y1="672.9" x2="125.0" y2="682.0" stroke="#c060b0" stroke-width="0.6"/>
<circle cx="120.5" cy="679.1" r="1" fill="#30a050"/>
<line x1="117.1" y1="673.9" x2="118.9" y2="684.2" stroke="#c060b0" stroke-width="0.6"/>
<circle cx="115.8" cy="680.0" r="1" fill="#30a050"/>
<line x1="114.3" y1="673.9" x2="112.5" y2="684.2" stroke="#c060b0" stroke-width="0.6"/>
<circle cx="111.0" cy="679.2" r="1" fill="#30a050"/>
<line x1="111.7" y1="672.9" x2="106.5" y2="682.0" stroke="#c060b0" stroke-width="0.6"/>
<circle cx="106.7" cy="676.8" r="1" fill="#30a050"/>
<line x1="109.6" y1="671.1" x2="101.5" y2="677.9" stroke="#c060b0" stroke-width="0.6"/>
<circle cx="103.6" cy="673.1" r="1" fill="#30a050"/>
<line x1="108.2" y1="668.7" x2="98.3" y2="672.3" stroke="#c060b0" stroke-width="0.6"/>
<circle cx="101.9" cy="668.5" r="1" fill="#30a050"/>
<line x1="107.7" y1="666.0" x2="97.2" y2="666.0" stroke="#c060b0" stroke-width="0.6"/>
<circle cx="101.9" cy="663.6" r="1" fill="#30a050"/>
<line x1="108.2" y1="663.3" x2="98.3" y2="659.7" stroke="#c060b0" stroke-width="0.6"/>
<circle cx="103.5" cy="659.1" r="1" fill="#30a050"/>
<line x1="109.6" y1="660.9" x2="101.5" y2="654.1" stroke="#c060b0" stroke-width="0.6"/>
<circle cx="106.7" cy="655.3" r="1" fill="#30a050"/>
<line x1="111.7" y1="659.1" x2="106.4" y2="650.0" stroke="#c060b0" stroke-width="0.6"/>
<circle cx="110.9" cy="652.9" r="1" fill="#30a050"/>
<line x1="114.3" y1="658.1" x2="112.5" y2="647.8" stroke="#c060b0" stroke-width="0.6"/>
<circle cx="115.6" cy="652.0" r="1" fill="#30a050"/>
<line x1="117.1" y1="658.1" x2="118.9" y2="647.8" stroke="#c060b0" stroke-width="0.6"/>
<circle cx="120.4" cy="652.8" r="1" fill="#30a050"/>
<line x1="119.7" y1="659.1" x2="124.9" y2="650.0" stroke="#c060b0" stroke-width="0.6"/>
<circle cx="124.7" cy="655.2" r="1" fill="#30a050"/>
<line x1="121.8" y1="660.9" x2="129.9" y2="654.1" stroke="#c060b0" stroke-width="0.6"/>
<circle cx="127.8" cy="658.9" r="1" fill="#30a050"/>
<line x1="123.2" y1="663.3" x2="133.1" y2="659.7" stroke="#c060b0" stroke-width="0.6"/>
<circle cx="129.5" cy="663.5" r="1" fill="#30a050"/>
<circle cx="115.7" cy="666" r="7" fill="url(#gCore)"/>
<circle cx="160" cy="666.5" r="9" fill="#d8b0e0" stroke="#b070c8" stroke-width="1.8" stroke-dasharray="1.2,0.8"/>
<circle cx="160" cy="666.5" r="4.3" fill="url(#gCore)"/>
<circle cx="191.5" cy="663.6" r="9" fill="#d8b0e0" stroke="#b070c8" stroke-width="1.8" stroke-dasharray="1.2,0.8"/>
<circle cx="191.5" cy="663.6" r="4.3" fill="url(#gCore)"/>
<circle cx="153.0" cy="634.0" r="1.3" fill="#f8f27a"/>
<circle cx="141.7" cy="630.8" r="1.3" fill="#f8f27a"/>
<circle cx="248.5" cy="694.6" r="1.5" fill="#f8f27a"/>
<circle cx="151.1" cy="671.7" r="1.2" fill="#f8f27a"/>
<circle cx="144.2" cy="634.2" r="1.2" fill="#f8f27a"/>
<circle cx="249.8" cy="697.1" r="1.6" fill="#f8f27a"/>
<circle cx="232.1" cy="641.8" r="1.2" fill="#f8f27a"/>
<circle cx="207.8" cy="688.7" r="1.6" fill="#f8f27a"/>
<circle cx="243.2" cy="632.5" r="1.4" fill="#f8f27a"/>
<circle cx="214.0" cy="669.0" r="1.1" fill="#f8f27a"/>
<circle cx="186.3" cy="632.8" r="1.7" fill="#f8f27a"/>
<circle cx="241.2" cy="672.6" r="1.2" fill="#f8f27a"/>
<circle cx="247.2" cy="674.8" r="1.6" fill="#f8f27a"/>
<circle cx="238.7" cy="669.2" r="1.3" fill="#f8f27a"/>
<circle cx="203.8" cy="662.5" r="1.1" fill="#f8f27a"/>
<circle cx="162.7" cy="695.7" r="1.0" fill="#f8f27a"/>
<circle cx="126.5" cy="679.5" r="1.2" fill="#f8f27a"/>
<circle cx="194.8" cy="666.0" r="1.2" fill="#f8f27a"/>
<circle cx="259.6" cy="642.0" r="1.3" fill="#f8f27a"/>
<circle cx="148.4" cy="680.0" r="1.2" fill="#f8f27a"/>
<circle cx="169.8" cy="690.0" r="1.2" fill="#f8f27a"/>
<circle cx="198.2" cy="703.7" r="1.1" fill="#f8f27a"/>
<circle cx="128.6" cy="644.9" r="1.5" fill="#f8f27a"/>
<circle cx="206.2" cy="645.7" r="1.2" fill="#f8f27a"/>
<circle cx="144.9" cy="664.9" r="1.0" fill="#f8f27a"/>
<circle cx="217.6" cy="702.9" r="1.7" fill="#f8f27a"/>
<circle cx="222.9" cy="708.5" r="1.0" fill="#f8f27a"/>
<circle cx="160.5" cy="709.0" r="1.5" fill="#f8f27a"/>
<circle cx="177.5" cy="707.1" r="1.4" fill="#f8f27a"/>
<circle cx="234.5" cy="650.5" r="1.1" fill="#f8f27a"/>
<circle cx="182.2" cy="636.9" r="1.3" fill="#f8f27a"/>
<circle cx="254.7" cy="653.8" r="1.0" fill="#f8f27a"/>
<circle cx="126.3" cy="639.8" r="1.5" fill="#f8f27a"/>
<circle cx="170.8" cy="650.3" r="1.1" fill="#f8f27a"/>
<circle cx="257.4" cy="661.9" r="1.1" fill="#f8f27a"/>
<circle cx="143.6" cy="683.9" r="1.1" fill="#f8f27a"/>
<circle cx="125.7" cy="667.7" r="1.2" fill="#f8f27a"/>
<circle cx="259.7" cy="635.6" r="1.4" fill="#f8f27a"/>
<circle cx="228.3" cy="660.6" r="1.7" fill="#f8f27a"/>
<circle cx="186.9" cy="646.0" r="1.3" fill="#f8f27a"/>
<circle cx="125.2" cy="661.6" r="1.2" fill="#f8f27a"/>
<circle cx="244.5" cy="697.3" r="1.3" fill="#f8f27a"/>
<circle cx="124.4" cy="647.1" r="1.2" fill="#f8f27a"/>
<circle cx="149.1" cy="645.1" r="1.6" fill="#f8f27a"/>
<circle cx="139.8" cy="629.5" r="1.6" fill="#f8f27a"/>
<circle cx="199.1" cy="711.2" r="1.3" fill="#f8f27a"/>
<circle cx="246.1" cy="681.9" r="1.6" fill="#f8f27a"/>
<circle cx="224.3" cy="668.0" r="1.1" fill="#f8f27a"/>
<circle cx="149.5" cy="701.0" r="1.6" fill="#f8f27a"/>
<circle cx="249.4" cy="654.3" r="1.5" fill="#f8f27a"/>
<circle cx="231.9" cy="680.9" r="1.6" fill="#f8f27a"/>
<circle cx="193.9" cy="682.0" r="1.5" fill="#f8f27a"/>
<circle cx="157.6" cy="705.3" r="1.7" fill="#f8f27a"/>
<circle cx="254.6" cy="683.1" r="1.0" fill="#f8f27a"/>
<circle cx="245.9" cy="636.1" r="1.7" fill="#f8f27a"/>
<circle cx="213.4" cy="630.3" r="1.1" fill="#f8f27a"/>
<circle cx="208.9" cy="674.5" r="1.5" fill="#f8f27a"/>
<circle cx="249.8" cy="644.0" r="1.0" fill="#f8f27a"/>
<path d="M197,670 L203,668 L217,688 L236,655 L239,657 L219,694 L214,694 Z" fill="#3ee03e" stroke="#22a022" stroke-width="0.4"/>
<path d="M205,664 L210,662 L218,684 L215,686 Z" fill="#3ee03e"/>
<polygon points="232.4,711.0 236.6,720.1 247.7,714.4 243.3,723.5 257.1,723.4 245.9,729.0 257.1,734.6 243.3,734.5 247.7,743.6 236.6,737.9 232.4,747.0 228.2,737.9 217.1,743.6 221.5,734.5 207.7,734.6 218.9,729.0 207.7,723.4 221.5,723.5 217.1,714.4 228.2,720.1" fill="#f030f0" stroke="#c020c0" stroke-width="0.5"/>
<text x="234.0" y="728.0" font-size="4.4" font-weight="bold" text-anchor="middle" fill="#500050" font-family="'Liberation Serif',serif" >Apoptosis</text>
<text x="168.66" y="728.50" font-size="8.6" font-weight="bold" fill="#222" stroke="#222" stroke-width="0.19" font-family="'Liberation Serif','Times New Roman',serif" textLength="36.19" lengthAdjust="spacingAndGlyphs">Cell death</text>
<text x="192.0" y="624.5" font-size="4" font-weight="normal" text-anchor="middle" fill="#603060" font-family="'Liberation Serif',serif" >ROS reduction</text>
<text x="184.0" y="680.0" font-size="4" font-weight="bold" text-anchor="middle" fill="#402040" font-family="'Liberation Serif',serif" >Releasing curcumin</text>
<text x="211.0" y="706.5" font-size="4" font-weight="bold" text-anchor="middle" fill="#402040" font-family="'Liberation Serif',serif" >DNA Damage</text>
<text x="112.0" y="690.5" font-size="3.6" font-weight="bold" text-anchor="middle" fill="#402040" font-family="'Liberation Serif',serif" >Internalization</text>
<text x="158.0" y="708.0" font-size="3.6" font-weight="bold" text-anchor="middle" fill="#402040" font-family="'Liberation Serif',serif" >Mitochondria</text>
<text x="170.0" y="713.0" font-size="3.6" font-weight="bold" text-anchor="middle" fill="#402040" font-family="'Liberation Serif',serif" >Membrane potential loss</text>
<rect x="427.5" y="515.5" width="274.5" height="203.10000000000002" fill="none" stroke="#222" stroke-width="1.8"/>
<line x1="422.5" y1="718.6" x2="427.5" y2="718.6" stroke="#222" stroke-width="1.2" />
<text x="420.5" y="722.2" font-size="10" font-weight="bold" text-anchor="end" fill="#222" font-family="'Liberation Sans',Arial,sans-serif" >0</text>
<line x1="422.5" y1="678.1" x2="427.5" y2="678.1" stroke="#222" stroke-width="1.2" />
<text x="420.5" y="681.7" font-size="10" font-weight="bold" text-anchor="end" fill="#222" font-family="'Liberation Sans',Arial,sans-serif" >20</text>
<line x1="422.5" y1="637.6" x2="427.5" y2="637.6" stroke="#222" stroke-width="1.2" />
<text x="420.5" y="641.2" font-size="10" font-weight="bold" text-anchor="end" fill="#222" font-family="'Liberation Sans',Arial,sans-serif" >40</text>
<line x1="422.5" y1="597.1" x2="427.5" y2="597.1" stroke="#222" stroke-width="1.2" />
<text x="420.5" y="600.7" font-size="10" font-weight="bold" text-anchor="end" fill="#222" font-family="'Liberation Sans',Arial,sans-serif" >60</text>
<line x1="422.5" y1="556.6" x2="427.5" y2="556.6" stroke="#222" stroke-width="1.2" />
<text x="420.5" y="560.2" font-size="10" font-weight="bold" text-anchor="end" fill="#222" font-family="'Liberation Sans',Arial,sans-serif" >80</text>
<line x1="422.5" y1="516.1" x2="427.5" y2="516.1" stroke="#222" stroke-width="1.2" />
<text x="420.5" y="519.7" font-size="10" font-weight="bold" text-anchor="end" fill="#222" font-family="'Liberation Sans',Arial,sans-serif" >100</text>
<line x1="424.5" y1="698.4" x2="427.5" y2="698.4" stroke="#222" stroke-width="1.0" />
<line x1="424.5" y1="657.9" x2="427.5" y2="657.9" stroke="#222" stroke-width="1.0" />
<line x1="424.5" y1="617.4" x2="427.5" y2="617.4" stroke="#222" stroke-width="1.0" />
<line x1="424.5" y1="576.9" x2="427.5" y2="576.9" stroke="#222" stroke-width="1.0" />
<line x1="424.5" y1="536.4" x2="427.5" y2="536.4" stroke="#222" stroke-width="1.0" />
<line x1="427.5" y1="718.6" x2="427.5" y2="723.6" stroke="#222" stroke-width="1.2" />
<text x="427.5" y="735.0" font-size="10" font-weight="bold" text-anchor="middle" fill="#222" font-family="'Liberation Sans',Arial,sans-serif" >0</text>
<line x1="469.2" y1="718.6" x2="469.2" y2="723.6" stroke="#222" stroke-width="1.2" />
<text x="469.2" y="735.0" font-size="10" font-weight="bold" text-anchor="middle" fill="#222" font-family="'Liberation Sans',Arial,sans-serif" >5</text>
<line x1="510.9" y1="718.6" x2="510.9" y2="723.6" stroke="#222" stroke-width="1.2" />
<text x="510.9" y="735.0" font-size="10" font-weight="bold" text-anchor="middle" fill="#222" font-family="'Liberation Sans',Arial,sans-serif" >10</text>
<line x1="552.6" y1="718.6" x2="552.6" y2="723.6" stroke="#222" stroke-width="1.2" />
<text x="552.6" y="735.0" font-size="10" font-weight="bold" text-anchor="middle" fill="#222" font-family="'Liberation Sans',Arial,sans-serif" >15</text>
<line x1="594.3" y1="718.6" x2="594.3" y2="723.6" stroke="#222" stroke-width="1.2" />
<text x="594.3" y="735.0" font-size="10" font-weight="bold" text-anchor="middle" fill="#222" font-family="'Liberation Sans',Arial,sans-serif" >20</text>
<line x1="636.0" y1="718.6" x2="636.0" y2="723.6" stroke="#222" stroke-width="1.2" />
<text x="636.0" y="735.0" font-size="10" font-weight="bold" text-anchor="middle" fill="#222" font-family="'Liberation Sans',Arial,sans-serif" >25</text>
<line x1="677.7" y1="718.6" x2="677.7" y2="723.6" stroke="#222" stroke-width="1.2" />
<text x="677.7" y="735.0" font-size="10" font-weight="bold" text-anchor="middle" fill="#222" font-family="'Liberation Sans',Arial,sans-serif" >30</text>
<line x1="448.4" y1="718.6" x2="448.4" y2="721.6" stroke="#222" stroke-width="1.0" />
<line x1="490.1" y1="718.6" x2="490.1" y2="721.6" stroke="#222" stroke-width="1.0" />
<line x1="531.8" y1="718.6" x2="531.8" y2="721.6" stroke="#222" stroke-width="1.0" />
<line x1="573.5" y1="718.6" x2="573.5" y2="721.6" stroke="#222" stroke-width="1.0" />
<line x1="615.1" y1="718.6" x2="615.1" y2="721.6" stroke="#222" stroke-width="1.0" />
<line x1="656.9" y1="718.6" x2="656.9" y2="721.6" stroke="#222" stroke-width="1.0" />
<line x1="698.5" y1="718.6" x2="698.5" y2="721.6" stroke="#222" stroke-width="1.0" />
<text x="524.15" y="748.10" font-size="16.2" font-weight="bold" fill="#111" stroke="#111" stroke-width="0.36" font-family="'Liberation Sans',Arial,sans-serif" textLength="64.20" lengthAdjust="spacingAndGlyphs">Time (h)</text>
<text x="0" y="0" transform="translate(401.30,695.69) rotate(-90)" font-size="12.3" font-weight="bold" fill="#222" stroke="#222" stroke-width="0.27" font-family="'Liberation Sans',Arial,sans-serif" textLength="139.58" lengthAdjust="spacingAndGlyphs">Cumulative release (%)</text>
<text x="432.00" y="529.80" font-size="12.5" font-weight="bold" fill="#111" stroke="#111" stroke-width="0.27" font-family="'Liberation Sans',Arial,sans-serif" textLength="19.30" lengthAdjust="spacingAndGlyphs">(b)</text>
<polyline points="427.5,718.6 435.8,714.6 444.2,712.5 460.9,708.5 477.5,706.5 494.2,702.4 510.9,698.4 527.6,692.3 544.3,690.2 560.9,684.2 577.6,680.1 594.3,676.1 611.0,674.1 627.7,670.0 644.3,668.0 661.0,666.0 677.7,663.9 694.4,663.9" fill="none" stroke="#222" stroke-width="1.3" stroke-linejoin="round" />
<line x1="427.5" y1="715.4" x2="427.5" y2="721.8" stroke="#222" stroke-width="1.0" />
<line x1="425.7" y1="715.4" x2="429.3" y2="715.4" stroke="#222" stroke-width="1.0" />
<line x1="425.7" y1="721.8" x2="429.3" y2="721.8" stroke="#222" stroke-width="1.0" />
<circle cx="427.5" cy="718.6" r="2.3" fill="#222"/>
<line x1="435.8" y1="711.3" x2="435.8" y2="717.8" stroke="#222" stroke-width="1.0" />
<line x1="434.0" y1="711.3" x2="437.6" y2="711.3" stroke="#222" stroke-width="1.0" />
<line x1="434.0" y1="717.8" x2="437.6" y2="717.8" stroke="#222" stroke-width="1.0" />
<circle cx="435.8" cy="714.6" r="2.3" fill="#222"/>
<line x1="444.2" y1="709.3" x2="444.2" y2="715.8" stroke="#222" stroke-width="1.0" />
<line x1="442.4" y1="709.3" x2="446.0" y2="709.3" stroke="#222" stroke-width="1.0" />
<line x1="442.4" y1="715.8" x2="446.0" y2="715.8" stroke="#222" stroke-width="1.0" />
<circle cx="444.2" cy="712.5" r="2.3" fill="#222"/>
<line x1="460.9" y1="705.2" x2="460.9" y2="711.7" stroke="#222" stroke-width="1.0" />
<line x1="459.1" y1="705.2" x2="462.7" y2="705.2" stroke="#222" stroke-width="1.0" />
<line x1="459.1" y1="711.7" x2="462.7" y2="711.7" stroke="#222" stroke-width="1.0" />
<circle cx="460.9" cy="708.5" r="2.3" fill="#222"/>
<line x1="477.5" y1="703.2" x2="477.5" y2="709.7" stroke="#222" stroke-width="1.0" />
<line x1="475.7" y1="703.2" x2="479.3" y2="703.2" stroke="#222" stroke-width="1.0" />
<line x1="475.7" y1="709.7" x2="479.3" y2="709.7" stroke="#222" stroke-width="1.0" />
<circle cx="477.5" cy="706.5" r="2.3" fill="#222"/>
<line x1="494.2" y1="699.2" x2="494.2" y2="705.6" stroke="#222" stroke-width="1.0" />
<line x1="492.4" y1="699.2" x2="496.0" y2="699.2" stroke="#222" stroke-width="1.0" />
<line x1="492.4" y1="705.6" x2="496.0" y2="705.6" stroke="#222" stroke-width="1.0" />
<circle cx="494.2" cy="702.4" r="2.3" fill="#222"/>
<line x1="510.9" y1="695.1" x2="510.9" y2="701.6" stroke="#222" stroke-width="1.0" />
<line x1="509.1" y1="695.1" x2="512.7" y2="695.1" stroke="#222" stroke-width="1.0" />
<line x1="509.1" y1="701.6" x2="512.7" y2="701.6" stroke="#222" stroke-width="1.0" />
<circle cx="510.9" cy="698.4" r="2.3" fill="#222"/>
<line x1="527.6" y1="689.0" x2="527.6" y2="695.5" stroke="#222" stroke-width="1.0" />
<line x1="525.8" y1="689.0" x2="529.4" y2="689.0" stroke="#222" stroke-width="1.0" />
<line x1="525.8" y1="695.5" x2="529.4" y2="695.5" stroke="#222" stroke-width="1.0" />
<circle cx="527.6" cy="692.3" r="2.3" fill="#222"/>
<line x1="544.3" y1="687.0" x2="544.3" y2="693.5" stroke="#222" stroke-width="1.0" />
<line x1="542.5" y1="687.0" x2="546.1" y2="687.0" stroke="#222" stroke-width="1.0" />
<line x1="542.5" y1="693.5" x2="546.1" y2="693.5" stroke="#222" stroke-width="1.0" />
<circle cx="544.3" cy="690.2" r="2.3" fill="#222"/>
<line x1="560.9" y1="680.9" x2="560.9" y2="687.4" stroke="#222" stroke-width="1.0" />
<line x1="559.1" y1="680.9" x2="562.7" y2="680.9" stroke="#222" stroke-width="1.0" />
<line x1="559.1" y1="687.4" x2="562.7" y2="687.4" stroke="#222" stroke-width="1.0" />
<circle cx="560.9" cy="684.2" r="2.3" fill="#222"/>
<line x1="577.6" y1="676.9" x2="577.6" y2="683.4" stroke="#222" stroke-width="1.0" />
<line x1="575.8" y1="676.9" x2="579.4" y2="676.9" stroke="#222" stroke-width="1.0" />
<line x1="575.8" y1="683.4" x2="579.4" y2="683.4" stroke="#222" stroke-width="1.0" />
<circle cx="577.6" cy="680.1" r="2.3" fill="#222"/>
<line x1="594.3" y1="672.8" x2="594.3" y2="679.3" stroke="#222" stroke-width="1.0" />
<line x1="592.5" y1="672.8" x2="596.1" y2="672.8" stroke="#222" stroke-width="1.0" />
<line x1="592.5" y1="679.3" x2="596.1" y2="679.3" stroke="#222" stroke-width="1.0" />
<circle cx="594.3" cy="676.1" r="2.3" fill="#222"/>
<line x1="611.0" y1="670.8" x2="611.0" y2="677.3" stroke="#222" stroke-width="1.0" />
<line x1="609.2" y1="670.8" x2="612.8" y2="670.8" stroke="#222" stroke-width="1.0" />
<line x1="609.2" y1="677.3" x2="612.8" y2="677.3" stroke="#222" stroke-width="1.0" />
<circle cx="611.0" cy="674.1" r="2.3" fill="#222"/>
<line x1="627.7" y1="666.8" x2="627.7" y2="673.2" stroke="#222" stroke-width="1.0" />
<line x1="625.9" y1="666.8" x2="629.5" y2="666.8" stroke="#222" stroke-width="1.0" />
<line x1="625.9" y1="673.2" x2="629.5" y2="673.2" stroke="#222" stroke-width="1.0" />
<circle cx="627.7" cy="670.0" r="2.3" fill="#222"/>
<line x1="644.3" y1="664.7" x2="644.3" y2="671.2" stroke="#222" stroke-width="1.0" />
<line x1="642.5" y1="664.7" x2="646.1" y2="664.7" stroke="#222" stroke-width="1.0" />
<line x1="642.5" y1="671.2" x2="646.1" y2="671.2" stroke="#222" stroke-width="1.0" />
<circle cx="644.3" cy="668.0" r="2.3" fill="#222"/>
<line x1="661.0" y1="662.7" x2="661.0" y2="669.2" stroke="#222" stroke-width="1.0" />
<line x1="659.2" y1="662.7" x2="662.8" y2="662.7" stroke="#222" stroke-width="1.0" />
<line x1="659.2" y1="669.2" x2="662.8" y2="669.2" stroke="#222" stroke-width="1.0" />
<circle cx="661.0" cy="666.0" r="2.3" fill="#222"/>
<line x1="677.7" y1="660.7" x2="677.7" y2="667.2" stroke="#222" stroke-width="1.0" />
<line x1="675.9" y1="660.7" x2="679.5" y2="660.7" stroke="#222" stroke-width="1.0" />
<line x1="675.9" y1="667.2" x2="679.5" y2="667.2" stroke="#222" stroke-width="1.0" />
<circle cx="677.7" cy="663.9" r="2.3" fill="#222"/>
<line x1="694.4" y1="660.7" x2="694.4" y2="667.2" stroke="#222" stroke-width="1.0" />
<line x1="692.6" y1="660.7" x2="696.2" y2="660.7" stroke="#222" stroke-width="1.0" />
<line x1="692.6" y1="667.2" x2="696.2" y2="667.2" stroke="#222" stroke-width="1.0" />
<circle cx="694.4" cy="663.9" r="2.3" fill="#222"/>
<polyline points="427.5,718.6 435.8,710.5 444.2,706.5 460.9,700.4 477.5,696.3 494.2,690.2 510.9,686.2 527.6,682.1 544.3,672.0 560.9,663.9 577.6,655.8 594.3,645.7 611.0,635.6 627.7,625.5 644.3,623.4 661.0,621.4 677.7,621.4 694.4,619.4" fill="none" stroke="#2020e0" stroke-width="1.3" stroke-linejoin="round" />
<line x1="427.5" y1="715.4" x2="427.5" y2="721.8" stroke="#2020e0" stroke-width="1.0" />
<line x1="425.7" y1="715.4" x2="429.3" y2="715.4" stroke="#2020e0" stroke-width="1.0" />
<line x1="425.7" y1="721.8" x2="429.3" y2="721.8" stroke="#2020e0" stroke-width="1.0" />
<path d="M427.5,716.0 L430.0,720.6 L425.0,720.6 Z" fill="#2020e0"/>
<line x1="435.8" y1="707.3" x2="435.8" y2="713.7" stroke="#2020e0" stroke-width="1.0" />
<line x1="434.0" y1="707.3" x2="437.6" y2="707.3" stroke="#2020e0" stroke-width="1.0" />
<line x1="434.0" y1="713.7" x2="437.6" y2="713.7" stroke="#2020e0" stroke-width="1.0" />
<path d="M435.8,707.9 L438.3,712.5 L433.3,712.5 Z" fill="#2020e0"/>
<line x1="444.2" y1="703.2" x2="444.2" y2="709.7" stroke="#2020e0" stroke-width="1.0" />
<line x1="442.4" y1="703.2" x2="446.0" y2="703.2" stroke="#2020e0" stroke-width="1.0" />
<line x1="442.4" y1="709.7" x2="446.0" y2="709.7" stroke="#2020e0" stroke-width="1.0" />
<path d="M444.2,703.9 L446.7,708.5 L441.7,708.5 Z" fill="#2020e0"/>
<line x1="460.9" y1="697.1" x2="460.9" y2="703.6" stroke="#2020e0" stroke-width="1.0" />
<line x1="459.1" y1="697.1" x2="462.7" y2="697.1" stroke="#2020e0" stroke-width="1.0" />
<line x1="459.1" y1="703.6" x2="462.7" y2="703.6" stroke="#2020e0" stroke-width="1.0" />
<path d="M460.9,697.8 L463.4,702.4 L458.4,702.4 Z" fill="#2020e0"/>
<line x1="477.5" y1="693.1" x2="477.5" y2="699.6" stroke="#2020e0" stroke-width="1.0" />
<line x1="475.7" y1="693.1" x2="479.3" y2="693.1" stroke="#2020e0" stroke-width="1.0" />
<line x1="475.7" y1="699.6" x2="479.3" y2="699.6" stroke="#2020e0" stroke-width="1.0" />
<path d="M477.5,693.7 L480.0,698.3 L475.0,698.3 Z" fill="#2020e0"/>
<line x1="494.2" y1="687.0" x2="494.2" y2="693.5" stroke="#2020e0" stroke-width="1.0" />
<line x1="492.4" y1="687.0" x2="496.0" y2="687.0" stroke="#2020e0" stroke-width="1.0" />
<line x1="492.4" y1="693.5" x2="496.0" y2="693.5" stroke="#2020e0" stroke-width="1.0" />
<path d="M494.2,687.6 L496.7,692.2 L491.7,692.2 Z" fill="#2020e0"/>
<line x1="510.9" y1="683.0" x2="510.9" y2="689.4" stroke="#2020e0" stroke-width="1.0" />
<line x1="509.1" y1="683.0" x2="512.7" y2="683.0" stroke="#2020e0" stroke-width="1.0" />
<line x1="509.1" y1="689.4" x2="512.7" y2="689.4" stroke="#2020e0" stroke-width="1.0" />
<path d="M510.9,683.6 L513.4,688.2 L508.4,688.2 Z" fill="#2020e0"/>
<line x1="527.6" y1="678.9" x2="527.6" y2="685.4" stroke="#2020e0" stroke-width="1.0" />
<line x1="525.8" y1="678.9" x2="529.4" y2="678.9" stroke="#2020e0" stroke-width="1.0" />
<line x1="525.8" y1="685.4" x2="529.4" y2="685.4" stroke="#2020e0" stroke-width="1.0" />
<path d="M527.6,679.5 L530.1,684.1 L525.1,684.1 Z" fill="#2020e0"/>
<line x1="544.3" y1="668.8" x2="544.3" y2="675.3" stroke="#2020e0" stroke-width="1.0" />
<line x1="542.5" y1="668.8" x2="546.1" y2="668.8" stroke="#2020e0" stroke-width="1.0" />
<line x1="542.5" y1="675.3" x2="546.1" y2="675.3" stroke="#2020e0" stroke-width="1.0" />
<path d="M544.3,669.4 L546.8,674.0 L541.8,674.0 Z" fill="#2020e0"/>
<line x1="560.9" y1="660.7" x2="560.9" y2="667.2" stroke="#2020e0" stroke-width="1.0" />
<line x1="559.1" y1="660.7" x2="562.7" y2="660.7" stroke="#2020e0" stroke-width="1.0" />
<line x1="559.1" y1="667.2" x2="562.7" y2="667.2" stroke="#2020e0" stroke-width="1.0" />
<path d="M560.9,661.3 L563.4,665.9 L558.4,665.9 Z" fill="#2020e0"/>
<line x1="577.6" y1="652.6" x2="577.6" y2="659.1" stroke="#2020e0" stroke-width="1.0" />
<line x1="575.8" y1="652.6" x2="579.4" y2="652.6" stroke="#2020e0" stroke-width="1.0" />
<line x1="575.8" y1="659.1" x2="579.4" y2="659.1" stroke="#2020e0" stroke-width="1.0" />
<path d="M577.6,653.2 L580.1,657.8 L575.1,657.8 Z" fill="#2020e0"/>
<line x1="594.3" y1="642.5" x2="594.3" y2="648.9" stroke="#2020e0" stroke-width="1.0" />
<line x1="592.5" y1="642.5" x2="596.1" y2="642.5" stroke="#2020e0" stroke-width="1.0" />
<line x1="592.5" y1="648.9" x2="596.1" y2="648.9" stroke="#2020e0" stroke-width="1.0" />
<path d="M594.3,643.1 L596.8,647.7 L591.8,647.7 Z" fill="#2020e0"/>
<line x1="611.0" y1="632.3" x2="611.0" y2="638.8" stroke="#2020e0" stroke-width="1.0" />
<line x1="609.2" y1="632.3" x2="612.8" y2="632.3" stroke="#2020e0" stroke-width="1.0" />
<line x1="609.2" y1="638.8" x2="612.8" y2="638.8" stroke="#2020e0" stroke-width="1.0" />
<path d="M611.0,633.0 L613.5,637.6 L608.5,637.6 Z" fill="#2020e0"/>
<line x1="627.7" y1="622.2" x2="627.7" y2="628.7" stroke="#2020e0" stroke-width="1.0" />
<line x1="625.9" y1="622.2" x2="629.5" y2="622.2" stroke="#2020e0" stroke-width="1.0" />
<line x1="625.9" y1="628.7" x2="629.5" y2="628.7" stroke="#2020e0" stroke-width="1.0" />
<path d="M627.7,622.9 L630.2,627.5 L625.2,627.5 Z" fill="#2020e0"/>
<line x1="644.3" y1="620.2" x2="644.3" y2="626.7" stroke="#2020e0" stroke-width="1.0" />
<line x1="642.5" y1="620.2" x2="646.1" y2="620.2" stroke="#2020e0" stroke-width="1.0" />
<line x1="642.5" y1="626.7" x2="646.1" y2="626.7" stroke="#2020e0" stroke-width="1.0" />
<path d="M644.3,620.8 L646.8,625.4 L641.8,625.4 Z" fill="#2020e0"/>
<line x1="661.0" y1="618.2" x2="661.0" y2="624.6" stroke="#2020e0" stroke-width="1.0" />
<line x1="659.2" y1="618.2" x2="662.8" y2="618.2" stroke="#2020e0" stroke-width="1.0" />
<line x1="659.2" y1="624.6" x2="662.8" y2="624.6" stroke="#2020e0" stroke-width="1.0" />
<path d="M661.0,618.8 L663.5,623.4 L658.5,623.4 Z" fill="#2020e0"/>
<line x1="677.7" y1="618.2" x2="677.7" y2="624.6" stroke="#2020e0" stroke-width="1.0" />
<line x1="675.9" y1="618.2" x2="679.5" y2="618.2" stroke="#2020e0" stroke-width="1.0" />
<line x1="675.9" y1="624.6" x2="679.5" y2="624.6" stroke="#2020e0" stroke-width="1.0" />
<path d="M677.7,618.8 L680.2,623.4 L675.2,623.4 Z" fill="#2020e0"/>
<line x1="694.4" y1="616.1" x2="694.4" y2="622.6" stroke="#2020e0" stroke-width="1.0" />
<line x1="692.6" y1="616.1" x2="696.2" y2="616.1" stroke="#2020e0" stroke-width="1.0" />
<line x1="692.6" y1="622.6" x2="696.2" y2="622.6" stroke="#2020e0" stroke-width="1.0" />
<path d="M694.4,616.8 L696.9,621.4 L691.9,621.4 Z" fill="#2020e0"/>
<polyline points="427.5,710.5 435.8,700.4 435.8,696.3 444.2,684.2 460.9,670.0 477.5,661.9 494.2,645.7 510.9,633.6 527.6,625.5 544.3,601.2 560.9,580.9 577.6,564.7 594.3,552.6 611.0,544.5 627.7,540.4 644.3,536.4 661.0,534.3 677.7,532.3 694.4,530.3" fill="none" stroke="#f02020" stroke-width="1.3" stroke-linejoin="round" />
<line x1="427.5" y1="707.3" x2="427.5" y2="713.7" stroke="#f02020" stroke-width="1.0" />
<line x1="425.7" y1="707.3" x2="429.3" y2="707.3" stroke="#f02020" stroke-width="1.0" />
<line x1="425.7" y1="713.7" x2="429.3" y2="713.7" stroke="#f02020" stroke-width="1.0" />
<rect x="425.5" y="708.5" width="4" height="4" fill="#f02020"/>
<line x1="435.8" y1="697.1" x2="435.8" y2="703.6" stroke="#f02020" stroke-width="1.0" />
<line x1="434.0" y1="697.1" x2="437.6" y2="697.1" stroke="#f02020" stroke-width="1.0" />
<line x1="434.0" y1="703.6" x2="437.6" y2="703.6" stroke="#f02020" stroke-width="1.0" />
<rect x="433.8" y="698.4" width="4" height="4" fill="#f02020"/>
<line x1="435.8" y1="693.1" x2="435.8" y2="699.6" stroke="#f02020" stroke-width="1.0" />
<line x1="434.0" y1="693.1" x2="437.6" y2="693.1" stroke="#f02020" stroke-width="1.0" />
<line x1="434.0" y1="699.6" x2="437.6" y2="699.6" stroke="#f02020" stroke-width="1.0" />
<rect x="433.8" y="694.3" width="4" height="4" fill="#f02020"/>
<line x1="444.2" y1="680.9" x2="444.2" y2="687.4" stroke="#f02020" stroke-width="1.0" />
<line x1="442.4" y1="680.9" x2="446.0" y2="680.9" stroke="#f02020" stroke-width="1.0" />
<line x1="442.4" y1="687.4" x2="446.0" y2="687.4" stroke="#f02020" stroke-width="1.0" />
<rect x="442.2" y="682.2" width="4" height="4" fill="#f02020"/>
<line x1="460.9" y1="666.8" x2="460.9" y2="673.2" stroke="#f02020" stroke-width="1.0" />
<line x1="459.1" y1="666.8" x2="462.7" y2="666.8" stroke="#f02020" stroke-width="1.0" />
<line x1="459.1" y1="673.2" x2="462.7" y2="673.2" stroke="#f02020" stroke-width="1.0" />
<rect x="458.9" y="668.0" width="4" height="4" fill="#f02020"/>
<line x1="477.5" y1="658.7" x2="477.5" y2="665.1" stroke="#f02020" stroke-width="1.0" />
<line x1="475.7" y1="658.7" x2="479.3" y2="658.7" stroke="#f02020" stroke-width="1.0" />
<line x1="475.7" y1="665.1" x2="479.3" y2="665.1" stroke="#f02020" stroke-width="1.0" />
<rect x="475.5" y="659.9" width="4" height="4" fill="#f02020"/>
<line x1="494.2" y1="642.5" x2="494.2" y2="648.9" stroke="#f02020" stroke-width="1.0" />
<line x1="492.4" y1="642.5" x2="496.0" y2="642.5" stroke="#f02020" stroke-width="1.0" />
<line x1="492.4" y1="648.9" x2="496.0" y2="648.9" stroke="#f02020" stroke-width="1.0" />
<rect x="492.2" y="643.7" width="4" height="4" fill="#f02020"/>
<line x1="510.9" y1="630.3" x2="510.9" y2="636.8" stroke="#f02020" stroke-width="1.0" />
<line x1="509.1" y1="630.3" x2="512.7" y2="630.3" stroke="#f02020" stroke-width="1.0" />
<line x1="509.1" y1="636.8" x2="512.7" y2="636.8" stroke="#f02020" stroke-width="1.0" />
<rect x="508.9" y="631.6" width="4" height="4" fill="#f02020"/>
<line x1="527.6" y1="622.2" x2="527.6" y2="628.7" stroke="#f02020" stroke-width="1.0" />
<line x1="525.8" y1="622.2" x2="529.4" y2="622.2" stroke="#f02020" stroke-width="1.0" />
<line x1="525.8" y1="628.7" x2="529.4" y2="628.7" stroke="#f02020" stroke-width="1.0" />
<rect x="525.6" y="623.5" width="4" height="4" fill="#f02020"/>
<line x1="544.3" y1="597.9" x2="544.3" y2="604.4" stroke="#f02020" stroke-width="1.0" />
<line x1="542.5" y1="597.9" x2="546.1" y2="597.9" stroke="#f02020" stroke-width="1.0" />
<line x1="542.5" y1="604.4" x2="546.1" y2="604.4" stroke="#f02020" stroke-width="1.0" />
<rect x="542.3" y="599.2" width="4" height="4" fill="#f02020"/>
<line x1="560.9" y1="577.7" x2="560.9" y2="584.1" stroke="#f02020" stroke-width="1.0" />
<line x1="559.1" y1="577.7" x2="562.7" y2="577.7" stroke="#f02020" stroke-width="1.0" />
<line x1="559.1" y1="584.1" x2="562.7" y2="584.1" stroke="#f02020" stroke-width="1.0" />
<rect x="558.9" y="578.9" width="4" height="4" fill="#f02020"/>
<line x1="577.6" y1="561.5" x2="577.6" y2="567.9" stroke="#f02020" stroke-width="1.0" />
<line x1="575.8" y1="561.5" x2="579.4" y2="561.5" stroke="#f02020" stroke-width="1.0" />
<line x1="575.8" y1="567.9" x2="579.4" y2="567.9" stroke="#f02020" stroke-width="1.0" />
<rect x="575.6" y="562.7" width="4" height="4" fill="#f02020"/>
<line x1="594.3" y1="549.3" x2="594.3" y2="555.8" stroke="#f02020" stroke-width="1.0" />
<line x1="592.5" y1="549.3" x2="596.1" y2="549.3" stroke="#f02020" stroke-width="1.0" />
<line x1="592.5" y1="555.8" x2="596.1" y2="555.8" stroke="#f02020" stroke-width="1.0" />
<rect x="592.3" y="550.6" width="4" height="4" fill="#f02020"/>
<line x1="611.0" y1="541.2" x2="611.0" y2="547.7" stroke="#f02020" stroke-width="1.0" />
<line x1="609.2" y1="541.2" x2="612.8" y2="541.2" stroke="#f02020" stroke-width="1.0" />
<line x1="609.2" y1="547.7" x2="612.8" y2="547.7" stroke="#f02020" stroke-width="1.0" />
<rect x="609.0" y="542.5" width="4" height="4" fill="#f02020"/>
<line x1="627.7" y1="537.2" x2="627.7" y2="543.6" stroke="#f02020" stroke-width="1.0" />
<line x1="625.9" y1="537.2" x2="629.5" y2="537.2" stroke="#f02020" stroke-width="1.0" />
<line x1="625.9" y1="543.6" x2="629.5" y2="543.6" stroke="#f02020" stroke-width="1.0" />
<rect x="625.7" y="538.4" width="4" height="4" fill="#f02020"/>
<line x1="644.3" y1="533.1" x2="644.3" y2="539.6" stroke="#f02020" stroke-width="1.0" />
<line x1="642.5" y1="533.1" x2="646.1" y2="533.1" stroke="#f02020" stroke-width="1.0" />
<line x1="642.5" y1="539.6" x2="646.1" y2="539.6" stroke="#f02020" stroke-width="1.0" />
<rect x="642.3" y="534.4" width="4" height="4" fill="#f02020"/>
<line x1="661.0" y1="531.1" x2="661.0" y2="537.6" stroke="#f02020" stroke-width="1.0" />
<line x1="659.2" y1="531.1" x2="662.8" y2="531.1" stroke="#f02020" stroke-width="1.0" />
<line x1="659.2" y1="537.6" x2="662.8" y2="537.6" stroke="#f02020" stroke-width="1.0" />
<rect x="659.0" y="532.3" width="4" height="4" fill="#f02020"/>
<line x1="677.7" y1="529.1" x2="677.7" y2="535.5" stroke="#f02020" stroke-width="1.0" />
<line x1="675.9" y1="529.1" x2="679.5" y2="529.1" stroke="#f02020" stroke-width="1.0" />
<line x1="675.9" y1="535.5" x2="679.5" y2="535.5" stroke="#f02020" stroke-width="1.0" />
<rect x="675.7" y="530.3" width="4" height="4" fill="#f02020"/>
<line x1="694.4" y1="527.0" x2="694.4" y2="533.5" stroke="#f02020" stroke-width="1.0" />
<line x1="692.6" y1="527.0" x2="696.2" y2="527.0" stroke="#f02020" stroke-width="1.0" />
<line x1="692.6" y1="533.5" x2="696.2" y2="533.5" stroke="#f02020" stroke-width="1.0" />
<rect x="692.4" y="528.3" width="4" height="4" fill="#f02020"/>
<text x="667.26" y="546.50" font-size="8.6" font-weight="bold" fill="#f02020" stroke="#f02020" stroke-width="0.19" font-family="'Liberation Serif','Times New Roman',serif" textLength="29.09" lengthAdjust="spacingAndGlyphs">pH-5.4</text>
<text x="666.83" y="633.20" font-size="9.3" font-weight="bold" fill="#3838f0" stroke="#3838f0" stroke-width="0.20" font-family="'Liberation Sans',Arial,sans-serif" textLength="24.24" lengthAdjust="spacingAndGlyphs">pH-6</text>
<text x="664.90" y="679.00" font-size="10" font-weight="bold" fill="#222" stroke="#222" stroke-width="0.22" font-family="'Liberation Sans',Arial,sans-serif" textLength="33.10" lengthAdjust="spacingAndGlyphs">pH-7.2</text>
</svg>
</body></html>
